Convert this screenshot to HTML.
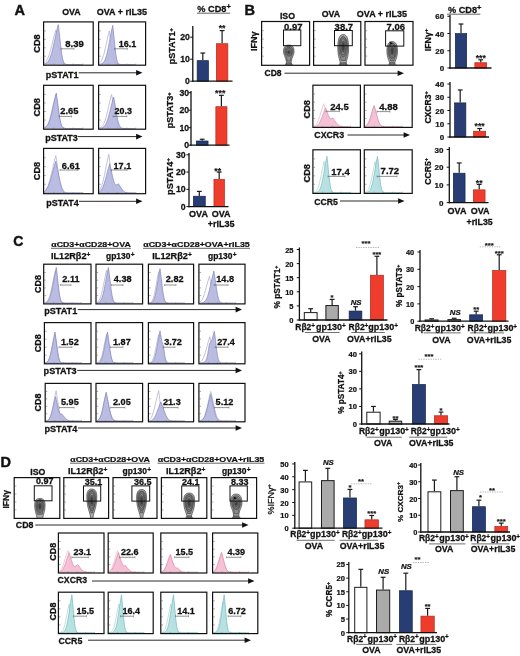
<!DOCTYPE html>
<html lang="en"><head><meta charset="utf-8"><title>Figure</title>
<style>html,body{margin:0;padding:0;background:#fff;}svg{display:block;}</style></head>
<body>
<svg width="520" height="656" viewBox="0 0 520 656" font-family='"Liberation Sans", Arial, Helvetica, sans-serif'>
<rect width="520" height="656" fill="#ffffff"/>
<text x="14.60" y="14.80" font-size="14.5" font-weight="bold" fill="#111" stroke="#111" stroke-width="0.43">A</text>
<text x="71.50" y="15.00" font-size="8.8" font-weight="bold" fill="#111" stroke="#111" stroke-width="0.26" text-anchor="middle">OVA</text>
<text x="121.90" y="15.20" font-size="9.0" font-weight="bold" fill="#111" stroke="#111" stroke-width="0.27" text-anchor="middle">OVA + rIL35</text>
<clipPath id="c430_213"><rect x="44.20" y="22.50" width="48.40" height="42.10"/></clipPath>
<g clip-path="url(#c430_213)">
<path d="M44.20 63.16 L45.11 62.45 L46.02 61.44 L46.92 60.07 L47.83 58.26 L48.74 55.98 L49.65 53.23 L50.55 50.06 L51.46 46.58 L52.37 42.93 L53.28 39.28 L54.18 35.78 L55.09 32.52 L55.82 30.08 L56.00 31.16 L56.91 37.02 L57.81 43.51 L58.72 49.92 L59.63 55.35 L60.54 59.32 L61.44 61.84 L62.35 63.25 L63.26 63.96 L64.16 64.29 L65.07 64.44 L65.98 64.51 L66.89 64.54 L67.80 64.57 L68.70 64.58 L69.61 64.59 L70.52 64.59 L71.43 64.59 L72.33 64.60 L73.24 64.60 L74.15 64.60 L75.06 64.60 L75.96 64.60 L76.87 64.60 L77.78 64.60 L78.69 64.60 L79.59 64.60 L80.50 64.60" fill="#ffffff" fill-opacity="0.6" stroke="#b4b4cf" stroke-width="0.8"/>
<path d="M44.20 64.05 L45.17 63.74 L46.14 63.26 L47.10 62.53 L48.07 61.46 L49.04 59.93 L50.01 57.86 L50.98 55.18 L51.94 51.88 L52.91 48.01 L53.88 43.72 L54.85 39.21 L55.82 34.72 L56.78 30.43 L57.75 26.47 L58.24 24.61 L58.72 28.37 L59.69 36.81 L60.66 45.68 L61.62 53.36 L62.59 58.77 L63.56 61.92 L64.53 63.46 L65.50 64.12 L66.46 64.38 L67.43 64.49 L68.40 64.54 L69.37 64.56 L70.34 64.58 L71.30 64.59 L72.27 64.59 L73.24 64.60 L74.21 64.60 L75.18 64.60 L76.14 64.60 L77.11 64.60 L78.08 64.60 L79.05 64.60 L80.02 64.60 L80.98 64.60 L81.95 64.60 L82.92 64.60 L82.92 64.60 L44.20 64.60 Z" fill="#b4b6e0" fill-opacity="0.92" stroke="#8385c1" stroke-width="0.7"/>
</g>
<line x1="44.20" y1="30.92" x2="45.80" y2="30.92" stroke="#555" stroke-width="0.5"/>
<line x1="44.20" y1="39.34" x2="45.80" y2="39.34" stroke="#555" stroke-width="0.5"/>
<line x1="44.20" y1="47.76" x2="45.80" y2="47.76" stroke="#555" stroke-width="0.5"/>
<line x1="44.20" y1="56.18" x2="45.80" y2="56.18" stroke="#555" stroke-width="0.5"/>
<line x1="53.88" y1="64.60" x2="53.88" y2="63.40" stroke="#777" stroke-width="0.4"/>
<line x1="63.56" y1="64.60" x2="63.56" y2="63.40" stroke="#777" stroke-width="0.4"/>
<line x1="73.24" y1="64.60" x2="73.24" y2="63.40" stroke="#777" stroke-width="0.4"/>
<line x1="82.92" y1="64.60" x2="82.92" y2="63.40" stroke="#777" stroke-width="0.4"/>
<rect x="43.60" y="21.90" width="49.60" height="43.30" fill="none" stroke="#111" stroke-width="1.2"/>
<line x1="61.00" y1="48.80" x2="74.00" y2="48.80" stroke="#666" stroke-width="0.7"/>
<line x1="61.00" y1="47.80" x2="61.00" y2="49.80" stroke="#666" stroke-width="0.5"/>
<line x1="74.00" y1="47.80" x2="74.00" y2="49.80" stroke="#666" stroke-width="0.5"/>
<text x="65.20" y="46.60" font-size="9.5" font-weight="bold" fill="#111" stroke="#111" stroke-width="0.28" textLength="18.60" lengthAdjust="spacingAndGlyphs">8.39</text>
<clipPath id="c980_213"><rect x="99.20" y="22.50" width="45.80" height="42.10"/></clipPath>
<g clip-path="url(#c980_213)">
<path d="M99.20 63.37 L100.06 62.66 L100.92 61.61 L101.78 60.12 L102.64 58.09 L103.49 55.49 L104.35 52.33 L105.21 48.71 L106.07 44.79 L106.93 40.80 L107.79 36.94 L108.65 33.36 L109.28 30.92 L109.51 32.43 L110.36 38.62 L111.22 45.43 L112.08 51.91 L112.94 57.11 L113.80 60.63 L114.66 62.69 L115.52 63.73 L116.38 64.20 L117.23 64.41 L118.09 64.50 L118.95 64.54 L119.81 64.56 L120.67 64.58 L121.53 64.59 L122.39 64.59 L123.25 64.59 L124.10 64.60 L124.96 64.60 L125.82 64.60 L126.68 64.60 L127.54 64.60 L128.40 64.60 L129.26 64.60 L130.12 64.60 L130.97 64.60 L131.83 64.60 L132.69 64.60 L133.55 64.60" fill="#ffffff" fill-opacity="0.6" stroke="#b4b4cf" stroke-width="0.8"/>
<path d="M99.20 64.36 L100.12 64.22 L101.03 64.00 L101.95 63.61 L102.86 62.98 L103.78 61.99 L104.70 60.50 L105.61 58.37 L106.53 55.51 L107.44 51.88 L108.36 47.58 L109.28 42.81 L110.19 37.85 L111.11 33.03 L112.02 28.55 L112.71 25.45 L112.94 27.38 L113.86 35.95 L114.77 45.24 L115.69 53.38 L116.60 59.03 L117.52 62.19 L118.44 63.64 L119.35 64.21 L120.27 64.43 L121.18 64.51 L122.10 64.55 L123.02 64.57 L123.93 64.58 L124.85 64.59 L125.76 64.60 L126.68 64.60 L127.60 64.60 L128.51 64.60 L129.43 64.60 L130.34 64.60 L131.26 64.60 L132.18 64.60 L133.09 64.60 L134.01 64.60 L134.92 64.60 L135.84 64.60 L135.84 64.60 L99.20 64.60 Z" fill="#b4b6e0" fill-opacity="0.92" stroke="#8385c1" stroke-width="0.7"/>
</g>
<line x1="99.20" y1="30.92" x2="100.80" y2="30.92" stroke="#555" stroke-width="0.5"/>
<line x1="99.20" y1="39.34" x2="100.80" y2="39.34" stroke="#555" stroke-width="0.5"/>
<line x1="99.20" y1="47.76" x2="100.80" y2="47.76" stroke="#555" stroke-width="0.5"/>
<line x1="99.20" y1="56.18" x2="100.80" y2="56.18" stroke="#555" stroke-width="0.5"/>
<line x1="108.36" y1="64.60" x2="108.36" y2="63.40" stroke="#777" stroke-width="0.4"/>
<line x1="117.52" y1="64.60" x2="117.52" y2="63.40" stroke="#777" stroke-width="0.4"/>
<line x1="126.68" y1="64.60" x2="126.68" y2="63.40" stroke="#777" stroke-width="0.4"/>
<line x1="135.84" y1="64.60" x2="135.84" y2="63.40" stroke="#777" stroke-width="0.4"/>
<rect x="98.60" y="21.90" width="47.00" height="43.30" fill="none" stroke="#111" stroke-width="1.2"/>
<line x1="114.50" y1="48.80" x2="127.50" y2="48.80" stroke="#666" stroke-width="0.7"/>
<line x1="114.50" y1="47.80" x2="114.50" y2="49.80" stroke="#666" stroke-width="0.5"/>
<line x1="127.50" y1="47.80" x2="127.50" y2="49.80" stroke="#666" stroke-width="0.5"/>
<text x="118.80" y="46.60" font-size="9.5" font-weight="bold" fill="#111" stroke="#111" stroke-width="0.28" textLength="17.60" lengthAdjust="spacingAndGlyphs">16.1</text>
<text x="40.00" y="43.55" font-size="9.2" font-weight="bold" fill="#111" stroke="#111" stroke-width="0.28" text-anchor="middle" transform="rotate(-90 40.00 43.55)">CD8</text>
<clipPath id="c430_847"><rect x="44.20" y="85.90" width="48.40" height="42.70"/></clipPath>
<g clip-path="url(#c430_847)">
<path d="M44.20 127.84 L45.11 127.39 L46.02 126.69 L46.92 125.65 L47.83 124.17 L48.74 122.15 L49.65 119.56 L50.55 116.39 L51.46 112.74 L52.37 108.78 L53.28 104.73 L54.18 100.80 L55.09 97.15 L55.82 94.44 L56.00 95.47 L56.91 101.01 L57.81 107.16 L58.72 113.30 L59.63 118.64 L60.54 122.68 L61.44 125.37 L62.35 126.95 L63.26 127.79 L64.16 128.20 L65.07 128.39 L65.98 128.48 L66.89 128.53 L67.80 128.56 L68.70 128.57 L69.61 128.58 L70.52 128.59 L71.43 128.59 L72.33 128.59 L73.24 128.60 L74.15 128.60 L75.06 128.60 L75.96 128.60 L76.87 128.60 L77.78 128.60 L78.69 128.60 L79.59 128.60 L80.50 128.60" fill="#ffffff" fill-opacity="0.6" stroke="#b4b4cf" stroke-width="0.8"/>
<path d="M44.20 127.98 L45.17 127.59 L46.14 126.95 L47.10 125.95 L48.07 124.46 L49.04 122.38 L50.01 119.61 L50.98 116.17 L51.94 112.15 L52.91 107.76 L53.88 103.28 L54.85 98.97 L55.82 95.01 L56.30 93.16 L56.78 96.36 L57.75 103.50 L58.72 111.07 L59.69 117.80 L60.66 122.73 L61.62 125.76 L62.59 127.33 L63.56 128.05 L64.53 128.35 L65.50 128.48 L66.46 128.53 L67.43 128.56 L68.40 128.58 L69.37 128.59 L70.34 128.59 L71.30 128.59 L72.27 128.60 L73.24 128.60 L74.21 128.60 L75.18 128.60 L76.14 128.60 L77.11 128.60 L78.08 128.60 L79.05 128.60 L80.02 128.60 L80.98 128.60 L81.95 128.60 L82.92 128.60 L82.92 128.60 L44.20 128.60 Z" fill="#b4b6e0" fill-opacity="0.92" stroke="#8385c1" stroke-width="0.7"/>
</g>
<line x1="44.20" y1="94.44" x2="45.80" y2="94.44" stroke="#555" stroke-width="0.5"/>
<line x1="44.20" y1="102.98" x2="45.80" y2="102.98" stroke="#555" stroke-width="0.5"/>
<line x1="44.20" y1="111.52" x2="45.80" y2="111.52" stroke="#555" stroke-width="0.5"/>
<line x1="44.20" y1="120.06" x2="45.80" y2="120.06" stroke="#555" stroke-width="0.5"/>
<line x1="53.88" y1="128.60" x2="53.88" y2="127.40" stroke="#777" stroke-width="0.4"/>
<line x1="63.56" y1="128.60" x2="63.56" y2="127.40" stroke="#777" stroke-width="0.4"/>
<line x1="73.24" y1="128.60" x2="73.24" y2="127.40" stroke="#777" stroke-width="0.4"/>
<line x1="82.92" y1="128.60" x2="82.92" y2="127.40" stroke="#777" stroke-width="0.4"/>
<rect x="43.60" y="85.30" width="49.60" height="43.90" fill="none" stroke="#111" stroke-width="1.2"/>
<line x1="59.00" y1="116.40" x2="71.50" y2="116.40" stroke="#666" stroke-width="0.7"/>
<line x1="59.00" y1="115.40" x2="59.00" y2="117.40" stroke="#666" stroke-width="0.5"/>
<line x1="71.50" y1="115.40" x2="71.50" y2="117.40" stroke="#666" stroke-width="0.5"/>
<text x="60.20" y="114.20" font-size="9.5" font-weight="bold" fill="#111" stroke="#111" stroke-width="0.28" textLength="18.20" lengthAdjust="spacingAndGlyphs">2.65</text>
<clipPath id="c980_847"><rect x="99.20" y="85.90" width="45.80" height="42.70"/></clipPath>
<g clip-path="url(#c980_847)">
<path d="M99.20 128.07 L100.06 127.78 L100.92 127.34 L101.78 126.66 L102.64 125.68 L103.49 124.30 L104.35 122.46 L105.21 120.09 L106.07 117.21 L106.93 113.88 L107.79 110.21 L108.65 106.39 L109.51 102.61 L110.36 99.02 L111.22 95.70 L111.57 94.44 L112.08 97.05 L112.94 101.80 L113.80 106.95 L114.66 112.11 L115.52 116.81 L116.38 120.70 L117.23 123.62 L118.09 125.64 L118.95 126.91 L119.81 127.67 L120.67 128.08 L121.53 128.31 L122.39 128.43 L123.25 128.49 L124.10 128.53 L124.96 128.55 L125.82 128.57 L126.68 128.58 L127.54 128.58 L128.40 128.59 L129.26 128.59 L130.12 128.59 L130.97 128.60 L131.83 128.60 L132.69 128.60 L133.55 128.60" fill="#ffffff" fill-opacity="0.6" stroke="#b4b4cf" stroke-width="0.8"/>
<path d="M99.20 128.42 L100.12 128.32 L101.03 128.16 L101.95 127.91 L102.86 127.50 L103.78 126.86 L104.70 125.90 L105.61 124.53 L106.53 122.65 L107.44 120.24 L108.36 117.28 L109.28 113.88 L110.19 110.18 L111.11 106.41 L112.02 102.76 L112.94 99.37 L113.63 97.00 L113.86 98.17 L114.77 103.20 L115.69 108.77 L116.60 114.32 L117.52 119.19 L118.44 122.92 L119.35 125.44 L120.27 126.95 L121.18 127.78 L122.10 128.19 L123.02 128.39 L123.93 128.48 L124.85 128.53 L125.76 128.55 L126.68 128.57 L127.60 128.58 L128.51 128.59 L129.43 128.59 L130.34 128.59 L131.26 128.60 L132.18 128.60 L133.09 128.60 L134.01 128.60 L134.92 128.60 L135.84 128.60 L135.84 128.60 L99.20 128.60 Z" fill="#b4b6e0" fill-opacity="0.92" stroke="#8385c1" stroke-width="0.7"/>
</g>
<line x1="99.20" y1="94.44" x2="100.80" y2="94.44" stroke="#555" stroke-width="0.5"/>
<line x1="99.20" y1="102.98" x2="100.80" y2="102.98" stroke="#555" stroke-width="0.5"/>
<line x1="99.20" y1="111.52" x2="100.80" y2="111.52" stroke="#555" stroke-width="0.5"/>
<line x1="99.20" y1="120.06" x2="100.80" y2="120.06" stroke="#555" stroke-width="0.5"/>
<line x1="108.36" y1="128.60" x2="108.36" y2="127.40" stroke="#777" stroke-width="0.4"/>
<line x1="117.52" y1="128.60" x2="117.52" y2="127.40" stroke="#777" stroke-width="0.4"/>
<line x1="126.68" y1="128.60" x2="126.68" y2="127.40" stroke="#777" stroke-width="0.4"/>
<line x1="135.84" y1="128.60" x2="135.84" y2="127.40" stroke="#777" stroke-width="0.4"/>
<rect x="98.60" y="85.30" width="47.00" height="43.90" fill="none" stroke="#111" stroke-width="1.2"/>
<line x1="113.00" y1="116.40" x2="127.00" y2="116.40" stroke="#666" stroke-width="0.7"/>
<line x1="113.00" y1="115.40" x2="113.00" y2="117.40" stroke="#666" stroke-width="0.5"/>
<line x1="127.00" y1="115.40" x2="127.00" y2="117.40" stroke="#666" stroke-width="0.5"/>
<text x="114.60" y="114.20" font-size="9.5" font-weight="bold" fill="#111" stroke="#111" stroke-width="0.28" textLength="17.40" lengthAdjust="spacingAndGlyphs">20.3</text>
<text x="40.00" y="107.25" font-size="9.2" font-weight="bold" fill="#111" stroke="#111" stroke-width="0.28" text-anchor="middle" transform="rotate(-90 40.00 107.25)">CD8</text>
<clipPath id="c430_1478"><rect x="44.20" y="149.00" width="48.40" height="44.10"/></clipPath>
<g clip-path="url(#c430_1478)">
<path d="M44.20 191.54 L45.11 190.77 L46.02 189.67 L46.92 188.18 L47.83 186.21 L48.74 183.74 L49.65 180.75 L50.55 177.31 L51.46 173.53 L52.37 169.57 L53.28 165.61 L54.18 161.81 L55.09 158.27 L55.82 155.62 L56.00 156.74 L56.91 162.82 L57.81 169.57 L58.72 176.31 L59.63 182.17 L60.54 186.61 L61.44 189.56 L62.35 191.29 L63.26 192.21 L64.16 192.66 L65.07 192.87 L65.98 192.97 L66.89 193.02 L67.80 193.05 L68.70 193.07 L69.61 193.08 L70.52 193.09 L71.43 193.09 L72.33 193.09 L73.24 193.10 L74.15 193.10 L75.06 193.10 L75.96 193.10 L76.87 193.10 L77.78 193.10 L78.69 193.10 L79.59 193.10 L80.50 193.10" fill="#ffffff" fill-opacity="0.6" stroke="#b4b4cf" stroke-width="0.8"/>
<path d="M44.20 191.78 L45.17 191.07 L46.14 190.05 L47.10 188.63 L48.07 186.75 L49.04 184.37 L50.01 181.51 L50.98 178.26 L51.94 174.74 L52.91 171.15 L53.88 167.65 L54.85 164.37 L55.82 161.35 L55.82 161.35 L56.78 165.51 L57.75 170.13 L58.72 175.00 L59.69 179.70 L60.66 183.80 L61.62 187.05 L62.59 189.39 L63.56 190.95 L64.53 191.90 L65.50 192.44 L66.46 192.73 L67.43 192.89 L68.40 192.97 L69.37 193.02 L70.34 193.05 L71.30 193.06 L72.27 193.07 L73.24 193.08 L74.21 193.09 L75.18 193.09 L76.14 193.09 L77.11 193.10 L78.08 193.10 L79.05 193.10 L80.02 193.10 L80.98 193.10 L81.95 193.10 L82.92 193.10 L82.92 193.10 L44.20 193.10 Z" fill="#b4b6e0" fill-opacity="0.92" stroke="#8385c1" stroke-width="0.7"/>
</g>
<line x1="44.20" y1="157.82" x2="45.80" y2="157.82" stroke="#555" stroke-width="0.5"/>
<line x1="44.20" y1="166.64" x2="45.80" y2="166.64" stroke="#555" stroke-width="0.5"/>
<line x1="44.20" y1="175.46" x2="45.80" y2="175.46" stroke="#555" stroke-width="0.5"/>
<line x1="44.20" y1="184.28" x2="45.80" y2="184.28" stroke="#555" stroke-width="0.5"/>
<line x1="53.88" y1="193.10" x2="53.88" y2="191.90" stroke="#777" stroke-width="0.4"/>
<line x1="63.56" y1="193.10" x2="63.56" y2="191.90" stroke="#777" stroke-width="0.4"/>
<line x1="73.24" y1="193.10" x2="73.24" y2="191.90" stroke="#777" stroke-width="0.4"/>
<line x1="82.92" y1="193.10" x2="82.92" y2="191.90" stroke="#777" stroke-width="0.4"/>
<rect x="43.60" y="148.40" width="49.60" height="45.30" fill="none" stroke="#111" stroke-width="1.2"/>
<line x1="60.00" y1="170.00" x2="78.00" y2="170.00" stroke="#666" stroke-width="0.7"/>
<line x1="60.00" y1="169.00" x2="60.00" y2="171.00" stroke="#666" stroke-width="0.5"/>
<line x1="78.00" y1="169.00" x2="78.00" y2="171.00" stroke="#666" stroke-width="0.5"/>
<text x="61.80" y="169.00" font-size="9.5" font-weight="bold" fill="#111" stroke="#111" stroke-width="0.28" textLength="18.00" lengthAdjust="spacingAndGlyphs">6.61</text>
<clipPath id="c980_1478"><rect x="99.20" y="149.00" width="45.80" height="44.10"/></clipPath>
<g clip-path="url(#c980_1478)">
<path d="M99.20 190.71 L100.06 189.51 L100.92 187.84 L101.78 185.63 L102.64 182.83 L103.49 179.44 L104.35 175.57 L105.21 171.35 L106.07 167.00 L106.93 162.73 L107.79 158.71 L108.65 155.00 L108.82 154.29 L109.51 160.28 L110.36 168.74 L111.22 177.17 L112.08 184.02 L112.94 188.57 L113.80 191.08 L114.66 192.25 L115.52 192.74 L116.38 192.93 L117.23 193.01 L118.09 193.05 L118.95 193.07 L119.81 193.08 L120.67 193.09 L121.53 193.09 L122.39 193.10 L123.25 193.10 L124.10 193.10 L124.96 193.10 L125.82 193.10 L126.68 193.10 L127.54 193.10 L128.40 193.10 L129.26 193.10 L130.12 193.10 L130.97 193.10 L131.83 193.10 L132.69 193.10 L133.55 193.10" fill="#ffffff" fill-opacity="0.6" stroke="#b4b4cf" stroke-width="0.8"/>
<path d="M99.20 191.96 L100.12 191.30 L101.03 190.33 L101.95 188.96 L102.86 187.11 L103.78 184.75 L104.70 181.91 L105.61 178.68 L106.53 175.23 L107.44 171.74 L108.36 168.39 L109.28 165.25 L109.73 163.75 L110.19 165.66 L111.11 169.77 L112.02 174.10 L112.94 178.17 L113.86 181.46 L114.77 183.63 L115.69 184.68 L116.60 184.83 L117.52 184.43 L118.44 183.75 L118.44 183.75 L119.35 185.15 L120.27 186.56 L121.18 187.98 L122.10 189.32 L123.02 190.48 L123.93 191.39 L124.85 192.05 L125.76 192.49 L126.68 192.76 L127.60 192.91 L128.51 192.99 L129.43 193.04 L130.34 193.06 L131.26 193.08 L132.18 193.08 L133.09 193.09 L134.01 193.09 L134.92 193.09 L135.84 193.10 L135.84 193.10 L99.20 193.10 Z" fill="#b4b6e0" fill-opacity="0.92" stroke="#8385c1" stroke-width="0.7"/>
</g>
<line x1="99.20" y1="157.82" x2="100.80" y2="157.82" stroke="#555" stroke-width="0.5"/>
<line x1="99.20" y1="166.64" x2="100.80" y2="166.64" stroke="#555" stroke-width="0.5"/>
<line x1="99.20" y1="175.46" x2="100.80" y2="175.46" stroke="#555" stroke-width="0.5"/>
<line x1="99.20" y1="184.28" x2="100.80" y2="184.28" stroke="#555" stroke-width="0.5"/>
<line x1="108.36" y1="193.10" x2="108.36" y2="191.90" stroke="#777" stroke-width="0.4"/>
<line x1="117.52" y1="193.10" x2="117.52" y2="191.90" stroke="#777" stroke-width="0.4"/>
<line x1="126.68" y1="193.10" x2="126.68" y2="191.90" stroke="#777" stroke-width="0.4"/>
<line x1="135.84" y1="193.10" x2="135.84" y2="191.90" stroke="#777" stroke-width="0.4"/>
<rect x="98.60" y="148.40" width="47.00" height="45.30" fill="none" stroke="#111" stroke-width="1.2"/>
<line x1="111.00" y1="170.00" x2="127.00" y2="170.00" stroke="#666" stroke-width="0.7"/>
<line x1="111.00" y1="169.00" x2="111.00" y2="171.00" stroke="#666" stroke-width="0.5"/>
<line x1="127.00" y1="169.00" x2="127.00" y2="171.00" stroke="#666" stroke-width="0.5"/>
<text x="113.60" y="169.00" font-size="9.5" font-weight="bold" fill="#111" stroke="#111" stroke-width="0.28" textLength="17.60" lengthAdjust="spacingAndGlyphs">17.1</text>
<text x="40.00" y="171.05" font-size="9.2" font-weight="bold" fill="#111" stroke="#111" stroke-width="0.28" text-anchor="middle" transform="rotate(-90 40.00 171.05)">CD8</text>
<text x="45.80" y="77.60" font-size="9.0" font-weight="bold" fill="#111" stroke="#111" stroke-width="0.27">pSTAT1</text>
<line x1="78.60" y1="72.80" x2="137.10" y2="72.80" stroke="#2a2a2a" stroke-width="1.0"/>
<path d="M142.50 72.80 L136.10 70.00 L136.10 75.60 Z" fill="#111"/>
<text x="45.20" y="141.00" font-size="9.0" font-weight="bold" fill="#111" stroke="#111" stroke-width="0.27">pSTAT3</text>
<line x1="78.00" y1="136.60" x2="137.10" y2="136.60" stroke="#2a2a2a" stroke-width="1.0"/>
<path d="M142.50 136.60 L136.10 133.80 L136.10 139.40 Z" fill="#111"/>
<text x="46.20" y="206.00" font-size="9.0" font-weight="bold" fill="#111" stroke="#111" stroke-width="0.27">pSTAT4</text>
<line x1="79.00" y1="201.30" x2="137.10" y2="201.30" stroke="#2a2a2a" stroke-width="1.0"/>
<path d="M142.50 201.30 L136.10 198.50 L136.10 204.10 Z" fill="#111"/>
<text x="197.30" y="11.80" font-size="9.2" font-weight="bold" fill="#111" stroke="#111" stroke-width="0.28">% CD8<tspan dy="-2.76" font-size="7.50">+</tspan></text>
<line x1="197.00" y1="13.20" x2="230.20" y2="13.20" stroke="#222" stroke-width="0.7"/>
<line x1="202.80" y1="60.30" x2="202.80" y2="53.04" stroke="#1a1a1a" stroke-width="1.2"/>
<line x1="200.40" y1="53.04" x2="205.20" y2="53.04" stroke="#1a1a1a" stroke-width="1.2"/>
<rect x="197.15" y="60.65" width="11.30" height="20.55" fill="#273d74" stroke="#15244a" stroke-width="0.7"/>
<line x1="222.10" y1="43.36" x2="222.10" y2="30.60" stroke="#1a1a1a" stroke-width="1.2"/>
<line x1="219.70" y1="30.60" x2="224.50" y2="30.60" stroke="#1a1a1a" stroke-width="1.2"/>
<rect x="216.35" y="43.71" width="11.50" height="37.49" fill="#ee3d2c" stroke="#ae2a1c" stroke-width="0.7"/>
<text x="222.10" y="31.27" font-size="8.8" font-weight="bold" fill="#111" stroke="#111" stroke-width="0.15" text-anchor="middle">**</text>
<line x1="192.80" y1="26.00" x2="192.80" y2="81.85" stroke="#111" stroke-width="1.3"/>
<line x1="192.15" y1="81.20" x2="232.50" y2="81.20" stroke="#111" stroke-width="1.3"/>
<line x1="190.20" y1="81.20" x2="192.80" y2="81.20" stroke="#111" stroke-width="1.0"/>
<text x="189.80" y="84.20" font-size="8.7" font-weight="bold" fill="#111" stroke="#111" stroke-width="0.26" text-anchor="end">0</text>
<line x1="190.20" y1="59.20" x2="192.80" y2="59.20" stroke="#111" stroke-width="1.0"/>
<text x="189.80" y="62.20" font-size="8.7" font-weight="bold" fill="#111" stroke="#111" stroke-width="0.26" text-anchor="end">10</text>
<line x1="190.20" y1="37.20" x2="192.80" y2="37.20" stroke="#111" stroke-width="1.0"/>
<text x="189.80" y="40.20" font-size="8.7" font-weight="bold" fill="#111" stroke="#111" stroke-width="0.26" text-anchor="end">20</text>
<text x="175.20" y="46.20" font-size="9" font-weight="bold" fill="#111" stroke="#111" stroke-width="0.27" text-anchor="middle" transform="rotate(-90 175.20 46.20)">pSTAT1<tspan dy="-2.70" font-size="5.76">+</tspan></text>
<line x1="202.20" y1="140.65" x2="202.20" y2="139.25" stroke="#1a1a1a" stroke-width="1.2"/>
<line x1="199.80" y1="139.25" x2="204.60" y2="139.25" stroke="#1a1a1a" stroke-width="1.2"/>
<rect x="196.35" y="141.00" width="11.70" height="4.20" fill="#273d74" stroke="#15244a" stroke-width="0.7"/>
<line x1="221.40" y1="106.35" x2="221.40" y2="95.33" stroke="#1a1a1a" stroke-width="1.2"/>
<line x1="219.00" y1="95.33" x2="223.80" y2="95.33" stroke="#1a1a1a" stroke-width="1.2"/>
<rect x="215.85" y="106.70" width="11.10" height="38.50" fill="#ee3d2c" stroke="#ae2a1c" stroke-width="0.7"/>
<text x="220.20" y="96.24" font-size="8.8" font-weight="bold" fill="#111" stroke="#111" stroke-width="0.15" text-anchor="middle">***</text>
<line x1="191.00" y1="91.00" x2="191.00" y2="145.85" stroke="#111" stroke-width="1.3"/>
<line x1="190.35" y1="145.20" x2="229.50" y2="145.20" stroke="#111" stroke-width="1.3"/>
<line x1="188.40" y1="145.20" x2="191.00" y2="145.20" stroke="#111" stroke-width="1.0"/>
<text x="189.20" y="148.20" font-size="8.7" font-weight="bold" fill="#111" stroke="#111" stroke-width="0.26" text-anchor="end">0</text>
<line x1="188.40" y1="127.70" x2="191.00" y2="127.70" stroke="#111" stroke-width="1.0"/>
<text x="189.20" y="130.70" font-size="8.7" font-weight="bold" fill="#111" stroke="#111" stroke-width="0.26" text-anchor="end">10</text>
<line x1="188.40" y1="110.20" x2="191.00" y2="110.20" stroke="#111" stroke-width="1.0"/>
<text x="189.20" y="113.20" font-size="8.7" font-weight="bold" fill="#111" stroke="#111" stroke-width="0.26" text-anchor="end">20</text>
<line x1="188.40" y1="92.70" x2="191.00" y2="92.70" stroke="#111" stroke-width="1.0"/>
<text x="189.20" y="95.70" font-size="8.7" font-weight="bold" fill="#111" stroke="#111" stroke-width="0.26" text-anchor="end">30</text>
<text x="173.40" y="110.30" font-size="9" font-weight="bold" fill="#111" stroke="#111" stroke-width="0.27" text-anchor="middle" transform="rotate(-90 173.40 110.30)">pSTAT3<tspan dy="-2.70" font-size="5.76">+</tspan></text>
<line x1="199.30" y1="195.89" x2="199.30" y2="191.41" stroke="#1a1a1a" stroke-width="1.2"/>
<line x1="196.90" y1="191.41" x2="201.70" y2="191.41" stroke="#1a1a1a" stroke-width="1.2"/>
<rect x="193.35" y="196.24" width="11.90" height="10.36" fill="#273d74" stroke="#15244a" stroke-width="0.7"/>
<line x1="219.20" y1="178.97" x2="219.20" y2="172.07" stroke="#1a1a1a" stroke-width="1.2"/>
<line x1="216.80" y1="172.07" x2="221.60" y2="172.07" stroke="#1a1a1a" stroke-width="1.2"/>
<rect x="213.95" y="179.32" width="10.50" height="27.28" fill="#ee3d2c" stroke="#ae2a1c" stroke-width="0.7"/>
<text x="217.80" y="173.64" font-size="8.8" font-weight="bold" fill="#111" stroke="#111" stroke-width="0.15" text-anchor="middle">**</text>
<line x1="189.00" y1="153.00" x2="189.00" y2="207.25" stroke="#111" stroke-width="1.3"/>
<line x1="188.35" y1="206.60" x2="228.50" y2="206.60" stroke="#111" stroke-width="1.3"/>
<line x1="186.40" y1="206.60" x2="189.00" y2="206.60" stroke="#111" stroke-width="1.0"/>
<text x="185.60" y="209.60" font-size="8.7" font-weight="bold" fill="#111" stroke="#111" stroke-width="0.26" text-anchor="end">0</text>
<line x1="186.40" y1="189.33" x2="189.00" y2="189.33" stroke="#111" stroke-width="1.0"/>
<text x="185.60" y="192.33" font-size="8.7" font-weight="bold" fill="#111" stroke="#111" stroke-width="0.26" text-anchor="end">10</text>
<line x1="186.40" y1="172.07" x2="189.00" y2="172.07" stroke="#111" stroke-width="1.0"/>
<text x="185.60" y="175.07" font-size="8.7" font-weight="bold" fill="#111" stroke="#111" stroke-width="0.26" text-anchor="end">20</text>
<line x1="186.40" y1="154.80" x2="189.00" y2="154.80" stroke="#111" stroke-width="1.0"/>
<text x="185.60" y="157.80" font-size="8.7" font-weight="bold" fill="#111" stroke="#111" stroke-width="0.26" text-anchor="end">30</text>
<text x="173.20" y="176.50" font-size="9.2" font-weight="bold" fill="#111" stroke="#111" stroke-width="0.28" text-anchor="middle" transform="rotate(-90 173.20 176.50)">pSTAT4<tspan dy="-2.76" font-size="5.89">+</tspan></text>
<text x="198.50" y="217.00" font-size="9.0" font-weight="bold" fill="#111" stroke="#111" stroke-width="0.27" text-anchor="middle">OVA</text>
<text x="221.20" y="217.00" font-size="9.0" font-weight="bold" fill="#111" stroke="#111" stroke-width="0.27" text-anchor="middle">OVA</text>
<text x="221.20" y="227.00" font-size="9.0" font-weight="bold" fill="#111" stroke="#111" stroke-width="0.27" text-anchor="middle">+rIL35</text>
<text x="244.60" y="14.80" font-size="14.5" font-weight="bold" fill="#111" stroke="#111" stroke-width="0.43">B</text>
<text x="287.50" y="18.80" font-size="8.8" font-weight="bold" fill="#111" stroke="#111" stroke-width="0.26" text-anchor="middle">ISO</text>
<text x="331.00" y="17.00" font-size="8.8" font-weight="bold" fill="#111" stroke="#111" stroke-width="0.26" text-anchor="middle">OVA</text>
<text x="382.00" y="17.30" font-size="9.0" font-weight="bold" fill="#111" stroke="#111" stroke-width="0.27" text-anchor="middle">OVA + rIL35</text>
<clipPath id="k2610_209"><rect x="262.20" y="22.10" width="46.80" height="42.60"/></clipPath>
<g clip-path="url(#k2610_209)">
<path d="M288.80 45.00 C292.74 45.00 294.05 47.47 294.05 51.50 C294.05 56.09 291.05 57.17 291.05 65.00 L286.55 65.00 C286.55 57.17 283.55 56.09 283.55 51.50 C283.55 47.47 284.86 45.00 288.80 45.00Z" fill="#ababab" stroke="#2e2e2e" stroke-width="0.6"/>
<path d="M288.80 46.30 C291.95 46.30 293.00 48.28 293.00 51.50 C293.00 54.76 290.60 55.53 290.60 61.10 L287.00 61.10 C287.00 55.53 284.60 54.76 284.60 51.50 C284.60 48.28 285.65 46.30 288.80 46.30Z" fill="#8e8e8e" stroke="#2e2e2e" stroke-width="0.55"/>
<path d="M288.80 47.26 C290.60 47.26 292.06 49.28 292.06 51.78 C292.06 54.27 290.60 56.29 288.80 56.29 C287.00 56.29 285.55 54.27 285.55 51.78 C285.55 49.28 287.00 47.26 288.80 47.26Z" fill="#7c7c7c" stroke="#2e2e2e" stroke-width="0.5"/>
<path d="M288.80 48.62 C290.10 48.62 291.16 50.09 291.16 51.90 C291.16 53.71 290.10 55.18 288.80 55.18 C287.50 55.18 286.44 53.71 286.44 51.90 C286.44 50.09 287.50 48.62 288.80 48.62Z" fill="#919191" stroke="#2e2e2e" stroke-width="0.5"/>
<path d="M288.80 49.91 C289.64 49.91 290.32 50.85 290.32 52.02 C290.32 53.18 289.64 54.13 288.80 54.13 C287.96 54.13 287.28 53.18 287.28 52.02 C287.28 50.85 287.96 49.91 288.80 49.91Z" fill="#666666" stroke="#2e2e2e" stroke-width="0.5"/>
<path d="M288.80 51.11 C289.21 51.11 289.54 51.56 289.54 52.13 C289.54 52.69 289.21 53.15 288.80 53.15 C288.39 53.15 288.06 52.69 288.06 52.13 C288.06 51.56 288.39 51.11 288.80 51.11Z" fill="#454545" stroke="#2e2e2e" stroke-width="0.5"/>
<path d="M284.95 65.00 L286.55 62.80 L291.05 62.80 L292.65 65.00Z" fill="#777" stroke="#2e2e2e" stroke-width="0.5"/>
</g>
<line x1="262.20" y1="30.62" x2="263.80" y2="30.62" stroke="#555" stroke-width="0.5"/>
<line x1="262.20" y1="39.14" x2="263.80" y2="39.14" stroke="#555" stroke-width="0.5"/>
<line x1="262.20" y1="47.66" x2="263.80" y2="47.66" stroke="#555" stroke-width="0.5"/>
<line x1="262.20" y1="56.18" x2="263.80" y2="56.18" stroke="#555" stroke-width="0.5"/>
<rect x="261.60" y="21.50" width="48.00" height="43.80" fill="none" stroke="#111" stroke-width="1.2"/>
<rect x="283.50" y="30.00" width="17.30" height="15.70" fill="none" stroke="#111" stroke-width="1.0"/>
<text x="284.00" y="29.60" font-size="9.5" font-weight="bold" fill="#111" stroke="#111" stroke-width="0.28">0.97</text>
<clipPath id="k3130_209"><rect x="314.20" y="22.10" width="46.00" height="42.60"/></clipPath>
<g clip-path="url(#k3130_209)">
<path d="M343.20 34.50 C347.25 34.50 348.60 39.63 348.60 48.00 C348.60 57.35 345.95 60.75 345.95 65.00 L340.45 65.00 C340.45 60.75 337.80 57.35 337.80 48.00 C337.80 39.63 339.15 34.50 343.20 34.50Z" fill="#ababab" stroke="#2e2e2e" stroke-width="0.6"/>
<path d="M343.20 37.20 C346.44 37.20 347.52 41.30 347.52 48.00 C347.52 54.82 345.40 57.30 345.40 60.40 L341.00 60.40 C341.00 57.30 338.88 54.82 338.88 48.00 C338.88 41.30 339.96 37.20 343.20 37.20Z" fill="#8e8e8e" stroke="#2e2e2e" stroke-width="0.55"/>
<path d="M343.20 36.32 C345.14 36.32 346.72 40.97 346.72 45.66 C346.72 51.39 345.14 57.08 343.20 57.08 C341.26 57.08 339.68 51.39 339.68 45.66 C339.68 40.97 341.26 36.32 343.20 36.32Z" fill="#7c7c7c" stroke="#2e2e2e" stroke-width="0.5"/>
<path d="M343.20 38.70 C344.61 38.70 345.75 42.28 345.75 45.94 C345.75 50.36 344.61 54.70 343.20 54.70 C341.79 54.70 340.65 50.36 340.65 45.94 C340.65 42.28 341.79 38.70 343.20 38.70Z" fill="#919191" stroke="#2e2e2e" stroke-width="0.5"/>
<path d="M343.20 40.95 C344.11 40.95 344.84 43.52 344.84 46.21 C344.84 49.39 344.11 52.45 343.20 52.45 C342.29 52.45 341.56 49.39 341.56 46.21 C341.56 43.52 342.29 40.95 343.20 40.95Z" fill="#666666" stroke="#2e2e2e" stroke-width="0.5"/>
<path d="M343.20 43.05 C343.64 43.05 343.99 44.69 343.99 46.46 C343.99 48.48 343.64 50.35 343.20 50.35 C342.76 50.35 342.41 48.48 342.41 46.46 C342.41 44.69 342.76 43.05 343.20 43.05Z" fill="#454545" stroke="#2e2e2e" stroke-width="0.5"/>
<path d="M338.85 65.00 L340.45 62.80 L345.95 62.80 L347.55 65.00Z" fill="#777" stroke="#2e2e2e" stroke-width="0.5"/>
</g>
<line x1="314.20" y1="30.62" x2="315.80" y2="30.62" stroke="#555" stroke-width="0.5"/>
<line x1="314.20" y1="39.14" x2="315.80" y2="39.14" stroke="#555" stroke-width="0.5"/>
<line x1="314.20" y1="47.66" x2="315.80" y2="47.66" stroke="#555" stroke-width="0.5"/>
<line x1="314.20" y1="56.18" x2="315.80" y2="56.18" stroke="#555" stroke-width="0.5"/>
<rect x="313.60" y="21.50" width="47.20" height="43.80" fill="none" stroke="#111" stroke-width="1.2"/>
<rect x="334.50" y="30.50" width="17.80" height="15.20" fill="none" stroke="#111" stroke-width="1.0"/>
<text x="334.60" y="29.60" font-size="9.5" font-weight="bold" fill="#111" stroke="#111" stroke-width="0.28">38.7</text>
<clipPath id="k3644_209"><rect x="365.60" y="22.10" width="46.80" height="42.50"/></clipPath>
<g clip-path="url(#k3644_209)">
<path d="M392.20 41.60 C396.18 41.60 397.50 45.17 397.50 51.00 C397.50 58.64 394.45 61.42 394.45 64.90 L389.95 64.90 C389.95 61.42 386.90 58.64 386.90 51.00 C386.90 45.17 388.22 41.60 392.20 41.60Z" fill="#ababab" stroke="#2e2e2e" stroke-width="0.6"/>
<path d="M392.20 43.48 C395.38 43.48 396.44 46.34 396.44 51.00 C396.44 56.46 394.00 58.44 394.00 60.92 L390.40 60.92 C390.40 58.44 387.96 56.46 387.96 51.00 C387.96 46.34 389.02 43.48 392.20 43.48Z" fill="#8e8e8e" stroke="#2e2e2e" stroke-width="0.55"/>
<path d="M392.20 42.99 C394.11 42.99 395.65 46.54 395.65 50.12 C395.65 54.50 394.11 58.85 392.20 58.85 C390.29 58.85 388.75 54.50 388.75 50.12 C388.75 46.54 390.29 42.99 392.20 42.99Z" fill="#7c7c7c" stroke="#2e2e2e" stroke-width="0.5"/>
<path d="M392.20 44.81 C393.58 44.81 394.70 47.55 394.70 50.34 C394.70 53.72 393.58 57.03 392.20 57.03 C390.82 57.03 389.70 53.72 389.70 50.34 C389.70 47.55 390.82 44.81 392.20 44.81Z" fill="#919191" stroke="#2e2e2e" stroke-width="0.5"/>
<path d="M392.20 46.53 C393.09 46.53 393.81 48.49 393.81 50.55 C393.81 52.97 393.09 55.31 392.20 55.31 C391.31 55.31 390.59 52.97 390.59 50.55 C390.59 48.49 391.31 46.53 392.20 46.53Z" fill="#666666" stroke="#2e2e2e" stroke-width="0.5"/>
<path d="M392.20 48.13 C392.63 48.13 392.98 49.38 392.98 50.74 C392.98 52.28 392.63 53.71 392.20 53.71 C391.77 53.71 391.42 52.28 391.42 50.74 C391.42 49.38 391.77 48.13 392.20 48.13Z" fill="#454545" stroke="#2e2e2e" stroke-width="0.5"/>
<path d="M388.35 64.90 L389.95 62.70 L394.45 62.70 L396.05 64.90Z" fill="#777" stroke="#2e2e2e" stroke-width="0.5"/>
</g>
<line x1="365.60" y1="30.60" x2="367.20" y2="30.60" stroke="#555" stroke-width="0.5"/>
<line x1="365.60" y1="39.10" x2="367.20" y2="39.10" stroke="#555" stroke-width="0.5"/>
<line x1="365.60" y1="47.60" x2="367.20" y2="47.60" stroke="#555" stroke-width="0.5"/>
<line x1="365.60" y1="56.10" x2="367.20" y2="56.10" stroke="#555" stroke-width="0.5"/>
<rect x="365.00" y="21.50" width="48.00" height="43.70" fill="none" stroke="#111" stroke-width="1.2"/>
<rect x="385.60" y="30.80" width="18.20" height="15.30" fill="none" stroke="#111" stroke-width="1.0"/>
<path d="M389.70 41.60 l3.2 1.6 l-3.2 1.6 Z" fill="#111"/>
<text x="386.60" y="29.60" font-size="9.5" font-weight="bold" fill="#111" stroke="#111" stroke-width="0.28">7.06</text>
<text x="257.40" y="41.30" font-size="9.0" font-weight="bold" fill="#111" stroke="#111" stroke-width="0.27" text-anchor="middle" transform="rotate(-90 257.40 41.30)">IFNγ</text>
<text x="264.50" y="76.30" font-size="8.5" font-weight="bold" fill="#111" stroke="#111" stroke-width="0.26">CD8</text>
<line x1="284.50" y1="73.20" x2="398.60" y2="73.20" stroke="#2a2a2a" stroke-width="1.0"/>
<path d="M404.00 73.20 L397.60 70.40 L397.60 76.00 Z" fill="#111"/>
<clipPath id="c3123_846"><rect x="313.50" y="85.80" width="46.30" height="41.00"/></clipPath>
<g clip-path="url(#c3123_846)">
<path d="M313.50 126.20 L314.37 125.82 L315.24 125.23 L316.10 124.34 L316.97 123.08 L317.84 121.39 L318.71 119.25 L319.58 116.73 L320.44 113.93 L321.31 111.04 L322.18 108.22 L323.05 105.61 L323.69 103.84 L323.92 104.61 L324.79 107.69 L325.65 111.08 L326.52 114.58 L327.39 117.88 L328.26 120.69 L329.13 122.87 L329.99 124.42 L330.86 125.43 L331.73 126.03 L332.60 126.38 L333.47 126.56 L334.34 126.66 L335.20 126.72 L336.07 126.75 L336.94 126.76 L337.81 126.77 L338.68 126.78 L339.54 126.79 L340.41 126.79 L341.28 126.79 L342.15 126.80 L343.02 126.80 L343.88 126.80 L344.75 126.80 L345.62 126.80 L346.49 126.80 L347.36 126.80 L348.23 126.80" fill="#ffffff" fill-opacity="0.6" stroke="#e6bcc9" stroke-width="0.8"/>
<path d="M313.50 126.63 L314.43 126.51 L315.35 126.32 L316.28 125.98 L317.20 125.45 L318.13 124.64 L319.06 123.47 L319.98 121.90 L320.91 119.92 L321.83 117.62 L322.76 115.12 L323.69 112.59 L324.61 110.14 L325.54 107.79 L325.54 107.79 L326.46 110.24 L327.39 112.83 L328.32 115.27 L329.24 117.19 L330.17 118.33 L331.09 118.71 L332.02 118.54 L332.95 118.03 L332.95 118.03 L333.87 119.39 L334.80 120.72 L335.72 122.05 L336.65 123.29 L337.58 124.37 L338.50 125.22 L339.43 125.83 L340.35 126.24 L341.28 126.48 L342.21 126.63 L343.13 126.70 L344.06 126.74 L344.98 126.77 L345.91 126.78 L346.84 126.79 L347.76 126.79 L348.69 126.79 L349.61 126.80 L350.54 126.80 L350.54 126.80 L313.50 126.80 Z" fill="#f3bdd0" fill-opacity="0.92" stroke="#de8aaa" stroke-width="0.7"/>
</g>
<line x1="313.50" y1="94.00" x2="315.10" y2="94.00" stroke="#555" stroke-width="0.5"/>
<line x1="313.50" y1="102.20" x2="315.10" y2="102.20" stroke="#555" stroke-width="0.5"/>
<line x1="313.50" y1="110.40" x2="315.10" y2="110.40" stroke="#555" stroke-width="0.5"/>
<line x1="313.50" y1="118.60" x2="315.10" y2="118.60" stroke="#555" stroke-width="0.5"/>
<line x1="322.76" y1="126.80" x2="322.76" y2="125.60" stroke="#777" stroke-width="0.4"/>
<line x1="332.02" y1="126.80" x2="332.02" y2="125.60" stroke="#777" stroke-width="0.4"/>
<line x1="341.28" y1="126.80" x2="341.28" y2="125.60" stroke="#777" stroke-width="0.4"/>
<line x1="350.54" y1="126.80" x2="350.54" y2="125.60" stroke="#777" stroke-width="0.4"/>
<rect x="312.90" y="85.20" width="47.50" height="42.20" fill="none" stroke="#111" stroke-width="1.2"/>
<line x1="326.00" y1="111.30" x2="339.50" y2="111.30" stroke="#666" stroke-width="0.7"/>
<line x1="326.00" y1="110.30" x2="326.00" y2="112.30" stroke="#666" stroke-width="0.5"/>
<line x1="339.50" y1="110.30" x2="339.50" y2="112.30" stroke="#666" stroke-width="0.5"/>
<text x="330.20" y="109.60" font-size="9.5" font-weight="bold" fill="#111" stroke="#111" stroke-width="0.28">24.5</text>
<clipPath id="c3637_846"><rect x="364.90" y="85.80" width="46.70" height="41.00"/></clipPath>
<g clip-path="url(#c3637_846)">
<path d="M364.90 126.22 L365.78 125.79 L366.65 125.09 L367.53 123.99 L368.40 122.42 L369.28 120.34 L370.15 117.78 L371.03 114.92 L371.90 111.97 L372.78 109.17 L373.66 106.62 L373.77 106.30 L374.53 108.60 L375.41 111.53 L376.28 114.64 L377.16 117.69 L378.03 120.40 L378.91 122.58 L379.79 124.19 L380.66 125.26 L381.54 125.93 L382.41 126.32 L383.29 126.54 L384.16 126.65 L385.04 126.71 L385.92 126.74 L386.79 126.76 L387.67 126.77 L388.54 126.78 L389.42 126.79 L390.29 126.79 L391.17 126.79 L392.04 126.80 L392.92 126.80 L393.80 126.80 L394.67 126.80 L395.55 126.80 L396.42 126.80 L397.30 126.80 L398.17 126.80 L399.05 126.80 L399.93 126.80" fill="#ffffff" fill-opacity="0.6" stroke="#e6bcc9" stroke-width="0.8"/>
<path d="M364.90 126.36 L365.83 125.99 L366.77 125.35 L367.70 124.31 L368.64 122.74 L369.57 120.55 L370.50 117.80 L371.44 114.65 L372.37 111.38 L373.31 108.28 L374.24 105.48 L374.24 105.48 L375.17 108.77 L376.11 112.46 L377.04 116.26 L377.98 119.69 L378.91 122.42 L379.84 124.31 L380.78 125.49 L381.71 126.14 L382.65 126.47 L383.58 126.63 L384.51 126.71 L385.45 126.75 L386.38 126.77 L387.32 126.78 L388.25 126.79 L389.18 126.79 L390.12 126.79 L391.05 126.80 L391.99 126.80 L392.92 126.80 L393.85 126.80 L394.79 126.80 L395.72 126.80 L396.66 126.80 L397.59 126.80 L398.52 126.80 L399.46 126.80 L400.39 126.80 L401.33 126.80 L402.26 126.80 L402.26 126.80 L364.90 126.80 Z" fill="#f3bdd0" fill-opacity="0.92" stroke="#de8aaa" stroke-width="0.7"/>
</g>
<line x1="364.90" y1="94.00" x2="366.50" y2="94.00" stroke="#555" stroke-width="0.5"/>
<line x1="364.90" y1="102.20" x2="366.50" y2="102.20" stroke="#555" stroke-width="0.5"/>
<line x1="364.90" y1="110.40" x2="366.50" y2="110.40" stroke="#555" stroke-width="0.5"/>
<line x1="364.90" y1="118.60" x2="366.50" y2="118.60" stroke="#555" stroke-width="0.5"/>
<line x1="374.24" y1="126.80" x2="374.24" y2="125.60" stroke="#777" stroke-width="0.4"/>
<line x1="383.58" y1="126.80" x2="383.58" y2="125.60" stroke="#777" stroke-width="0.4"/>
<line x1="392.92" y1="126.80" x2="392.92" y2="125.60" stroke="#777" stroke-width="0.4"/>
<line x1="402.26" y1="126.80" x2="402.26" y2="125.60" stroke="#777" stroke-width="0.4"/>
<rect x="364.30" y="85.20" width="47.90" height="42.20" fill="none" stroke="#111" stroke-width="1.2"/>
<line x1="377.00" y1="111.60" x2="390.00" y2="111.60" stroke="#666" stroke-width="0.7"/>
<line x1="377.00" y1="110.60" x2="377.00" y2="112.60" stroke="#666" stroke-width="0.5"/>
<line x1="390.00" y1="110.60" x2="390.00" y2="112.60" stroke="#666" stroke-width="0.5"/>
<text x="379.30" y="109.60" font-size="9.5" font-weight="bold" fill="#111" stroke="#111" stroke-width="0.28">4.88</text>
<text x="310.40" y="109.30" font-size="9.2" font-weight="bold" fill="#111" stroke="#111" stroke-width="0.28" text-anchor="middle" transform="rotate(-90 310.40 109.30)">CD8</text>
<clipPath id="c3123_1492"><rect x="313.50" y="150.40" width="46.30" height="42.40"/></clipPath>
<g clip-path="url(#c3123_1492)">
<path d="M313.50 192.47 L314.37 192.24 L315.24 191.84 L316.10 191.15 L316.97 190.05 L317.84 188.37 L318.71 185.99 L319.58 182.86 L320.44 179.06 L321.31 174.81 L322.18 170.42 L323.05 166.21 L323.92 162.39 L324.15 161.42 L324.79 165.72 L325.65 172.32 L326.52 179.03 L327.39 184.68 L328.26 188.58 L329.13 190.84 L329.99 191.95 L330.86 192.43 L331.73 192.63 L332.60 192.71 L333.47 192.75 L334.34 192.77 L335.20 192.78 L336.07 192.79 L336.94 192.79 L337.81 192.80 L338.68 192.80 L339.54 192.80 L340.41 192.80 L341.28 192.80 L342.15 192.80 L343.02 192.80 L343.88 192.80 L344.75 192.80 L345.62 192.80 L346.49 192.80 L347.36 192.80 L348.23 192.80" fill="#ffffff" fill-opacity="0.6" stroke="#b9d3d4" stroke-width="0.8"/>
<path d="M313.50 192.71 L314.43 192.66 L315.35 192.58 L316.28 192.42 L317.20 192.13 L318.13 191.60 L319.06 190.67 L319.98 189.15 L320.91 186.82 L321.83 183.53 L322.76 179.27 L323.69 174.24 L324.61 168.82 L325.54 163.49 L326.46 158.60 L326.93 156.34 L327.39 160.28 L328.32 169.21 L329.24 178.25 L330.17 185.30 L331.09 189.54 L332.02 191.55 L332.95 192.34 L333.87 192.61 L334.80 192.71 L335.72 192.75 L336.65 192.78 L337.58 192.79 L338.50 192.79 L339.43 192.80 L340.35 192.80 L341.28 192.80 L342.21 192.80 L343.13 192.80 L344.06 192.80 L344.98 192.80 L345.91 192.80 L346.84 192.80 L347.76 192.80 L348.69 192.80 L349.61 192.80 L350.54 192.80 L350.54 192.80 L313.50 192.80 Z" fill="#b3dedf" fill-opacity="0.92" stroke="#6ebdc1" stroke-width="0.7"/>
</g>
<line x1="313.50" y1="158.88" x2="315.10" y2="158.88" stroke="#555" stroke-width="0.5"/>
<line x1="313.50" y1="167.36" x2="315.10" y2="167.36" stroke="#555" stroke-width="0.5"/>
<line x1="313.50" y1="175.84" x2="315.10" y2="175.84" stroke="#555" stroke-width="0.5"/>
<line x1="313.50" y1="184.32" x2="315.10" y2="184.32" stroke="#555" stroke-width="0.5"/>
<line x1="322.76" y1="192.80" x2="322.76" y2="191.60" stroke="#777" stroke-width="0.4"/>
<line x1="332.02" y1="192.80" x2="332.02" y2="191.60" stroke="#777" stroke-width="0.4"/>
<line x1="341.28" y1="192.80" x2="341.28" y2="191.60" stroke="#777" stroke-width="0.4"/>
<line x1="350.54" y1="192.80" x2="350.54" y2="191.60" stroke="#777" stroke-width="0.4"/>
<rect x="312.90" y="149.80" width="47.50" height="43.60" fill="none" stroke="#111" stroke-width="1.2"/>
<line x1="328.00" y1="176.40" x2="345.00" y2="176.40" stroke="#666" stroke-width="0.7"/>
<line x1="328.00" y1="175.40" x2="328.00" y2="177.40" stroke="#666" stroke-width="0.5"/>
<line x1="345.00" y1="175.40" x2="345.00" y2="177.40" stroke="#666" stroke-width="0.5"/>
<text x="331.20" y="174.60" font-size="9.5" font-weight="bold" fill="#111" stroke="#111" stroke-width="0.28">17.4</text>
<clipPath id="c3637_1492"><rect x="364.90" y="150.40" width="46.70" height="42.40"/></clipPath>
<g clip-path="url(#c3637_1492)">
<path d="M364.90 192.37 L365.78 192.06 L366.65 191.52 L367.53 190.62 L368.40 189.23 L369.28 187.19 L370.15 184.41 L371.03 180.91 L371.90 176.83 L372.78 172.46 L373.66 168.13 L374.53 164.12 L375.17 161.42 L375.41 162.93 L376.28 169.15 L377.16 175.96 L378.03 182.24 L378.91 186.99 L379.79 189.96 L380.66 191.54 L381.54 192.26 L382.41 192.56 L383.29 192.68 L384.16 192.74 L385.04 192.76 L385.92 192.78 L386.79 192.79 L387.67 192.79 L388.54 192.80 L389.42 192.80 L390.29 192.80 L391.17 192.80 L392.04 192.80 L392.92 192.80 L393.80 192.80 L394.67 192.80 L395.55 192.80 L396.42 192.80 L397.30 192.80 L398.17 192.80 L399.05 192.80 L399.93 192.80" fill="#ffffff" fill-opacity="0.6" stroke="#b9d3d4" stroke-width="0.8"/>
<path d="M364.90 192.66 L365.83 192.58 L366.77 192.42 L367.70 192.13 L368.64 191.60 L369.57 190.67 L370.50 189.15 L371.44 186.82 L372.37 183.53 L373.31 179.27 L374.24 174.24 L375.17 168.82 L376.11 163.49 L377.04 158.60 L377.51 156.34 L377.98 160.28 L378.91 169.21 L379.84 178.25 L380.78 185.30 L381.71 189.54 L382.65 191.55 L383.58 192.34 L384.51 192.61 L385.45 192.71 L386.38 192.75 L387.32 192.78 L388.25 192.79 L389.18 192.79 L390.12 192.80 L391.05 192.80 L391.99 192.80 L392.92 192.80 L393.85 192.80 L394.79 192.80 L395.72 192.80 L396.66 192.80 L397.59 192.80 L398.52 192.80 L399.46 192.80 L400.39 192.80 L401.33 192.80 L402.26 192.80 L402.26 192.80 L364.90 192.80 Z" fill="#b3dedf" fill-opacity="0.92" stroke="#6ebdc1" stroke-width="0.7"/>
</g>
<line x1="364.90" y1="158.88" x2="366.50" y2="158.88" stroke="#555" stroke-width="0.5"/>
<line x1="364.90" y1="167.36" x2="366.50" y2="167.36" stroke="#555" stroke-width="0.5"/>
<line x1="364.90" y1="175.84" x2="366.50" y2="175.84" stroke="#555" stroke-width="0.5"/>
<line x1="364.90" y1="184.32" x2="366.50" y2="184.32" stroke="#555" stroke-width="0.5"/>
<line x1="374.24" y1="192.80" x2="374.24" y2="191.60" stroke="#777" stroke-width="0.4"/>
<line x1="383.58" y1="192.80" x2="383.58" y2="191.60" stroke="#777" stroke-width="0.4"/>
<line x1="392.92" y1="192.80" x2="392.92" y2="191.60" stroke="#777" stroke-width="0.4"/>
<line x1="402.26" y1="192.80" x2="402.26" y2="191.60" stroke="#777" stroke-width="0.4"/>
<rect x="364.30" y="149.80" width="47.90" height="43.60" fill="none" stroke="#111" stroke-width="1.2"/>
<line x1="377.00" y1="176.40" x2="397.00" y2="176.40" stroke="#666" stroke-width="0.7"/>
<line x1="377.00" y1="175.40" x2="377.00" y2="177.40" stroke="#666" stroke-width="0.5"/>
<line x1="397.00" y1="175.40" x2="397.00" y2="177.40" stroke="#666" stroke-width="0.5"/>
<text x="380.60" y="173.80" font-size="9.5" font-weight="bold" fill="#111" stroke="#111" stroke-width="0.28">7.72</text>
<text x="310.40" y="173.20" font-size="9.2" font-weight="bold" fill="#111" stroke="#111" stroke-width="0.28" text-anchor="middle" transform="rotate(-90 310.40 173.20)">CD8</text>
<text x="314.30" y="138.40" font-size="8.8" font-weight="bold" fill="#111" stroke="#111" stroke-width="0.26">CXCR3</text>
<line x1="347.50" y1="135.00" x2="404.60" y2="135.00" stroke="#2a2a2a" stroke-width="1.0"/>
<path d="M410.00 135.00 L403.60 132.20 L403.60 137.80 Z" fill="#111"/>
<text x="314.30" y="204.60" font-size="8.7" font-weight="bold" fill="#111" stroke="#111" stroke-width="0.26">CCR5</text>
<line x1="340.00" y1="201.00" x2="399.10" y2="201.00" stroke="#2a2a2a" stroke-width="1.0"/>
<path d="M404.50 201.00 L398.10 198.20 L398.10 203.80 Z" fill="#111"/>
<text x="448.00" y="12.60" font-size="9.2" font-weight="bold" fill="#111" stroke="#111" stroke-width="0.28">% CD8<tspan dy="-2.76" font-size="7.50">+</tspan></text>
<line x1="447.00" y1="14.20" x2="480.40" y2="14.20" stroke="#222" stroke-width="0.7"/>
<line x1="461.00" y1="33.24" x2="461.00" y2="24.01" stroke="#1a1a1a" stroke-width="1.2"/>
<line x1="458.60" y1="24.01" x2="463.40" y2="24.01" stroke="#1a1a1a" stroke-width="1.2"/>
<rect x="455.35" y="33.59" width="11.30" height="34.41" fill="#273d74" stroke="#15244a" stroke-width="0.7"/>
<line x1="480.75" y1="62.39" x2="480.75" y2="59.81" stroke="#1a1a1a" stroke-width="1.2"/>
<line x1="478.35" y1="59.81" x2="483.15" y2="59.81" stroke="#1a1a1a" stroke-width="1.2"/>
<rect x="474.85" y="62.74" width="11.80" height="5.26" fill="#ee3d2c" stroke="#ae2a1c" stroke-width="0.7"/>
<text x="480.75" y="60.93" font-size="8.6" font-weight="bold" fill="#111" stroke="#111" stroke-width="0.15" text-anchor="middle">***</text>
<line x1="450.00" y1="15.00" x2="450.00" y2="68.65" stroke="#111" stroke-width="1.3"/>
<line x1="449.35" y1="68.00" x2="491.50" y2="68.00" stroke="#111" stroke-width="1.3"/>
<line x1="447.40" y1="68.00" x2="450.00" y2="68.00" stroke="#111" stroke-width="1.0"/>
<text x="444.20" y="71.00" font-size="8.0" font-weight="bold" fill="#111" stroke="#111" stroke-width="0.24" text-anchor="end">0</text>
<line x1="447.40" y1="50.75" x2="450.00" y2="50.75" stroke="#111" stroke-width="1.0"/>
<text x="444.20" y="53.75" font-size="8.0" font-weight="bold" fill="#111" stroke="#111" stroke-width="0.24" text-anchor="end">20</text>
<line x1="447.40" y1="33.50" x2="450.00" y2="33.50" stroke="#111" stroke-width="1.0"/>
<text x="444.20" y="36.50" font-size="8.0" font-weight="bold" fill="#111" stroke="#111" stroke-width="0.24" text-anchor="end">40</text>
<line x1="447.40" y1="16.25" x2="450.00" y2="16.25" stroke="#111" stroke-width="1.0"/>
<text x="444.20" y="19.25" font-size="8.0" font-weight="bold" fill="#111" stroke="#111" stroke-width="0.24" text-anchor="end">60</text>
<text x="430.60" y="40.00" font-size="8.8" font-weight="bold" fill="#111" stroke="#111" stroke-width="0.26" text-anchor="middle" transform="rotate(-90 430.60 40.00)">IFNγ<tspan dy="-2.64" font-size="5.63">+</tspan></text>
<line x1="460.20" y1="102.55" x2="460.20" y2="89.96" stroke="#1a1a1a" stroke-width="1.2"/>
<line x1="457.80" y1="89.96" x2="462.60" y2="89.96" stroke="#1a1a1a" stroke-width="1.2"/>
<rect x="454.55" y="102.90" width="11.30" height="34.10" fill="#273d74" stroke="#15244a" stroke-width="0.7"/>
<line x1="479.60" y1="130.91" x2="479.60" y2="128.52" stroke="#1a1a1a" stroke-width="1.2"/>
<line x1="477.20" y1="128.52" x2="482.00" y2="128.52" stroke="#1a1a1a" stroke-width="1.2"/>
<rect x="473.55" y="131.25" width="12.10" height="5.74" fill="#ee3d2c" stroke="#ae2a1c" stroke-width="0.7"/>
<text x="479.60" y="129.13" font-size="8.6" font-weight="bold" fill="#111" stroke="#111" stroke-width="0.15" text-anchor="middle">***</text>
<line x1="450.00" y1="82.00" x2="450.00" y2="137.65" stroke="#111" stroke-width="1.3"/>
<line x1="449.35" y1="137.00" x2="489.00" y2="137.00" stroke="#111" stroke-width="1.3"/>
<line x1="447.40" y1="137.00" x2="450.00" y2="137.00" stroke="#111" stroke-width="1.0"/>
<text x="444.20" y="140.00" font-size="8.0" font-weight="bold" fill="#111" stroke="#111" stroke-width="0.24" text-anchor="end">0</text>
<line x1="447.40" y1="123.75" x2="450.00" y2="123.75" stroke="#111" stroke-width="1.0"/>
<text x="444.20" y="126.75" font-size="8.0" font-weight="bold" fill="#111" stroke="#111" stroke-width="0.24" text-anchor="end">10</text>
<line x1="447.40" y1="110.50" x2="450.00" y2="110.50" stroke="#111" stroke-width="1.0"/>
<text x="444.20" y="113.50" font-size="8.0" font-weight="bold" fill="#111" stroke="#111" stroke-width="0.24" text-anchor="end">20</text>
<line x1="447.40" y1="97.25" x2="450.00" y2="97.25" stroke="#111" stroke-width="1.0"/>
<text x="444.20" y="100.25" font-size="8.0" font-weight="bold" fill="#111" stroke="#111" stroke-width="0.24" text-anchor="end">30</text>
<line x1="447.40" y1="84.00" x2="450.00" y2="84.00" stroke="#111" stroke-width="1.0"/>
<text x="444.20" y="87.00" font-size="8.0" font-weight="bold" fill="#111" stroke="#111" stroke-width="0.24" text-anchor="end">40</text>
<text x="431.00" y="107.40" font-size="8.6" font-weight="bold" fill="#111" stroke="#111" stroke-width="0.26" text-anchor="middle" transform="rotate(-90 431.00 107.40)">CXCR3<tspan dy="-2.58" font-size="5.50">+</tspan></text>
<line x1="459.20" y1="172.86" x2="459.20" y2="162.95" stroke="#1a1a1a" stroke-width="1.2"/>
<line x1="456.80" y1="162.95" x2="461.60" y2="162.95" stroke="#1a1a1a" stroke-width="1.2"/>
<rect x="453.35" y="173.21" width="11.70" height="29.39" fill="#273d74" stroke="#15244a" stroke-width="0.7"/>
<line x1="479.20" y1="189.50" x2="479.20" y2="184.37" stroke="#1a1a1a" stroke-width="1.2"/>
<line x1="476.80" y1="184.37" x2="481.60" y2="184.37" stroke="#1a1a1a" stroke-width="1.2"/>
<rect x="473.35" y="189.85" width="11.70" height="12.75" fill="#ee3d2c" stroke="#ae2a1c" stroke-width="0.7"/>
<text x="479.20" y="185.73" font-size="8.6" font-weight="bold" fill="#111" stroke="#111" stroke-width="0.15" text-anchor="middle">**</text>
<line x1="449.30" y1="147.00" x2="449.30" y2="203.25" stroke="#111" stroke-width="1.3"/>
<line x1="448.65" y1="202.60" x2="488.50" y2="202.60" stroke="#111" stroke-width="1.3"/>
<line x1="446.70" y1="202.60" x2="449.30" y2="202.60" stroke="#111" stroke-width="1.0"/>
<text x="443.40" y="205.60" font-size="8.0" font-weight="bold" fill="#111" stroke="#111" stroke-width="0.24" text-anchor="end">0</text>
<line x1="446.70" y1="184.90" x2="449.30" y2="184.90" stroke="#111" stroke-width="1.0"/>
<text x="443.40" y="187.90" font-size="8.0" font-weight="bold" fill="#111" stroke="#111" stroke-width="0.24" text-anchor="end">10</text>
<line x1="446.70" y1="167.20" x2="449.30" y2="167.20" stroke="#111" stroke-width="1.0"/>
<text x="443.40" y="170.20" font-size="8.0" font-weight="bold" fill="#111" stroke="#111" stroke-width="0.24" text-anchor="end">20</text>
<line x1="446.70" y1="149.50" x2="449.30" y2="149.50" stroke="#111" stroke-width="1.0"/>
<text x="443.40" y="152.50" font-size="8.0" font-weight="bold" fill="#111" stroke="#111" stroke-width="0.24" text-anchor="end">30</text>
<text x="431.00" y="171.40" font-size="8.6" font-weight="bold" fill="#111" stroke="#111" stroke-width="0.26" text-anchor="middle" transform="rotate(-90 431.00 171.40)">CCR5<tspan dy="-2.58" font-size="5.50">+</tspan></text>
<text x="457.00" y="213.60" font-size="9.0" font-weight="bold" fill="#111" stroke="#111" stroke-width="0.27" text-anchor="middle">OVA</text>
<text x="480.20" y="213.60" font-size="9.0" font-weight="bold" fill="#111" stroke="#111" stroke-width="0.27" text-anchor="middle">OVA</text>
<text x="479.60" y="225.20" font-size="8.8" font-weight="bold" fill="#111" stroke="#111" stroke-width="0.26" text-anchor="middle">+rIL35</text>
<text x="13.30" y="246.20" font-size="14" font-weight="bold" fill="#111" stroke="#111" stroke-width="0.42">C</text>
<text x="91.00" y="247.00" font-size="7.8" font-weight="bold" fill="#111" stroke="#111" stroke-width="0.23" text-anchor="middle" textLength="79.50" lengthAdjust="spacingAndGlyphs">αCD3+αCD28+OVA</text>
<line x1="51.00" y1="248.30" x2="131.00" y2="248.30" stroke="#222" stroke-width="0.7"/>
<text x="196.50" y="247.00" font-size="7.8" font-weight="bold" fill="#111" stroke="#111" stroke-width="0.23" text-anchor="middle" textLength="106.50" lengthAdjust="spacingAndGlyphs">αCD3+αCD28+OVA+rIL35</text>
<line x1="143.00" y1="248.30" x2="250.00" y2="248.30" stroke="#222" stroke-width="0.7"/>
<text x="51.00" y="259.20" font-size="8.4" font-weight="bold" fill="#111" stroke="#111" stroke-width="0.25" textLength="35.50" lengthAdjust="spacingAndGlyphs">IL12Rβ2</text>
<text x="86.60" y="256.80" font-size="6.6" font-weight="bold" fill="#111" stroke="#111" stroke-width="0.20">+</text>
<text x="106.00" y="259.20" font-size="8.4" font-weight="bold" fill="#111" stroke="#111" stroke-width="0.25" textLength="24.50" lengthAdjust="spacingAndGlyphs">gp130</text>
<text x="130.70" y="256.80" font-size="6.6" font-weight="bold" fill="#111" stroke="#111" stroke-width="0.20">+</text>
<text x="152.30" y="259.20" font-size="8.4" font-weight="bold" fill="#111" stroke="#111" stroke-width="0.25" textLength="35.50" lengthAdjust="spacingAndGlyphs">IL12Rβ2</text>
<text x="187.90" y="256.80" font-size="6.6" font-weight="bold" fill="#111" stroke="#111" stroke-width="0.20">+</text>
<text x="208.00" y="259.20" font-size="8.4" font-weight="bold" fill="#111" stroke="#111" stroke-width="0.25" textLength="24.50" lengthAdjust="spacingAndGlyphs">gp130</text>
<text x="232.70" y="256.80" font-size="6.6" font-weight="bold" fill="#111" stroke="#111" stroke-width="0.20">+</text>
<clipPath id="c431_2636"><rect x="44.30" y="264.80" width="46.10" height="38.50"/></clipPath>
<g clip-path="url(#c431_2636)">
<path d="M44.30 302.92 L45.16 302.67 L46.03 302.25 L46.89 301.56 L47.76 300.48 L48.62 298.88 L49.49 296.65 L50.35 293.73 L51.22 290.18 L52.08 286.14 L52.94 281.89 L53.81 277.71 L54.67 273.82 L55.36 270.96 L55.54 272.04 L56.40 277.93 L57.27 284.45 L58.13 290.73 L58.99 295.82 L59.86 299.31 L60.72 301.37 L61.59 302.42 L62.45 302.90 L63.32 303.11 L64.18 303.20 L65.05 303.24 L65.91 303.26 L66.77 303.28 L67.64 303.29 L68.50 303.29 L69.37 303.29 L70.23 303.30 L71.10 303.30 L71.96 303.30 L72.82 303.30 L73.69 303.30 L74.55 303.30 L75.42 303.30 L76.28 303.30 L77.15 303.30 L78.01 303.30 L78.88 303.30" fill="#ffffff" fill-opacity="0.6" stroke="#b4b4cf" stroke-width="0.8"/>
<path d="M44.30 303.05 L45.22 302.88 L46.14 302.58 L47.07 302.06 L47.99 301.18 L48.91 299.77 L49.83 297.67 L50.75 294.74 L51.68 290.95 L52.60 286.44 L53.52 281.49 L54.44 276.48 L55.36 271.77 L56.29 267.50 L56.29 267.50 L57.21 275.03 L58.13 283.50 L59.05 291.37 L59.97 297.15 L60.90 300.55 L61.82 302.19 L62.74 302.86 L63.66 303.11 L64.58 303.21 L65.51 303.25 L66.43 303.27 L67.35 303.28 L68.27 303.29 L69.19 303.29 L70.12 303.30 L71.04 303.30 L71.96 303.30 L72.88 303.30 L73.80 303.30 L74.73 303.30 L75.65 303.30 L76.57 303.30 L77.49 303.30 L78.41 303.30 L79.34 303.30 L80.26 303.30 L81.18 303.30 L81.18 303.30 L44.30 303.30 Z" fill="#b4b6e0" fill-opacity="0.92" stroke="#8385c1" stroke-width="0.7"/>
</g>
<line x1="44.30" y1="272.50" x2="45.90" y2="272.50" stroke="#555" stroke-width="0.5"/>
<line x1="44.30" y1="280.20" x2="45.90" y2="280.20" stroke="#555" stroke-width="0.5"/>
<line x1="44.30" y1="287.90" x2="45.90" y2="287.90" stroke="#555" stroke-width="0.5"/>
<line x1="44.30" y1="295.60" x2="45.90" y2="295.60" stroke="#555" stroke-width="0.5"/>
<line x1="53.52" y1="303.30" x2="53.52" y2="302.10" stroke="#777" stroke-width="0.4"/>
<line x1="62.74" y1="303.30" x2="62.74" y2="302.10" stroke="#777" stroke-width="0.4"/>
<line x1="71.96" y1="303.30" x2="71.96" y2="302.10" stroke="#777" stroke-width="0.4"/>
<line x1="81.18" y1="303.30" x2="81.18" y2="302.10" stroke="#777" stroke-width="0.4"/>
<rect x="43.70" y="264.20" width="47.30" height="39.70" fill="none" stroke="#111" stroke-width="1.2"/>
<line x1="60.50" y1="285.00" x2="71.00" y2="285.00" stroke="#666" stroke-width="0.7"/>
<line x1="60.50" y1="284.00" x2="60.50" y2="286.00" stroke="#666" stroke-width="0.5"/>
<line x1="71.00" y1="284.00" x2="71.00" y2="286.00" stroke="#666" stroke-width="0.5"/>
<text x="62.30" y="282.20" font-size="9.1" font-weight="bold" fill="#111" stroke="#111" stroke-width="0.27">2.11</text>
<clipPath id="c954_2636"><rect x="96.60" y="264.80" width="45.40" height="38.50"/></clipPath>
<g clip-path="url(#c954_2636)">
<path d="M96.60 302.64 L97.45 302.19 L98.30 301.46 L99.15 300.32 L100.01 298.65 L100.86 296.31 L101.71 293.28 L102.56 289.60 L103.41 285.45 L104.26 281.09 L105.11 276.82 L105.96 272.87 L106.59 270.19 L106.82 271.54 L107.67 277.01 L108.52 283.06 L109.37 289.03 L110.22 294.14 L111.07 297.94 L111.92 300.42 L112.77 301.85 L113.62 302.60 L114.48 302.95 L115.33 303.12 L116.18 303.20 L117.03 303.24 L117.88 303.26 L118.73 303.27 L119.58 303.28 L120.44 303.29 L121.29 303.29 L122.14 303.30 L122.99 303.30 L123.84 303.30 L124.69 303.30 L125.54 303.30 L126.39 303.30 L127.25 303.30 L128.10 303.30 L128.95 303.30 L129.80 303.30 L130.65 303.30" fill="#ffffff" fill-opacity="0.6" stroke="#b4b4cf" stroke-width="0.8"/>
<path d="M96.60 303.05 L97.51 302.88 L98.42 302.58 L99.32 302.06 L100.23 301.18 L101.14 299.77 L102.05 297.67 L102.96 294.74 L103.86 290.95 L104.77 286.44 L105.68 281.49 L106.59 276.48 L107.50 271.77 L108.40 267.50 L108.40 267.50 L109.31 274.29 L110.22 281.95 L111.13 289.38 L112.04 295.33 L112.94 299.27 L113.85 301.46 L114.76 302.51 L115.67 302.95 L116.58 303.14 L117.48 303.21 L118.39 303.25 L119.30 303.27 L120.21 303.28 L121.12 303.29 L122.02 303.29 L122.93 303.30 L123.84 303.30 L124.75 303.30 L125.66 303.30 L126.56 303.30 L127.47 303.30 L128.38 303.30 L129.29 303.30 L130.20 303.30 L131.10 303.30 L132.01 303.30 L132.92 303.30 L132.92 303.30 L96.60 303.30 Z" fill="#b4b6e0" fill-opacity="0.92" stroke="#8385c1" stroke-width="0.7"/>
</g>
<line x1="96.60" y1="272.50" x2="98.20" y2="272.50" stroke="#555" stroke-width="0.5"/>
<line x1="96.60" y1="280.20" x2="98.20" y2="280.20" stroke="#555" stroke-width="0.5"/>
<line x1="96.60" y1="287.90" x2="98.20" y2="287.90" stroke="#555" stroke-width="0.5"/>
<line x1="96.60" y1="295.60" x2="98.20" y2="295.60" stroke="#555" stroke-width="0.5"/>
<line x1="105.68" y1="303.30" x2="105.68" y2="302.10" stroke="#777" stroke-width="0.4"/>
<line x1="114.76" y1="303.30" x2="114.76" y2="302.10" stroke="#777" stroke-width="0.4"/>
<line x1="123.84" y1="303.30" x2="123.84" y2="302.10" stroke="#777" stroke-width="0.4"/>
<line x1="132.92" y1="303.30" x2="132.92" y2="302.10" stroke="#777" stroke-width="0.4"/>
<rect x="96.00" y="264.20" width="46.60" height="39.70" fill="none" stroke="#111" stroke-width="1.2"/>
<line x1="111.50" y1="285.00" x2="123.00" y2="285.00" stroke="#666" stroke-width="0.7"/>
<line x1="111.50" y1="284.00" x2="111.50" y2="286.00" stroke="#666" stroke-width="0.5"/>
<line x1="123.00" y1="284.00" x2="123.00" y2="286.00" stroke="#666" stroke-width="0.5"/>
<text x="113.80" y="282.20" font-size="9.1" font-weight="bold" fill="#111" stroke="#111" stroke-width="0.27">4.38</text>
<clipPath id="c1478_2636"><rect x="149.00" y="264.80" width="44.00" height="38.50"/></clipPath>
<g clip-path="url(#c1478_2636)">
<path d="M149.00 303.00 L149.82 302.77 L150.65 302.35 L151.47 301.63 L152.30 300.42 L153.12 298.55 L153.95 295.89 L154.78 292.38 L155.60 288.17 L156.43 283.55 L157.25 278.91 L158.07 274.61 L158.68 271.73 L158.90 273.01 L159.72 278.24 L160.55 284.00 L161.38 289.69 L162.20 294.57 L163.03 298.19 L163.85 300.56 L164.68 301.92 L165.50 302.63 L166.32 302.97 L167.15 303.13 L167.97 303.20 L168.80 303.24 L169.62 303.26 L170.45 303.28 L171.28 303.28 L172.10 303.29 L172.93 303.29 L173.75 303.30 L174.57 303.30 L175.40 303.30 L176.22 303.30 L177.05 303.30 L177.88 303.30 L178.70 303.30 L179.53 303.30 L180.35 303.30 L181.18 303.30 L182.00 303.30" fill="#ffffff" fill-opacity="0.6" stroke="#b4b4cf" stroke-width="0.8"/>
<path d="M149.00 303.15 L149.88 303.05 L150.76 302.85 L151.64 302.48 L152.52 301.78 L153.40 300.55 L154.28 298.57 L155.16 295.61 L156.04 291.60 L156.92 286.69 L157.80 281.28 L158.68 275.88 L159.56 270.93 L160.00 268.65 L160.44 271.81 L161.32 278.87 L162.20 286.35 L163.08 292.94 L163.96 297.74 L164.84 300.64 L165.72 302.13 L166.60 302.80 L167.48 303.07 L168.36 303.19 L169.24 303.24 L170.12 303.26 L171.00 303.28 L171.88 303.29 L172.76 303.29 L173.64 303.30 L174.52 303.30 L175.40 303.30 L176.28 303.30 L177.16 303.30 L178.04 303.30 L178.92 303.30 L179.80 303.30 L180.68 303.30 L181.56 303.30 L182.44 303.30 L183.32 303.30 L184.20 303.30 L184.20 303.30 L149.00 303.30 Z" fill="#b4b6e0" fill-opacity="0.92" stroke="#8385c1" stroke-width="0.7"/>
</g>
<line x1="149.00" y1="272.50" x2="150.60" y2="272.50" stroke="#555" stroke-width="0.5"/>
<line x1="149.00" y1="280.20" x2="150.60" y2="280.20" stroke="#555" stroke-width="0.5"/>
<line x1="149.00" y1="287.90" x2="150.60" y2="287.90" stroke="#555" stroke-width="0.5"/>
<line x1="149.00" y1="295.60" x2="150.60" y2="295.60" stroke="#555" stroke-width="0.5"/>
<line x1="157.80" y1="303.30" x2="157.80" y2="302.10" stroke="#777" stroke-width="0.4"/>
<line x1="166.60" y1="303.30" x2="166.60" y2="302.10" stroke="#777" stroke-width="0.4"/>
<line x1="175.40" y1="303.30" x2="175.40" y2="302.10" stroke="#777" stroke-width="0.4"/>
<line x1="184.20" y1="303.30" x2="184.20" y2="302.10" stroke="#777" stroke-width="0.4"/>
<rect x="148.40" y="264.20" width="45.20" height="39.70" fill="none" stroke="#111" stroke-width="1.2"/>
<line x1="164.50" y1="285.00" x2="176.00" y2="285.00" stroke="#666" stroke-width="0.7"/>
<line x1="164.50" y1="284.00" x2="164.50" y2="286.00" stroke="#666" stroke-width="0.5"/>
<line x1="176.00" y1="284.00" x2="176.00" y2="286.00" stroke="#666" stroke-width="0.5"/>
<text x="165.80" y="282.20" font-size="9.1" font-weight="bold" fill="#111" stroke="#111" stroke-width="0.27">2.82</text>
<clipPath id="c1983_2636"><rect x="199.50" y="264.80" width="44.90" height="38.50"/></clipPath>
<g clip-path="url(#c1983_2636)">
<path d="M199.50 302.31 L200.34 301.75 L201.18 300.91 L202.03 299.71 L202.87 298.09 L203.71 296.01 L204.55 293.49 L205.39 290.59 L206.24 287.45 L207.08 284.25 L207.92 281.17 L208.76 278.30 L209.38 276.35 L209.60 277.35 L210.44 281.41 L211.29 285.88 L212.13 290.41 L212.97 294.48 L213.81 297.72 L214.65 300.03 L215.50 301.50 L216.34 302.36 L217.18 302.81 L218.02 303.04 L218.86 303.16 L219.71 303.22 L220.55 303.25 L221.39 303.27 L222.23 303.28 L223.07 303.28 L223.91 303.29 L224.76 303.29 L225.60 303.30 L226.44 303.30 L227.28 303.30 L228.12 303.30 L228.97 303.30 L229.81 303.30 L230.65 303.30 L231.49 303.30 L232.33 303.30 L233.18 303.30" fill="#ffffff" fill-opacity="0.6" stroke="#b4b4cf" stroke-width="0.8"/>
<path d="M199.50 303.18 L200.40 303.12 L201.30 303.02 L202.19 302.86 L203.09 302.58 L203.99 302.12 L204.89 301.38 L205.79 300.27 L206.68 298.65 L207.58 296.44 L208.48 293.60 L209.38 290.18 L210.28 286.31 L211.17 282.23 L212.07 278.20 L212.97 274.42 L213.87 270.96 L213.87 270.96 L214.77 276.55 L215.66 282.84 L216.56 289.14 L217.46 294.51 L218.36 298.40 L219.26 300.82 L220.15 302.13 L221.05 302.76 L221.95 303.04 L222.85 303.17 L223.75 303.23 L224.64 303.26 L225.54 303.27 L226.44 303.28 L227.34 303.29 L228.24 303.29 L229.13 303.30 L230.03 303.30 L230.93 303.30 L231.83 303.30 L232.73 303.30 L233.62 303.30 L234.52 303.30 L235.42 303.30 L235.42 303.30 L199.50 303.30 Z" fill="#b4b6e0" fill-opacity="0.92" stroke="#8385c1" stroke-width="0.7"/>
</g>
<line x1="199.50" y1="272.50" x2="201.10" y2="272.50" stroke="#555" stroke-width="0.5"/>
<line x1="199.50" y1="280.20" x2="201.10" y2="280.20" stroke="#555" stroke-width="0.5"/>
<line x1="199.50" y1="287.90" x2="201.10" y2="287.90" stroke="#555" stroke-width="0.5"/>
<line x1="199.50" y1="295.60" x2="201.10" y2="295.60" stroke="#555" stroke-width="0.5"/>
<line x1="208.48" y1="303.30" x2="208.48" y2="302.10" stroke="#777" stroke-width="0.4"/>
<line x1="217.46" y1="303.30" x2="217.46" y2="302.10" stroke="#777" stroke-width="0.4"/>
<line x1="226.44" y1="303.30" x2="226.44" y2="302.10" stroke="#777" stroke-width="0.4"/>
<line x1="235.42" y1="303.30" x2="235.42" y2="302.10" stroke="#777" stroke-width="0.4"/>
<rect x="198.90" y="264.20" width="46.10" height="39.70" fill="none" stroke="#111" stroke-width="1.2"/>
<line x1="214.00" y1="285.00" x2="228.00" y2="285.00" stroke="#666" stroke-width="0.7"/>
<line x1="214.00" y1="284.00" x2="214.00" y2="286.00" stroke="#666" stroke-width="0.5"/>
<line x1="228.00" y1="284.00" x2="228.00" y2="286.00" stroke="#666" stroke-width="0.5"/>
<text x="216.30" y="282.20" font-size="9.1" font-weight="bold" fill="#111" stroke="#111" stroke-width="0.27">14.8</text>
<text x="41.00" y="284.05" font-size="9" font-weight="bold" fill="#111" stroke="#111" stroke-width="0.27" text-anchor="middle" transform="rotate(-90 41.00 284.05)">CD8</text>
<clipPath id="c438_3220"><rect x="45.00" y="323.20" width="45.40" height="40.00"/></clipPath>
<g clip-path="url(#c438_3220)">
<path d="M45.00 362.92 L45.85 362.72 L46.70 362.34 L47.55 361.67 L48.41 360.57 L49.26 358.87 L50.11 356.44 L50.96 353.24 L51.81 349.40 L52.66 345.18 L53.51 340.95 L54.36 337.03 L54.99 334.40 L55.22 335.69 L56.07 340.98 L56.92 346.80 L57.77 352.35 L58.62 356.79 L59.47 359.81 L60.32 361.56 L61.17 362.45 L62.02 362.86 L62.88 363.04 L63.73 363.11 L64.58 363.15 L65.43 363.17 L66.28 363.18 L67.13 363.19 L67.98 363.19 L68.83 363.20 L69.69 363.20 L70.54 363.20 L71.39 363.20 L72.24 363.20 L73.09 363.20 L73.94 363.20 L74.79 363.20 L75.64 363.20 L76.50 363.20 L77.35 363.20 L78.20 363.20 L79.05 363.20" fill="#ffffff" fill-opacity="0.6" stroke="#b4b4cf" stroke-width="0.8"/>
<path d="M45.00 362.90 L45.91 362.66 L46.82 362.19 L47.72 361.35 L48.63 359.93 L49.54 357.72 L50.45 354.58 L51.36 350.54 L52.26 345.84 L53.17 340.91 L54.08 336.22 L54.99 332.00 L54.99 332.00 L55.90 338.56 L56.80 345.94 L57.71 352.80 L58.62 357.84 L59.53 360.80 L60.44 362.23 L61.34 362.82 L62.25 363.04 L63.16 363.12 L64.07 363.16 L64.98 363.18 L65.88 363.19 L66.79 363.19 L67.70 363.20 L68.61 363.20 L69.52 363.20 L70.42 363.20 L71.33 363.20 L72.24 363.20 L73.15 363.20 L74.06 363.20 L74.96 363.20 L75.87 363.20 L76.78 363.20 L77.69 363.20 L78.60 363.20 L79.50 363.20 L80.41 363.20 L81.32 363.20 L81.32 363.20 L45.00 363.20 Z" fill="#b4b6e0" fill-opacity="0.92" stroke="#8385c1" stroke-width="0.7"/>
</g>
<line x1="45.00" y1="331.20" x2="46.60" y2="331.20" stroke="#555" stroke-width="0.5"/>
<line x1="45.00" y1="339.20" x2="46.60" y2="339.20" stroke="#555" stroke-width="0.5"/>
<line x1="45.00" y1="347.20" x2="46.60" y2="347.20" stroke="#555" stroke-width="0.5"/>
<line x1="45.00" y1="355.20" x2="46.60" y2="355.20" stroke="#555" stroke-width="0.5"/>
<line x1="54.08" y1="363.20" x2="54.08" y2="362.00" stroke="#777" stroke-width="0.4"/>
<line x1="63.16" y1="363.20" x2="63.16" y2="362.00" stroke="#777" stroke-width="0.4"/>
<line x1="72.24" y1="363.20" x2="72.24" y2="362.00" stroke="#777" stroke-width="0.4"/>
<line x1="81.32" y1="363.20" x2="81.32" y2="362.00" stroke="#777" stroke-width="0.4"/>
<rect x="44.40" y="322.60" width="46.60" height="41.20" fill="none" stroke="#111" stroke-width="1.2"/>
<line x1="59.00" y1="347.20" x2="72.00" y2="347.20" stroke="#666" stroke-width="0.7"/>
<line x1="59.00" y1="346.20" x2="59.00" y2="348.20" stroke="#666" stroke-width="0.5"/>
<line x1="72.00" y1="346.20" x2="72.00" y2="348.20" stroke="#666" stroke-width="0.5"/>
<text x="61.00" y="345.40" font-size="9.1" font-weight="bold" fill="#111" stroke="#111" stroke-width="0.27">1.52</text>
<clipPath id="c954_3220"><rect x="96.60" y="323.20" width="45.40" height="40.00"/></clipPath>
<g clip-path="url(#c954_3220)">
<path d="M96.60 362.92 L97.45 362.72 L98.30 362.34 L99.15 361.67 L100.01 360.57 L100.86 358.87 L101.71 356.44 L102.56 353.24 L103.41 349.40 L104.26 345.18 L105.11 340.95 L105.96 337.03 L106.59 334.40 L106.82 335.57 L107.67 340.34 L108.52 345.60 L109.37 350.79 L110.22 355.23 L111.07 358.54 L111.92 360.70 L112.77 361.94 L113.62 362.59 L114.48 362.90 L115.33 363.04 L116.18 363.11 L117.03 363.15 L117.88 363.17 L118.73 363.18 L119.58 363.19 L120.44 363.19 L121.29 363.19 L122.14 363.20 L122.99 363.20 L123.84 363.20 L124.69 363.20 L125.54 363.20 L126.39 363.20 L127.25 363.20 L128.10 363.20 L128.95 363.20 L129.80 363.20 L130.65 363.20" fill="#ffffff" fill-opacity="0.6" stroke="#b4b4cf" stroke-width="0.8"/>
<path d="M96.60 363.03 L97.51 362.90 L98.42 362.66 L99.32 362.19 L100.23 361.35 L101.14 359.93 L102.05 357.72 L102.96 354.58 L103.86 350.54 L104.77 345.84 L105.68 340.91 L106.59 336.22 L107.50 332.00 L107.50 332.00 L108.40 337.92 L109.31 344.59 L110.22 351.07 L111.13 356.26 L112.04 359.69 L112.94 361.60 L113.85 362.51 L114.76 362.90 L115.67 363.06 L116.58 363.12 L117.48 363.16 L118.39 363.17 L119.30 363.18 L120.21 363.19 L121.12 363.19 L122.02 363.20 L122.93 363.20 L123.84 363.20 L124.75 363.20 L125.66 363.20 L126.56 363.20 L127.47 363.20 L128.38 363.20 L129.29 363.20 L130.20 363.20 L131.10 363.20 L132.01 363.20 L132.92 363.20 L132.92 363.20 L96.60 363.20 Z" fill="#b4b6e0" fill-opacity="0.92" stroke="#8385c1" stroke-width="0.7"/>
</g>
<line x1="96.60" y1="331.20" x2="98.20" y2="331.20" stroke="#555" stroke-width="0.5"/>
<line x1="96.60" y1="339.20" x2="98.20" y2="339.20" stroke="#555" stroke-width="0.5"/>
<line x1="96.60" y1="347.20" x2="98.20" y2="347.20" stroke="#555" stroke-width="0.5"/>
<line x1="96.60" y1="355.20" x2="98.20" y2="355.20" stroke="#555" stroke-width="0.5"/>
<line x1="105.68" y1="363.20" x2="105.68" y2="362.00" stroke="#777" stroke-width="0.4"/>
<line x1="114.76" y1="363.20" x2="114.76" y2="362.00" stroke="#777" stroke-width="0.4"/>
<line x1="123.84" y1="363.20" x2="123.84" y2="362.00" stroke="#777" stroke-width="0.4"/>
<line x1="132.92" y1="363.20" x2="132.92" y2="362.00" stroke="#777" stroke-width="0.4"/>
<rect x="96.00" y="322.60" width="46.60" height="41.20" fill="none" stroke="#111" stroke-width="1.2"/>
<line x1="110.50" y1="347.20" x2="123.00" y2="347.20" stroke="#666" stroke-width="0.7"/>
<line x1="110.50" y1="346.20" x2="110.50" y2="348.20" stroke="#666" stroke-width="0.5"/>
<line x1="123.00" y1="346.20" x2="123.00" y2="348.20" stroke="#666" stroke-width="0.5"/>
<text x="113.00" y="345.40" font-size="9.1" font-weight="bold" fill="#111" stroke="#111" stroke-width="0.27">1.87</text>
<clipPath id="c1478_3220"><rect x="149.00" y="323.20" width="44.00" height="40.00"/></clipPath>
<g clip-path="url(#c1478_3220)">
<path d="M149.00 362.92 L149.82 362.72 L150.65 362.34 L151.47 361.67 L152.30 360.57 L153.12 358.87 L153.95 356.44 L154.78 353.24 L155.60 349.40 L156.43 345.18 L157.25 340.95 L158.07 337.03 L158.68 334.40 L158.90 335.57 L159.72 340.34 L160.55 345.60 L161.38 350.79 L162.20 355.23 L163.03 358.54 L163.85 360.70 L164.68 361.94 L165.50 362.59 L166.32 362.90 L167.15 363.04 L167.97 363.11 L168.80 363.15 L169.62 363.17 L170.45 363.18 L171.28 363.19 L172.10 363.19 L172.93 363.19 L173.75 363.20 L174.57 363.20 L175.40 363.20 L176.22 363.20 L177.05 363.20 L177.88 363.20 L178.70 363.20 L179.53 363.20 L180.35 363.20 L181.18 363.20 L182.00 363.20" fill="#ffffff" fill-opacity="0.6" stroke="#b4b4cf" stroke-width="0.8"/>
<path d="M149.00 363.06 L149.88 362.97 L150.76 362.79 L151.64 362.44 L152.52 361.79 L153.40 360.66 L154.28 358.83 L155.16 356.09 L156.04 352.39 L156.92 347.86 L157.80 342.84 L158.68 337.83 L159.56 333.15 L160.00 330.89 L160.44 333.50 L161.32 338.58 L162.20 342.60 L163.08 345.18 L163.52 346.08 L163.96 349.61 L164.84 355.80 L165.72 360.06 L166.60 362.12 L167.48 362.84 L168.36 363.05 L169.24 363.13 L170.12 363.16 L171.00 363.18 L171.88 363.19 L172.76 363.19 L173.64 363.20 L174.52 363.20 L175.40 363.20 L176.28 363.20 L177.16 363.20 L178.04 363.20 L178.92 363.20 L179.80 363.20 L180.68 363.20 L181.56 363.20 L182.44 363.20 L183.32 363.20 L184.20 363.20 L184.20 363.20 L149.00 363.20 Z" fill="#b4b6e0" fill-opacity="0.92" stroke="#8385c1" stroke-width="0.7"/>
</g>
<line x1="149.00" y1="331.20" x2="150.60" y2="331.20" stroke="#555" stroke-width="0.5"/>
<line x1="149.00" y1="339.20" x2="150.60" y2="339.20" stroke="#555" stroke-width="0.5"/>
<line x1="149.00" y1="347.20" x2="150.60" y2="347.20" stroke="#555" stroke-width="0.5"/>
<line x1="149.00" y1="355.20" x2="150.60" y2="355.20" stroke="#555" stroke-width="0.5"/>
<line x1="157.80" y1="363.20" x2="157.80" y2="362.00" stroke="#777" stroke-width="0.4"/>
<line x1="166.60" y1="363.20" x2="166.60" y2="362.00" stroke="#777" stroke-width="0.4"/>
<line x1="175.40" y1="363.20" x2="175.40" y2="362.00" stroke="#777" stroke-width="0.4"/>
<line x1="184.20" y1="363.20" x2="184.20" y2="362.00" stroke="#777" stroke-width="0.4"/>
<rect x="148.40" y="322.60" width="45.20" height="41.20" fill="none" stroke="#111" stroke-width="1.2"/>
<line x1="163.00" y1="347.20" x2="175.00" y2="347.20" stroke="#666" stroke-width="0.7"/>
<line x1="163.00" y1="346.20" x2="163.00" y2="348.20" stroke="#666" stroke-width="0.5"/>
<line x1="175.00" y1="346.20" x2="175.00" y2="348.20" stroke="#666" stroke-width="0.5"/>
<text x="164.20" y="345.40" font-size="9.1" font-weight="bold" fill="#111" stroke="#111" stroke-width="0.27">3.72</text>
<clipPath id="c1983_3220"><rect x="199.50" y="323.20" width="44.90" height="40.00"/></clipPath>
<g clip-path="url(#c1983_3220)">
<path d="M199.50 362.44 L200.34 362.00 L201.18 361.33 L202.03 360.36 L202.87 359.00 L203.71 357.21 L204.55 354.96 L205.39 352.30 L206.24 349.33 L207.08 346.21 L207.92 343.11 L208.76 340.18 L209.60 337.48 L209.83 336.80 L210.44 340.16 L211.29 345.30 L212.13 350.63 L212.97 355.31 L213.81 358.78 L214.65 360.96 L215.50 362.16 L216.34 362.73 L217.18 362.98 L218.02 363.09 L218.86 363.14 L219.71 363.16 L220.55 363.18 L221.39 363.19 L222.23 363.19 L223.07 363.19 L223.91 363.20 L224.76 363.20 L225.60 363.20 L226.44 363.20 L227.28 363.20 L228.12 363.20 L228.97 363.20 L229.81 363.20 L230.65 363.20 L231.49 363.20 L232.33 363.20 L233.18 363.20" fill="#ffffff" fill-opacity="0.6" stroke="#b4b4cf" stroke-width="0.8"/>
<path d="M199.50 363.10 L200.40 363.06 L201.30 362.98 L202.19 362.85 L203.09 362.63 L203.99 362.26 L204.89 361.64 L205.79 360.56 L206.68 358.53 L207.58 354.92 L208.48 349.71 L209.38 343.98 L209.38 343.98 L210.28 342.96 L211.17 341.71 L212.07 339.40 L212.97 336.20 L213.87 332.81 L214.32 331.17 L214.77 334.40 L215.66 341.67 L216.56 349.18 L217.46 355.39 L218.36 359.47 L219.26 361.62 L220.15 362.58 L221.05 362.95 L221.95 363.08 L222.85 363.14 L223.75 363.17 L224.64 363.18 L225.54 363.19 L226.44 363.19 L227.34 363.20 L228.24 363.20 L229.13 363.20 L230.03 363.20 L230.93 363.20 L231.83 363.20 L232.73 363.20 L233.62 363.20 L234.52 363.20 L235.42 363.20 L235.42 363.20 L199.50 363.20 Z" fill="#b4b6e0" fill-opacity="0.92" stroke="#8385c1" stroke-width="0.7"/>
</g>
<line x1="199.50" y1="331.20" x2="201.10" y2="331.20" stroke="#555" stroke-width="0.5"/>
<line x1="199.50" y1="339.20" x2="201.10" y2="339.20" stroke="#555" stroke-width="0.5"/>
<line x1="199.50" y1="347.20" x2="201.10" y2="347.20" stroke="#555" stroke-width="0.5"/>
<line x1="199.50" y1="355.20" x2="201.10" y2="355.20" stroke="#555" stroke-width="0.5"/>
<line x1="208.48" y1="363.20" x2="208.48" y2="362.00" stroke="#777" stroke-width="0.4"/>
<line x1="217.46" y1="363.20" x2="217.46" y2="362.00" stroke="#777" stroke-width="0.4"/>
<line x1="226.44" y1="363.20" x2="226.44" y2="362.00" stroke="#777" stroke-width="0.4"/>
<line x1="235.42" y1="363.20" x2="235.42" y2="362.00" stroke="#777" stroke-width="0.4"/>
<rect x="198.90" y="322.60" width="46.10" height="41.20" fill="none" stroke="#111" stroke-width="1.2"/>
<line x1="215.00" y1="347.20" x2="228.00" y2="347.20" stroke="#666" stroke-width="0.7"/>
<line x1="215.00" y1="346.20" x2="215.00" y2="348.20" stroke="#666" stroke-width="0.5"/>
<line x1="228.00" y1="346.20" x2="228.00" y2="348.20" stroke="#666" stroke-width="0.5"/>
<text x="217.20" y="345.40" font-size="9.1" font-weight="bold" fill="#111" stroke="#111" stroke-width="0.27">27.4</text>
<text x="41.00" y="343.20" font-size="9" font-weight="bold" fill="#111" stroke="#111" stroke-width="0.27" text-anchor="middle" transform="rotate(-90 41.00 343.20)">CD8</text>
<clipPath id="c446_3828"><rect x="45.80" y="384.00" width="44.60" height="37.20"/></clipPath>
<g clip-path="url(#c446_3828)">
<path d="M45.80 420.98 L46.64 420.82 L47.47 420.53 L48.31 420.00 L49.15 419.11 L49.98 417.66 L50.82 415.51 L51.65 412.55 L52.49 408.82 L53.33 404.52 L54.16 400.00 L55.00 395.65 L55.84 391.69 L56.06 390.70 L56.67 394.21 L57.51 399.54 L58.34 405.18 L59.18 410.38 L60.02 414.56 L60.85 417.47 L61.69 419.26 L62.53 420.25 L63.36 420.74 L64.20 420.97 L65.03 421.07 L65.87 421.13 L66.71 421.15 L67.54 421.17 L68.38 421.18 L69.22 421.19 L70.05 421.19 L70.89 421.19 L71.72 421.20 L72.56 421.20 L73.40 421.20 L74.23 421.20 L75.07 421.20 L75.91 421.20 L76.74 421.20 L77.58 421.20 L78.41 421.20 L79.25 421.20" fill="#ffffff" fill-opacity="0.6" stroke="#b4b4cf" stroke-width="0.8"/>
<path d="M45.80 420.97 L46.69 420.78 L47.58 420.42 L48.48 419.78 L49.37 418.69 L50.26 416.99 L51.15 414.58 L52.04 411.46 L52.94 407.81 L53.83 403.94 L54.72 400.16 L55.61 396.61 L55.61 396.61 L56.50 400.63 L57.40 405.04 L58.29 409.12 L59.18 412.09 L60.07 413.68 L60.96 414.16 L61.86 413.98 L61.86 413.98 L62.75 415.15 L63.64 416.25 L64.53 417.33 L65.42 418.34 L66.32 419.22 L67.21 419.91 L68.10 420.41 L68.99 420.74 L69.88 420.94 L70.78 421.06 L71.67 421.12 L72.56 421.15 L73.45 421.17 L74.34 421.18 L75.24 421.19 L76.13 421.19 L77.02 421.19 L77.91 421.20 L78.80 421.20 L79.70 421.20 L80.59 421.20 L81.48 421.20 L81.48 421.20 L45.80 421.20 Z" fill="#b4b6e0" fill-opacity="0.92" stroke="#8385c1" stroke-width="0.7"/>
</g>
<line x1="45.80" y1="391.44" x2="47.40" y2="391.44" stroke="#555" stroke-width="0.5"/>
<line x1="45.80" y1="398.88" x2="47.40" y2="398.88" stroke="#555" stroke-width="0.5"/>
<line x1="45.80" y1="406.32" x2="47.40" y2="406.32" stroke="#555" stroke-width="0.5"/>
<line x1="45.80" y1="413.76" x2="47.40" y2="413.76" stroke="#555" stroke-width="0.5"/>
<line x1="54.72" y1="421.20" x2="54.72" y2="420.00" stroke="#777" stroke-width="0.4"/>
<line x1="63.64" y1="421.20" x2="63.64" y2="420.00" stroke="#777" stroke-width="0.4"/>
<line x1="72.56" y1="421.20" x2="72.56" y2="420.00" stroke="#777" stroke-width="0.4"/>
<line x1="81.48" y1="421.20" x2="81.48" y2="420.00" stroke="#777" stroke-width="0.4"/>
<rect x="45.20" y="383.40" width="45.80" height="38.40" fill="none" stroke="#111" stroke-width="1.2"/>
<line x1="59.50" y1="407.60" x2="74.00" y2="407.60" stroke="#666" stroke-width="0.7"/>
<line x1="59.50" y1="406.60" x2="59.50" y2="408.60" stroke="#666" stroke-width="0.5"/>
<line x1="74.00" y1="406.60" x2="74.00" y2="408.60" stroke="#666" stroke-width="0.5"/>
<text x="61.00" y="405.20" font-size="9.1" font-weight="bold" fill="#111" stroke="#111" stroke-width="0.27">5.95</text>
<clipPath id="c954_3828"><rect x="96.60" y="384.00" width="45.40" height="37.20"/></clipPath>
<g clip-path="url(#c954_3828)">
<path d="M96.60 420.85 L97.45 420.59 L98.30 420.11 L99.15 419.29 L100.01 417.99 L100.86 416.06 L101.71 413.41 L102.56 410.09 L103.41 406.29 L104.26 402.32 L105.11 398.52 L105.96 395.07 L106.13 394.42 L106.82 397.04 L107.67 400.64 L108.52 404.50 L109.37 408.34 L110.22 411.86 L111.07 414.80 L111.92 417.06 L112.77 418.65 L113.62 419.70 L114.48 420.34 L115.33 420.71 L116.18 420.92 L117.03 421.03 L117.88 421.10 L118.73 421.13 L119.58 421.15 L120.44 421.17 L121.29 421.18 L122.14 421.18 L122.99 421.19 L123.84 421.19 L124.69 421.19 L125.54 421.20 L126.39 421.20 L127.25 421.20 L128.10 421.20 L128.95 421.20 L129.80 421.20 L130.65 421.20" fill="#ffffff" fill-opacity="0.6" stroke="#b4b4cf" stroke-width="0.8"/>
<path d="M96.60 420.83 L97.51 420.51 L98.42 419.93 L99.32 418.90 L100.23 417.24 L101.14 414.76 L102.05 411.40 L102.96 407.29 L103.86 402.76 L104.77 398.24 L105.68 394.09 L106.13 392.18 L106.59 394.25 L107.50 398.76 L108.40 403.67 L109.31 408.49 L110.22 412.70 L111.13 415.95 L112.04 418.19 L112.94 419.57 L113.85 420.36 L114.76 420.77 L115.67 420.97 L116.58 421.07 L117.48 421.12 L118.39 421.15 L119.30 421.17 L120.21 421.18 L121.12 421.19 L122.02 421.19 L122.93 421.19 L123.84 421.20 L124.75 421.20 L125.66 421.20 L126.56 421.20 L127.47 421.20 L128.38 421.20 L129.29 421.20 L130.20 421.20 L131.10 421.20 L132.01 421.20 L132.92 421.20 L132.92 421.20 L96.60 421.20 Z" fill="#b4b6e0" fill-opacity="0.92" stroke="#8385c1" stroke-width="0.7"/>
</g>
<line x1="96.60" y1="391.44" x2="98.20" y2="391.44" stroke="#555" stroke-width="0.5"/>
<line x1="96.60" y1="398.88" x2="98.20" y2="398.88" stroke="#555" stroke-width="0.5"/>
<line x1="96.60" y1="406.32" x2="98.20" y2="406.32" stroke="#555" stroke-width="0.5"/>
<line x1="96.60" y1="413.76" x2="98.20" y2="413.76" stroke="#555" stroke-width="0.5"/>
<line x1="105.68" y1="421.20" x2="105.68" y2="420.00" stroke="#777" stroke-width="0.4"/>
<line x1="114.76" y1="421.20" x2="114.76" y2="420.00" stroke="#777" stroke-width="0.4"/>
<line x1="123.84" y1="421.20" x2="123.84" y2="420.00" stroke="#777" stroke-width="0.4"/>
<line x1="132.92" y1="421.20" x2="132.92" y2="420.00" stroke="#777" stroke-width="0.4"/>
<rect x="96.00" y="383.40" width="46.60" height="38.40" fill="none" stroke="#111" stroke-width="1.2"/>
<line x1="110.50" y1="407.60" x2="125.00" y2="407.60" stroke="#666" stroke-width="0.7"/>
<line x1="110.50" y1="406.60" x2="110.50" y2="408.60" stroke="#666" stroke-width="0.5"/>
<line x1="125.00" y1="406.60" x2="125.00" y2="408.60" stroke="#666" stroke-width="0.5"/>
<text x="113.00" y="405.20" font-size="9.1" font-weight="bold" fill="#111" stroke="#111" stroke-width="0.27">2.05</text>
<clipPath id="c1478_3828"><rect x="149.00" y="384.00" width="44.00" height="37.20"/></clipPath>
<g clip-path="url(#c1478_3828)">
<path d="M149.00 420.08 L149.82 419.44 L150.65 418.49 L151.47 417.14 L152.30 415.31 L153.12 412.95 L153.95 410.09 L154.78 406.81 L155.60 403.26 L156.43 399.64 L157.25 396.15 L158.07 392.91 L158.68 390.70 L158.90 392.39 L159.72 399.49 L160.55 407.10 L161.38 413.49 L162.20 417.64 L163.03 419.77 L163.85 420.66 L164.68 420.99 L165.50 421.11 L166.32 421.15 L167.15 421.17 L167.97 421.19 L168.80 421.19 L169.62 421.20 L170.45 421.20 L171.28 421.20 L172.10 421.20 L172.93 421.20 L173.75 421.20 L174.57 421.20 L175.40 421.20 L176.22 421.20 L177.05 421.20 L177.88 421.20 L178.70 421.20 L179.53 421.20 L180.35 421.20 L181.18 421.20 L182.00 421.20" fill="#ffffff" fill-opacity="0.6" stroke="#b4b4cf" stroke-width="0.8"/>
<path d="M149.00 420.99 L149.88 420.86 L150.76 420.65 L151.64 420.30 L152.52 419.75 L153.40 418.94 L154.28 417.80 L155.16 416.30 L156.04 414.41 L156.92 412.22 L157.80 409.82 L158.68 407.38 L159.56 405.03 L160.44 402.87 L160.88 401.86 L161.32 402.92 L162.20 405.20 L163.08 407.68 L163.96 410.25 L164.84 412.73 L165.72 414.96 L166.60 416.82 L167.48 418.27 L168.36 419.32 L169.24 420.04 L170.12 420.50 L171.00 420.78 L171.88 420.95 L172.76 421.05 L173.64 421.10 L174.52 421.14 L175.40 421.16 L176.28 421.17 L177.16 421.18 L178.04 421.18 L178.92 421.19 L179.80 421.19 L180.68 421.19 L181.56 421.20 L182.44 421.20 L183.32 421.20 L184.20 421.20 L184.20 421.20 L149.00 421.20 Z" fill="#b4b6e0" fill-opacity="0.92" stroke="#8385c1" stroke-width="0.7"/>
</g>
<line x1="149.00" y1="391.44" x2="150.60" y2="391.44" stroke="#555" stroke-width="0.5"/>
<line x1="149.00" y1="398.88" x2="150.60" y2="398.88" stroke="#555" stroke-width="0.5"/>
<line x1="149.00" y1="406.32" x2="150.60" y2="406.32" stroke="#555" stroke-width="0.5"/>
<line x1="149.00" y1="413.76" x2="150.60" y2="413.76" stroke="#555" stroke-width="0.5"/>
<line x1="157.80" y1="421.20" x2="157.80" y2="420.00" stroke="#777" stroke-width="0.4"/>
<line x1="166.60" y1="421.20" x2="166.60" y2="420.00" stroke="#777" stroke-width="0.4"/>
<line x1="175.40" y1="421.20" x2="175.40" y2="420.00" stroke="#777" stroke-width="0.4"/>
<line x1="184.20" y1="421.20" x2="184.20" y2="420.00" stroke="#777" stroke-width="0.4"/>
<rect x="148.40" y="383.40" width="45.20" height="38.40" fill="none" stroke="#111" stroke-width="1.2"/>
<line x1="163.50" y1="407.60" x2="178.00" y2="407.60" stroke="#666" stroke-width="0.7"/>
<line x1="163.50" y1="406.60" x2="163.50" y2="408.60" stroke="#666" stroke-width="0.5"/>
<line x1="178.00" y1="406.60" x2="178.00" y2="408.60" stroke="#666" stroke-width="0.5"/>
<text x="163.00" y="405.20" font-size="9.1" font-weight="bold" fill="#111" stroke="#111" stroke-width="0.27">21.3</text>
<clipPath id="c1983_3828"><rect x="199.50" y="384.00" width="44.90" height="37.20"/></clipPath>
<g clip-path="url(#c1983_3828)">
<path d="M199.50 420.93 L200.34 420.76 L201.18 420.47 L202.03 419.98 L202.87 419.19 L203.71 417.99 L204.55 416.25 L205.39 413.91 L206.24 410.94 L207.08 407.43 L207.92 403.59 L208.76 399.68 L209.60 395.94 L210.44 392.52 L210.72 391.44 L211.29 393.69 L212.13 397.34 L212.97 401.29 L213.81 405.33 L214.65 409.15 L215.50 412.51 L216.34 415.24 L217.18 417.30 L218.02 418.76 L218.86 419.72 L219.71 420.33 L220.55 420.69 L221.39 420.89 L222.23 421.01 L223.07 421.08 L223.91 421.12 L224.76 421.14 L225.60 421.16 L226.44 421.17 L227.28 421.18 L228.12 421.18 L228.97 421.19 L229.81 421.19 L230.65 421.19 L231.49 421.20 L232.33 421.20 L233.18 421.20" fill="#ffffff" fill-opacity="0.6" stroke="#b4b4cf" stroke-width="0.8"/>
<path d="M199.50 420.96 L200.40 420.79 L201.30 420.49 L202.19 419.98 L203.09 419.14 L203.99 417.85 L204.89 415.97 L205.79 413.45 L206.68 410.33 L207.58 406.76 L208.48 403.00 L209.38 399.34 L210.28 395.98 L210.72 394.42 L211.17 396.19 L212.07 400.05 L212.97 404.25 L213.87 408.47 L214.77 412.27 L215.66 415.36 L216.56 417.63 L217.46 419.14 L218.36 420.07 L219.26 420.59 L220.15 420.87 L221.05 421.02 L221.95 421.09 L222.85 421.13 L223.75 421.15 L224.64 421.17 L225.54 421.18 L226.44 421.19 L227.34 421.19 L228.24 421.19 L229.13 421.20 L230.03 421.20 L230.93 421.20 L231.83 421.20 L232.73 421.20 L233.62 421.20 L234.52 421.20 L235.42 421.20 L235.42 421.20 L199.50 421.20 Z" fill="#b4b6e0" fill-opacity="0.92" stroke="#8385c1" stroke-width="0.7"/>
</g>
<line x1="199.50" y1="391.44" x2="201.10" y2="391.44" stroke="#555" stroke-width="0.5"/>
<line x1="199.50" y1="398.88" x2="201.10" y2="398.88" stroke="#555" stroke-width="0.5"/>
<line x1="199.50" y1="406.32" x2="201.10" y2="406.32" stroke="#555" stroke-width="0.5"/>
<line x1="199.50" y1="413.76" x2="201.10" y2="413.76" stroke="#555" stroke-width="0.5"/>
<line x1="208.48" y1="421.20" x2="208.48" y2="420.00" stroke="#777" stroke-width="0.4"/>
<line x1="217.46" y1="421.20" x2="217.46" y2="420.00" stroke="#777" stroke-width="0.4"/>
<line x1="226.44" y1="421.20" x2="226.44" y2="420.00" stroke="#777" stroke-width="0.4"/>
<line x1="235.42" y1="421.20" x2="235.42" y2="420.00" stroke="#777" stroke-width="0.4"/>
<rect x="198.90" y="383.40" width="46.10" height="38.40" fill="none" stroke="#111" stroke-width="1.2"/>
<line x1="214.50" y1="407.60" x2="229.00" y2="407.60" stroke="#666" stroke-width="0.7"/>
<line x1="214.50" y1="406.60" x2="214.50" y2="408.60" stroke="#666" stroke-width="0.5"/>
<line x1="229.00" y1="406.60" x2="229.00" y2="408.60" stroke="#666" stroke-width="0.5"/>
<text x="215.60" y="405.20" font-size="9.1" font-weight="bold" fill="#111" stroke="#111" stroke-width="0.27">5.12</text>
<text x="41.00" y="402.60" font-size="9" font-weight="bold" fill="#111" stroke="#111" stroke-width="0.27" text-anchor="middle" transform="rotate(-90 41.00 402.60)">CD8</text>
<text x="44.20" y="313.60" font-size="9.1" font-weight="bold" fill="#111" stroke="#111" stroke-width="0.27">pSTAT1</text>
<line x1="77.80" y1="309.60" x2="236.60" y2="309.60" stroke="#2a2a2a" stroke-width="1.0"/>
<path d="M242.00 309.60 L235.60 306.80 L235.60 312.40 Z" fill="#111"/>
<text x="43.60" y="374.20" font-size="9.1" font-weight="bold" fill="#111" stroke="#111" stroke-width="0.27">pSTAT3</text>
<line x1="77.20" y1="370.40" x2="236.60" y2="370.40" stroke="#2a2a2a" stroke-width="1.0"/>
<path d="M242.00 370.40 L235.60 367.60 L235.60 373.20 Z" fill="#111"/>
<text x="44.40" y="431.80" font-size="9.1" font-weight="bold" fill="#111" stroke="#111" stroke-width="0.27">pSTAT4</text>
<line x1="78.00" y1="428.00" x2="236.60" y2="428.00" stroke="#2a2a2a" stroke-width="1.0"/>
<path d="M242.00 428.00 L235.60 425.20 L235.60 430.80 Z" fill="#111"/>
<line x1="310.70" y1="312.10" x2="310.70" y2="308.72" stroke="#1a1a1a" stroke-width="1.2"/>
<line x1="308.30" y1="308.72" x2="313.10" y2="308.72" stroke="#1a1a1a" stroke-width="1.2"/>
<rect x="304.30" y="312.60" width="12.80" height="7.40" fill="#ffffff" stroke="#1c1c1c" stroke-width="1.0"/>
<line x1="332.10" y1="305.05" x2="332.10" y2="299.41" stroke="#1a1a1a" stroke-width="1.2"/>
<line x1="329.70" y1="299.41" x2="334.50" y2="299.41" stroke="#1a1a1a" stroke-width="1.2"/>
<rect x="325.90" y="305.55" width="12.40" height="14.45" fill="#aaaaaa" stroke="#1c1c1c" stroke-width="1.0"/>
<text x="332.10" y="299.99" font-size="7.6" font-weight="bold" fill="#111" stroke="#111" stroke-width="0.15" text-anchor="middle">*</text>
<line x1="355.50" y1="310.69" x2="355.50" y2="306.75" stroke="#1a1a1a" stroke-width="1.2"/>
<line x1="353.10" y1="306.75" x2="357.90" y2="306.75" stroke="#1a1a1a" stroke-width="1.2"/>
<rect x="349.15" y="311.04" width="12.70" height="8.96" fill="#273d74" stroke="#15244a" stroke-width="0.7"/>
<text x="356.10" y="305.00" font-size="7.8" font-weight="bold" fill="#111" stroke="#111" stroke-width="0.23" text-anchor="middle" font-style="italic">NS</text>
<line x1="376.90" y1="274.88" x2="376.90" y2="256.27" stroke="#1a1a1a" stroke-width="1.2"/>
<line x1="374.50" y1="256.27" x2="379.30" y2="256.27" stroke="#1a1a1a" stroke-width="1.2"/>
<rect x="370.35" y="275.23" width="13.10" height="44.77" fill="#ee3d2c" stroke="#ae2a1c" stroke-width="0.7"/>
<text x="376.90" y="256.85" font-size="7.6" font-weight="bold" fill="#111" stroke="#111" stroke-width="0.15" text-anchor="middle">***</text>
<line x1="299.40" y1="247.50" x2="299.40" y2="320.65" stroke="#111" stroke-width="1.3"/>
<line x1="298.75" y1="320.00" x2="387.50" y2="320.00" stroke="#111" stroke-width="1.3"/>
<line x1="296.80" y1="320.00" x2="299.40" y2="320.00" stroke="#111" stroke-width="1.0"/>
<text x="293.50" y="323.00" font-size="7.5" font-weight="bold" fill="#111" stroke="#111" stroke-width="0.22" text-anchor="end">0</text>
<line x1="296.80" y1="305.90" x2="299.40" y2="305.90" stroke="#111" stroke-width="1.0"/>
<text x="293.50" y="308.90" font-size="7.5" font-weight="bold" fill="#111" stroke="#111" stroke-width="0.22" text-anchor="end">5</text>
<line x1="296.80" y1="291.80" x2="299.40" y2="291.80" stroke="#111" stroke-width="1.0"/>
<text x="293.50" y="294.80" font-size="7.5" font-weight="bold" fill="#111" stroke="#111" stroke-width="0.22" text-anchor="end">10</text>
<line x1="296.80" y1="277.70" x2="299.40" y2="277.70" stroke="#111" stroke-width="1.0"/>
<text x="293.50" y="280.70" font-size="7.5" font-weight="bold" fill="#111" stroke="#111" stroke-width="0.22" text-anchor="end">15</text>
<line x1="296.80" y1="263.60" x2="299.40" y2="263.60" stroke="#111" stroke-width="1.0"/>
<text x="293.50" y="266.60" font-size="7.5" font-weight="bold" fill="#111" stroke="#111" stroke-width="0.22" text-anchor="end">20</text>
<line x1="296.80" y1="249.50" x2="299.40" y2="249.50" stroke="#111" stroke-width="1.0"/>
<text x="293.50" y="252.50" font-size="7.5" font-weight="bold" fill="#111" stroke="#111" stroke-width="0.22" text-anchor="end">25</text>
<text x="280.00" y="287.00" font-size="8.3" font-weight="bold" fill="#111" stroke="#111" stroke-width="0.25" text-anchor="middle" transform="rotate(-90 280.00 287.00)">% pSTAT1<tspan dy="-2.49" font-size="5.31">+</tspan></text>
<line x1="356.00" y1="247.50" x2="379.00" y2="247.50" stroke="#999" stroke-width="0.7" stroke-dasharray="1.4 1"/>
<text x="366.00" y="246.20" font-size="7.6" font-weight="bold" fill="#111" stroke="#111" stroke-width="0.15" text-anchor="middle">***</text>
<text x="295.30" y="330.30" font-size="8.6" font-weight="bold" fill="#111" stroke="#111" stroke-width="0.26" textLength="16.00" lengthAdjust="spacingAndGlyphs">Rβ2</text>
<text x="311.30" y="327.90" font-size="6.4" font-weight="bold" fill="#111" stroke="#111" stroke-width="0.19">+</text>
<text x="348.60" y="330.30" font-size="8.6" font-weight="bold" fill="#111" stroke="#111" stroke-width="0.26" textLength="16.00" lengthAdjust="spacingAndGlyphs">Rβ2</text>
<text x="364.60" y="327.90" font-size="6.4" font-weight="bold" fill="#111" stroke="#111" stroke-width="0.19">+</text>
<text x="316.00" y="330.30" font-size="8.6" font-weight="bold" fill="#111" stroke="#111" stroke-width="0.26" textLength="26.00" lengthAdjust="spacingAndGlyphs">gp130</text>
<text x="341.90" y="327.90" font-size="6.4" font-weight="bold" fill="#111" stroke="#111" stroke-width="0.19">+</text>
<text x="368.30" y="330.30" font-size="8.6" font-weight="bold" fill="#111" stroke="#111" stroke-width="0.26" textLength="26.00" lengthAdjust="spacingAndGlyphs">gp130</text>
<text x="394.20" y="327.90" font-size="6.4" font-weight="bold" fill="#111" stroke="#111" stroke-width="0.19">+</text>
<line x1="304.80" y1="332.50" x2="339.70" y2="332.50" stroke="#333" stroke-width="0.7"/>
<line x1="351.30" y1="332.50" x2="384.80" y2="332.50" stroke="#333" stroke-width="0.7"/>
<text x="321.50" y="342.40" font-size="8.8" font-weight="bold" fill="#111" stroke="#111" stroke-width="0.26" text-anchor="middle">OVA</text>
<text x="369.30" y="342.40" font-size="8.8" font-weight="bold" fill="#111" stroke="#111" stroke-width="0.26" text-anchor="middle">OVA+rIL35</text>
<line x1="431.60" y1="319.47" x2="431.60" y2="318.78" stroke="#1a1a1a" stroke-width="1.2"/>
<line x1="429.20" y1="318.78" x2="434.00" y2="318.78" stroke="#1a1a1a" stroke-width="1.2"/>
<rect x="425.10" y="319.97" width="13.00" height="1.23" fill="#ffffff" stroke="#1c1c1c" stroke-width="1.0"/>
<line x1="454.20" y1="319.12" x2="454.20" y2="318.26" stroke="#1a1a1a" stroke-width="1.2"/>
<line x1="451.80" y1="318.26" x2="456.60" y2="318.26" stroke="#1a1a1a" stroke-width="1.2"/>
<rect x="447.90" y="319.62" width="12.60" height="1.58" fill="#aaaaaa" stroke="#1c1c1c" stroke-width="1.0"/>
<text x="455.20" y="315.00" font-size="7.8" font-weight="bold" fill="#111" stroke="#111" stroke-width="0.23" text-anchor="middle" font-style="italic">NS</text>
<line x1="476.15" y1="314.45" x2="476.15" y2="311.17" stroke="#1a1a1a" stroke-width="1.2"/>
<line x1="473.75" y1="311.17" x2="478.55" y2="311.17" stroke="#1a1a1a" stroke-width="1.2"/>
<rect x="469.65" y="314.80" width="13.00" height="6.40" fill="#273d74" stroke="#15244a" stroke-width="0.7"/>
<text x="476.15" y="311.75" font-size="7.6" font-weight="bold" fill="#111" stroke="#111" stroke-width="0.15" text-anchor="middle">**</text>
<line x1="499.20" y1="270.17" x2="499.20" y2="254.77" stroke="#1a1a1a" stroke-width="1.2"/>
<line x1="496.80" y1="254.77" x2="501.60" y2="254.77" stroke="#1a1a1a" stroke-width="1.2"/>
<rect x="492.55" y="270.52" width="13.30" height="50.68" fill="#ee3d2c" stroke="#ae2a1c" stroke-width="0.7"/>
<text x="499.20" y="256.18" font-size="7.6" font-weight="bold" fill="#111" stroke="#111" stroke-width="0.15" text-anchor="middle">***</text>
<line x1="420.00" y1="250.00" x2="420.00" y2="321.85" stroke="#111" stroke-width="1.3"/>
<line x1="419.35" y1="321.20" x2="508.50" y2="321.20" stroke="#111" stroke-width="1.3"/>
<line x1="417.40" y1="321.20" x2="420.00" y2="321.20" stroke="#111" stroke-width="1.0"/>
<text x="414.20" y="324.20" font-size="7.3" font-weight="bold" fill="#111" stroke="#111" stroke-width="0.22" text-anchor="end">0</text>
<line x1="417.40" y1="303.90" x2="420.00" y2="303.90" stroke="#111" stroke-width="1.0"/>
<text x="414.20" y="306.90" font-size="7.3" font-weight="bold" fill="#111" stroke="#111" stroke-width="0.22" text-anchor="end">10</text>
<line x1="417.40" y1="286.60" x2="420.00" y2="286.60" stroke="#111" stroke-width="1.0"/>
<text x="414.20" y="289.60" font-size="7.3" font-weight="bold" fill="#111" stroke="#111" stroke-width="0.22" text-anchor="end">20</text>
<line x1="417.40" y1="269.30" x2="420.00" y2="269.30" stroke="#111" stroke-width="1.0"/>
<text x="414.20" y="272.30" font-size="7.3" font-weight="bold" fill="#111" stroke="#111" stroke-width="0.22" text-anchor="end">30</text>
<line x1="417.40" y1="252.00" x2="420.00" y2="252.00" stroke="#111" stroke-width="1.0"/>
<text x="414.20" y="255.00" font-size="7.3" font-weight="bold" fill="#111" stroke="#111" stroke-width="0.22" text-anchor="end">40</text>
<text x="402.00" y="285.80" font-size="8.2" font-weight="bold" fill="#111" stroke="#111" stroke-width="0.25" text-anchor="middle" transform="rotate(-90 402.00 285.80)">% pSTAT3<tspan dy="-2.46" font-size="5.25">+</tspan></text>
<line x1="479.80" y1="246.80" x2="501.00" y2="246.80" stroke="#999" stroke-width="0.7" stroke-dasharray="1.4 1"/>
<text x="489.30" y="247.80" font-size="7.6" font-weight="bold" fill="#111" stroke="#111" stroke-width="0.15" text-anchor="middle">***</text>
<text x="414.70" y="331.20" font-size="8.6" font-weight="bold" fill="#111" stroke="#111" stroke-width="0.26" textLength="16.00" lengthAdjust="spacingAndGlyphs">Rβ2</text>
<text x="430.70" y="328.80" font-size="6.4" font-weight="bold" fill="#111" stroke="#111" stroke-width="0.19">+</text>
<text x="467.60" y="331.20" font-size="8.6" font-weight="bold" fill="#111" stroke="#111" stroke-width="0.26" textLength="16.00" lengthAdjust="spacingAndGlyphs">Rβ2</text>
<text x="483.60" y="328.80" font-size="6.4" font-weight="bold" fill="#111" stroke="#111" stroke-width="0.19">+</text>
<text x="435.00" y="331.20" font-size="8.6" font-weight="bold" fill="#111" stroke="#111" stroke-width="0.26" textLength="26.00" lengthAdjust="spacingAndGlyphs">gp130</text>
<text x="460.90" y="328.80" font-size="6.4" font-weight="bold" fill="#111" stroke="#111" stroke-width="0.19">+</text>
<text x="487.40" y="331.20" font-size="8.6" font-weight="bold" fill="#111" stroke="#111" stroke-width="0.26" textLength="26.00" lengthAdjust="spacingAndGlyphs">gp130</text>
<text x="513.30" y="328.80" font-size="6.4" font-weight="bold" fill="#111" stroke="#111" stroke-width="0.19">+</text>
<line x1="423.80" y1="332.90" x2="460.80" y2="332.90" stroke="#333" stroke-width="0.7"/>
<line x1="470.30" y1="332.90" x2="504.10" y2="332.90" stroke="#333" stroke-width="0.7"/>
<text x="441.50" y="343.10" font-size="8.8" font-weight="bold" fill="#111" stroke="#111" stroke-width="0.26" text-anchor="middle">OVA</text>
<text x="489.10" y="343.10" font-size="8.8" font-weight="bold" fill="#111" stroke="#111" stroke-width="0.26" text-anchor="middle">OVA+rIL35</text>
<line x1="373.45" y1="411.71" x2="373.45" y2="406.45" stroke="#1a1a1a" stroke-width="1.2"/>
<line x1="371.05" y1="406.45" x2="375.85" y2="406.45" stroke="#1a1a1a" stroke-width="1.2"/>
<rect x="366.80" y="412.21" width="13.30" height="11.79" fill="#ffffff" stroke="#1c1c1c" stroke-width="1.0"/>
<line x1="395.45" y1="420.67" x2="395.45" y2="419.44" stroke="#1a1a1a" stroke-width="1.2"/>
<line x1="393.05" y1="419.44" x2="397.85" y2="419.44" stroke="#1a1a1a" stroke-width="1.2"/>
<rect x="389.20" y="421.17" width="12.50" height="2.83" fill="#aaaaaa" stroke="#1c1c1c" stroke-width="1.0"/>
<text x="395.45" y="420.78" font-size="7.6" font-weight="bold" fill="#111" stroke="#111" stroke-width="0.15" text-anchor="middle">**</text>
<line x1="418.90" y1="384.16" x2="418.90" y2="369.60" stroke="#1a1a1a" stroke-width="1.2"/>
<line x1="416.50" y1="369.60" x2="421.30" y2="369.60" stroke="#1a1a1a" stroke-width="1.2"/>
<rect x="412.35" y="384.51" width="13.10" height="39.49" fill="#273d74" stroke="#15244a" stroke-width="0.7"/>
<text x="418.90" y="370.18" font-size="7.6" font-weight="bold" fill="#111" stroke="#111" stroke-width="0.15" text-anchor="middle">***</text>
<line x1="441.00" y1="415.40" x2="441.00" y2="412.07" stroke="#1a1a1a" stroke-width="1.2"/>
<line x1="438.60" y1="412.07" x2="443.40" y2="412.07" stroke="#1a1a1a" stroke-width="1.2"/>
<rect x="434.35" y="415.75" width="13.30" height="8.25" fill="#ee3d2c" stroke="#ae2a1c" stroke-width="0.7"/>
<text x="441.00" y="412.65" font-size="7.6" font-weight="bold" fill="#111" stroke="#111" stroke-width="0.15" text-anchor="middle">*</text>
<line x1="361.70" y1="351.50" x2="361.70" y2="424.65" stroke="#111" stroke-width="1.3"/>
<line x1="361.05" y1="424.00" x2="449.50" y2="424.00" stroke="#111" stroke-width="1.3"/>
<line x1="359.10" y1="424.00" x2="361.70" y2="424.00" stroke="#111" stroke-width="1.0"/>
<text x="357.00" y="427.00" font-size="7.6" font-weight="bold" fill="#111" stroke="#111" stroke-width="0.23" text-anchor="end">0</text>
<line x1="359.10" y1="406.45" x2="361.70" y2="406.45" stroke="#111" stroke-width="1.0"/>
<text x="357.00" y="409.45" font-size="7.6" font-weight="bold" fill="#111" stroke="#111" stroke-width="0.23" text-anchor="end">10</text>
<line x1="359.10" y1="388.90" x2="361.70" y2="388.90" stroke="#111" stroke-width="1.0"/>
<text x="357.00" y="391.90" font-size="7.6" font-weight="bold" fill="#111" stroke="#111" stroke-width="0.23" text-anchor="end">20</text>
<line x1="359.10" y1="371.35" x2="361.70" y2="371.35" stroke="#111" stroke-width="1.0"/>
<text x="357.00" y="374.35" font-size="7.6" font-weight="bold" fill="#111" stroke="#111" stroke-width="0.23" text-anchor="end">30</text>
<line x1="359.10" y1="353.80" x2="361.70" y2="353.80" stroke="#111" stroke-width="1.0"/>
<text x="357.00" y="356.80" font-size="7.6" font-weight="bold" fill="#111" stroke="#111" stroke-width="0.23" text-anchor="end">40</text>
<text x="344.00" y="392.60" font-size="8.2" font-weight="bold" fill="#111" stroke="#111" stroke-width="0.25" text-anchor="middle" transform="rotate(-90 344.00 392.60)">% pSTAT4<tspan dy="-2.46" font-size="5.25">+</tspan></text>
<line x1="418.50" y1="359.20" x2="442.50" y2="359.20" stroke="#999" stroke-width="0.7" stroke-dasharray="1.4 1"/>
<text x="429.00" y="359.20" font-size="7.6" font-weight="bold" fill="#111" stroke="#111" stroke-width="0.15" text-anchor="middle">***</text>
<text x="358.90" y="433.90" font-size="8.6" font-weight="bold" fill="#111" stroke="#111" stroke-width="0.26" textLength="16.00" lengthAdjust="spacingAndGlyphs">Rβ2</text>
<text x="374.90" y="431.50" font-size="6.4" font-weight="bold" fill="#111" stroke="#111" stroke-width="0.19">+</text>
<text x="410.70" y="433.90" font-size="8.6" font-weight="bold" fill="#111" stroke="#111" stroke-width="0.26" textLength="16.00" lengthAdjust="spacingAndGlyphs">Rβ2</text>
<text x="426.70" y="431.50" font-size="6.4" font-weight="bold" fill="#111" stroke="#111" stroke-width="0.19">+</text>
<text x="379.20" y="433.90" font-size="8.6" font-weight="bold" fill="#111" stroke="#111" stroke-width="0.26" textLength="26.00" lengthAdjust="spacingAndGlyphs">gp130</text>
<text x="405.10" y="431.50" font-size="6.4" font-weight="bold" fill="#111" stroke="#111" stroke-width="0.19">+</text>
<text x="430.00" y="433.90" font-size="8.6" font-weight="bold" fill="#111" stroke="#111" stroke-width="0.26" textLength="26.00" lengthAdjust="spacingAndGlyphs">gp130</text>
<text x="455.90" y="431.50" font-size="6.4" font-weight="bold" fill="#111" stroke="#111" stroke-width="0.19">+</text>
<line x1="366.50" y1="437.20" x2="401.80" y2="437.20" stroke="#333" stroke-width="0.7"/>
<line x1="409.20" y1="437.20" x2="447.30" y2="437.20" stroke="#333" stroke-width="0.7"/>
<text x="383.20" y="446.00" font-size="8.8" font-weight="bold" fill="#111" stroke="#111" stroke-width="0.26" text-anchor="middle">OVA</text>
<text x="431.20" y="446.00" font-size="8.8" font-weight="bold" fill="#111" stroke="#111" stroke-width="0.26" text-anchor="middle">OVA+rIL35</text>
<text x="0.50" y="466.60" font-size="14.5" font-weight="bold" fill="#111" stroke="#111" stroke-width="0.43">D</text>
<text x="110.00" y="461.80" font-size="7.8" font-weight="bold" fill="#111" stroke="#111" stroke-width="0.23" text-anchor="middle" textLength="79.50" lengthAdjust="spacingAndGlyphs">αCD3+αCD28+OVA</text>
<line x1="70.00" y1="463.20" x2="150.00" y2="463.20" stroke="#222" stroke-width="0.7"/>
<text x="211.00" y="461.80" font-size="7.8" font-weight="bold" fill="#111" stroke="#111" stroke-width="0.23" text-anchor="middle" textLength="106.50" lengthAdjust="spacingAndGlyphs">αCD3+αCD28+OVA+rIL35</text>
<line x1="157.50" y1="463.20" x2="264.50" y2="463.20" stroke="#222" stroke-width="0.7"/>
<text x="37.80" y="474.70" font-size="8.8" font-weight="bold" fill="#111" stroke="#111" stroke-width="0.26" text-anchor="middle">ISO</text>
<text x="67.90" y="474.40" font-size="8.4" font-weight="bold" fill="#111" stroke="#111" stroke-width="0.25" textLength="35.50" lengthAdjust="spacingAndGlyphs">IL12Rβ2</text>
<text x="103.50" y="472.00" font-size="6.6" font-weight="bold" fill="#111" stroke="#111" stroke-width="0.20">+</text>
<text x="122.50" y="474.40" font-size="8.4" font-weight="bold" fill="#111" stroke="#111" stroke-width="0.25" textLength="24.50" lengthAdjust="spacingAndGlyphs">gp130</text>
<text x="147.20" y="472.00" font-size="6.6" font-weight="bold" fill="#111" stroke="#111" stroke-width="0.20">+</text>
<text x="166.00" y="474.40" font-size="8.4" font-weight="bold" fill="#111" stroke="#111" stroke-width="0.25" textLength="35.50" lengthAdjust="spacingAndGlyphs">IL12Rβ2</text>
<text x="201.60" y="472.00" font-size="6.6" font-weight="bold" fill="#111" stroke="#111" stroke-width="0.20">+</text>
<text x="222.00" y="474.40" font-size="8.4" font-weight="bold" fill="#111" stroke="#111" stroke-width="0.25" textLength="24.50" lengthAdjust="spacingAndGlyphs">gp130</text>
<text x="246.70" y="472.00" font-size="6.6" font-weight="bold" fill="#111" stroke="#111" stroke-width="0.20">+</text>
<clipPath id="k136_4770"><rect x="14.80" y="478.20" width="44.40" height="39.60"/></clipPath>
<g clip-path="url(#k136_4770)">
<path d="M39.90 498.40 C43.80 498.40 45.10 500.91 45.10 505.00 C45.10 512.20 42.90 514.82 42.90 518.10 L36.90 518.10 C36.90 514.82 34.70 512.20 34.70 505.00 C34.70 500.91 36.00 498.40 39.90 498.40Z" fill="#ababab" stroke="#2e2e2e" stroke-width="0.6"/>
<path d="M39.90 499.72 C43.02 499.72 44.06 501.73 44.06 505.00 C44.06 510.10 42.30 511.96 42.30 514.28 L37.50 514.28 C37.50 511.96 35.74 510.10 35.74 505.00 C35.74 501.73 36.78 499.72 39.90 499.72Z" fill="#8e8e8e" stroke="#2e2e2e" stroke-width="0.55"/>
<path d="M39.90 499.57 C41.77 499.57 43.29 502.58 43.29 505.61 C43.29 509.31 41.77 512.99 39.90 512.99 C38.03 512.99 36.51 509.31 36.51 505.61 C36.51 502.58 38.03 499.57 39.90 499.57Z" fill="#7c7c7c" stroke="#2e2e2e" stroke-width="0.5"/>
<path d="M39.90 501.11 C41.26 501.11 42.36 503.43 42.36 505.79 C42.36 508.64 41.26 511.45 39.90 511.45 C38.54 511.45 37.44 508.64 37.44 505.79 C37.44 503.43 38.54 501.11 39.90 501.11Z" fill="#919191" stroke="#2e2e2e" stroke-width="0.5"/>
<path d="M39.90 502.56 C40.77 502.56 41.48 504.23 41.48 505.96 C41.48 508.02 40.77 510.00 39.90 510.00 C39.03 510.00 38.32 508.02 38.32 505.96 C38.32 504.23 39.03 502.56 39.90 502.56Z" fill="#666666" stroke="#2e2e2e" stroke-width="0.5"/>
<path d="M39.90 503.92 C40.32 503.92 40.66 504.98 40.66 506.13 C40.66 507.43 40.32 508.64 39.90 508.64 C39.48 508.64 39.14 507.43 39.14 506.13 C39.14 504.98 39.48 503.92 39.90 503.92Z" fill="#454545" stroke="#2e2e2e" stroke-width="0.5"/>
</g>
<line x1="14.80" y1="486.12" x2="16.40" y2="486.12" stroke="#555" stroke-width="0.5"/>
<line x1="14.80" y1="494.04" x2="16.40" y2="494.04" stroke="#555" stroke-width="0.5"/>
<line x1="14.80" y1="501.96" x2="16.40" y2="501.96" stroke="#555" stroke-width="0.5"/>
<line x1="14.80" y1="509.88" x2="16.40" y2="509.88" stroke="#555" stroke-width="0.5"/>
<rect x="14.20" y="477.60" width="45.60" height="40.80" fill="none" stroke="#111" stroke-width="1.2"/>
<rect x="34.30" y="485.80" width="17.70" height="15.00" fill="none" stroke="#111" stroke-width="1.0"/>
<text x="36.10" y="484.40" font-size="9.0" font-weight="bold" fill="#111" stroke="#111" stroke-width="0.27">0.97</text>
<clipPath id="k632_4770"><rect x="64.40" y="478.20" width="43.60" height="39.60"/></clipPath>
<g clip-path="url(#k632_4770)">
<path d="M91.80 489.00 C95.55 489.00 96.80 492.04 96.80 497.00 C96.80 508.60 93.05 512.82 93.05 518.10 L90.55 518.10 C90.55 512.82 86.80 508.60 86.80 497.00 C86.80 492.04 88.05 489.00 91.80 489.00Z" fill="#ababab" stroke="#2e2e2e" stroke-width="0.6"/>
<path d="M91.80 490.60 C94.80 490.60 95.80 493.03 95.80 497.00 C95.80 505.62 92.80 508.76 92.80 512.68 L90.80 512.68 C90.80 508.76 87.80 505.62 87.80 497.00 C87.80 493.03 88.80 490.60 91.80 490.60Z" fill="#8e8e8e" stroke="#2e2e2e" stroke-width="0.55"/>
<path d="M91.80 490.73 C93.60 490.73 95.05 495.17 95.05 499.64 C95.05 505.11 93.60 510.55 91.80 510.55 C90.00 510.55 88.55 505.11 88.55 499.64 C88.55 495.17 90.00 490.73 91.80 490.73Z" fill="#7c7c7c" stroke="#2e2e2e" stroke-width="0.5"/>
<path d="M91.80 493.01 C93.10 493.01 94.16 496.43 94.16 499.92 C94.16 504.13 93.10 508.27 91.80 508.27 C90.50 508.27 89.44 504.13 89.44 499.92 C89.44 496.43 90.50 493.01 91.80 493.01Z" fill="#919191" stroke="#2e2e2e" stroke-width="0.5"/>
<path d="M91.80 495.15 C92.64 495.15 93.32 497.61 93.32 500.17 C93.32 503.21 92.64 506.13 91.80 506.13 C90.96 506.13 90.28 503.21 90.28 500.17 C90.28 497.61 90.96 495.15 91.80 495.15Z" fill="#666666" stroke="#2e2e2e" stroke-width="0.5"/>
<path d="M91.80 497.16 C92.21 497.16 92.53 498.72 92.53 500.42 C92.53 502.34 92.21 504.12 91.80 504.12 C91.39 504.12 91.06 502.34 91.06 500.42 C91.06 498.72 91.39 497.16 91.80 497.16Z" fill="#454545" stroke="#2e2e2e" stroke-width="0.5"/>
</g>
<line x1="64.40" y1="486.12" x2="66.00" y2="486.12" stroke="#555" stroke-width="0.5"/>
<line x1="64.40" y1="494.04" x2="66.00" y2="494.04" stroke="#555" stroke-width="0.5"/>
<line x1="64.40" y1="501.96" x2="66.00" y2="501.96" stroke="#555" stroke-width="0.5"/>
<line x1="64.40" y1="509.88" x2="66.00" y2="509.88" stroke="#555" stroke-width="0.5"/>
<rect x="63.80" y="477.60" width="44.80" height="40.80" fill="none" stroke="#111" stroke-width="1.2"/>
<rect x="83.50" y="485.90" width="17.20" height="15.20" fill="none" stroke="#111" stroke-width="1.0"/>
<text x="84.80" y="484.90" font-size="9.0" font-weight="bold" fill="#111" stroke="#111" stroke-width="0.27">35.1</text>
<clipPath id="k1124_4770"><rect x="113.60" y="478.20" width="42.80" height="39.60"/></clipPath>
<g clip-path="url(#k1124_4770)">
<path d="M141.60 489.50 C145.35 489.50 146.60 492.73 146.60 498.00 C146.60 509.05 142.85 513.07 142.85 518.10 L140.35 518.10 C140.35 513.07 136.60 509.05 136.60 498.00 C136.60 492.73 137.85 489.50 141.60 489.50Z" fill="#ababab" stroke="#2e2e2e" stroke-width="0.6"/>
<path d="M141.60 491.20 C144.60 491.20 145.60 493.78 145.60 498.00 C145.60 506.18 142.60 509.16 142.60 512.88 L140.60 512.88 C140.60 509.16 137.60 506.18 137.60 498.00 C137.60 493.78 138.60 491.20 141.60 491.20Z" fill="#8e8e8e" stroke="#2e2e2e" stroke-width="0.55"/>
<path d="M141.60 491.20 C143.40 491.20 144.85 495.56 144.85 499.96 C144.85 505.34 143.40 510.68 141.60 510.68 C139.80 510.68 138.34 505.34 138.34 499.96 C138.34 495.56 139.80 491.20 141.60 491.20Z" fill="#7c7c7c" stroke="#2e2e2e" stroke-width="0.5"/>
<path d="M141.60 493.44 C142.90 493.44 143.96 496.80 143.96 500.23 C143.96 504.37 142.90 508.44 141.60 508.44 C140.30 508.44 139.24 504.37 139.24 500.23 C139.24 496.80 140.30 493.44 141.60 493.44Z" fill="#919191" stroke="#2e2e2e" stroke-width="0.5"/>
<path d="M141.60 495.55 C142.44 495.55 143.12 497.96 143.12 500.48 C143.12 503.46 142.44 506.33 141.60 506.33 C140.76 506.33 140.08 503.46 140.08 500.48 C140.08 497.96 140.76 495.55 141.60 495.55Z" fill="#666666" stroke="#2e2e2e" stroke-width="0.5"/>
<path d="M141.60 497.52 C142.01 497.52 142.34 499.05 142.34 500.72 C142.34 502.61 142.01 504.36 141.60 504.36 C141.19 504.36 140.86 502.61 140.86 500.72 C140.86 499.05 141.19 497.52 141.60 497.52Z" fill="#454545" stroke="#2e2e2e" stroke-width="0.5"/>
</g>
<line x1="113.60" y1="486.12" x2="115.20" y2="486.12" stroke="#555" stroke-width="0.5"/>
<line x1="113.60" y1="494.04" x2="115.20" y2="494.04" stroke="#555" stroke-width="0.5"/>
<line x1="113.60" y1="501.96" x2="115.20" y2="501.96" stroke="#555" stroke-width="0.5"/>
<line x1="113.60" y1="509.88" x2="115.20" y2="509.88" stroke="#555" stroke-width="0.5"/>
<rect x="113.00" y="477.60" width="44.00" height="40.80" fill="none" stroke="#111" stroke-width="1.2"/>
<rect x="131.90" y="485.90" width="17.80" height="15.20" fill="none" stroke="#111" stroke-width="1.0"/>
<text x="134.00" y="484.90" font-size="9.0" font-weight="bold" fill="#111" stroke="#111" stroke-width="0.27">36.5</text>
<clipPath id="k1608_4770"><rect x="162.00" y="478.20" width="44.20" height="39.60"/></clipPath>
<g clip-path="url(#k1608_4770)">
<path d="M189.20 493.00 C193.32 493.00 194.70 496.04 194.70 501.00 C194.70 510.40 191.20 513.82 191.20 518.10 L187.20 518.10 C187.20 513.82 183.70 510.40 183.70 501.00 C183.70 496.04 185.07 493.00 189.20 493.00Z" fill="#ababab" stroke="#2e2e2e" stroke-width="0.6"/>
<path d="M189.20 494.60 C192.50 494.60 193.60 497.03 193.60 501.00 C193.60 507.86 190.80 510.36 190.80 513.48 L187.60 513.48 C187.60 510.36 184.80 507.86 184.80 501.00 C184.80 497.03 185.90 494.60 189.20 494.60Z" fill="#8e8e8e" stroke="#2e2e2e" stroke-width="0.55"/>
<path d="M189.20 494.50 C191.18 494.50 192.78 498.32 192.78 502.18 C192.78 506.90 191.18 511.58 189.20 511.58 C187.22 511.58 185.62 506.90 185.62 502.18 C185.62 498.32 187.22 494.50 189.20 494.50Z" fill="#7c7c7c" stroke="#2e2e2e" stroke-width="0.5"/>
<path d="M189.20 496.46 C190.64 496.46 191.80 499.41 191.80 502.42 C191.80 506.05 190.64 509.62 189.20 509.62 C187.76 509.62 186.60 506.05 186.60 502.42 C186.60 499.41 187.76 496.46 189.20 496.46Z" fill="#919191" stroke="#2e2e2e" stroke-width="0.5"/>
<path d="M189.20 498.31 C190.12 498.31 190.87 500.43 190.87 502.64 C190.87 505.25 190.12 507.77 189.20 507.77 C188.28 507.77 187.53 505.25 187.53 502.64 C187.53 500.43 188.28 498.31 189.20 498.31Z" fill="#666666" stroke="#2e2e2e" stroke-width="0.5"/>
<path d="M189.20 500.04 C189.65 500.04 190.01 501.38 190.01 502.85 C190.01 504.50 189.65 506.04 189.20 506.04 C188.75 506.04 188.39 504.50 188.39 502.85 C188.39 501.38 188.75 500.04 189.20 500.04Z" fill="#454545" stroke="#2e2e2e" stroke-width="0.5"/>
<path d="M185.60 518.10 L187.20 515.90 L191.20 515.90 L192.80 518.10Z" fill="#777" stroke="#2e2e2e" stroke-width="0.5"/>
</g>
<line x1="162.00" y1="486.12" x2="163.60" y2="486.12" stroke="#555" stroke-width="0.5"/>
<line x1="162.00" y1="494.04" x2="163.60" y2="494.04" stroke="#555" stroke-width="0.5"/>
<line x1="162.00" y1="501.96" x2="163.60" y2="501.96" stroke="#555" stroke-width="0.5"/>
<line x1="162.00" y1="509.88" x2="163.60" y2="509.88" stroke="#555" stroke-width="0.5"/>
<rect x="161.40" y="477.60" width="45.40" height="40.80" fill="none" stroke="#111" stroke-width="1.2"/>
<rect x="181.70" y="485.90" width="17.20" height="15.20" fill="none" stroke="#111" stroke-width="1.0"/>
<text x="182.00" y="484.90" font-size="9.0" font-weight="bold" fill="#111" stroke="#111" stroke-width="0.27">24.1</text>
<clipPath id="k2106_4770"><rect x="211.80" y="478.20" width="44.20" height="39.60"/></clipPath>
<g clip-path="url(#k2106_4770)">
<path d="M236.20 494.00 C240.51 494.00 241.95 497.42 241.95 503.00 C241.95 508.13 238.70 509.34 238.70 518.10 L233.70 518.10 C233.70 509.34 230.45 508.13 230.45 503.00 C230.45 497.42 231.89 494.00 236.20 494.00Z" fill="#ababab" stroke="#2e2e2e" stroke-width="0.6"/>
<path d="M236.20 495.80 C239.65 495.80 240.80 498.54 240.80 503.00 C240.80 506.70 238.20 507.57 238.20 513.88 L234.20 513.88 C234.20 507.57 231.60 506.70 231.60 503.00 C231.60 498.54 232.75 495.80 236.20 495.80Z" fill="#8e8e8e" stroke="#2e2e2e" stroke-width="0.55"/>
<path d="M236.20 497.13 C238.17 497.13 239.76 499.93 239.76 503.38 C239.76 506.83 238.17 509.63 236.20 509.63 C234.23 509.63 232.63 506.83 232.63 503.38 C232.63 499.93 234.23 497.13 236.20 497.13Z" fill="#7c7c7c" stroke="#2e2e2e" stroke-width="0.5"/>
<path d="M236.20 499.02 C237.63 499.02 238.79 501.05 238.79 503.55 C238.79 506.06 237.63 508.09 236.20 508.09 C234.77 508.09 233.61 506.06 233.61 503.55 C233.61 501.05 234.77 499.02 236.20 499.02Z" fill="#919191" stroke="#2e2e2e" stroke-width="0.5"/>
<path d="M236.20 500.79 C237.12 500.79 237.87 502.10 237.87 503.72 C237.87 505.33 237.12 506.64 236.20 506.64 C235.28 506.64 234.53 505.33 234.53 503.72 C234.53 502.10 235.28 500.79 236.20 500.79Z" fill="#666666" stroke="#2e2e2e" stroke-width="0.5"/>
<path d="M236.20 502.46 C236.64 502.46 237.00 503.09 237.00 503.87 C237.00 504.65 236.64 505.28 236.20 505.28 C235.76 505.28 235.39 504.65 235.39 503.87 C235.39 503.09 235.76 502.46 236.20 502.46Z" fill="#454545" stroke="#2e2e2e" stroke-width="0.5"/>
<path d="M232.10 518.10 L233.70 515.90 L238.70 515.90 L240.30 518.10Z" fill="#777" stroke="#2e2e2e" stroke-width="0.5"/>
</g>
<line x1="211.80" y1="486.12" x2="213.40" y2="486.12" stroke="#555" stroke-width="0.5"/>
<line x1="211.80" y1="494.04" x2="213.40" y2="494.04" stroke="#555" stroke-width="0.5"/>
<line x1="211.80" y1="501.96" x2="213.40" y2="501.96" stroke="#555" stroke-width="0.5"/>
<line x1="211.80" y1="509.88" x2="213.40" y2="509.88" stroke="#555" stroke-width="0.5"/>
<rect x="211.20" y="477.60" width="45.40" height="40.80" fill="none" stroke="#111" stroke-width="1.2"/>
<rect x="230.00" y="485.90" width="17.30" height="15.20" fill="none" stroke="#111" stroke-width="1.0"/>
<path d="M233.70 496.60 l3.2 1.6 l-3.2 1.6 Z" fill="#111"/>
<text x="231.00" y="484.90" font-size="9.0" font-weight="bold" fill="#111" stroke="#111" stroke-width="0.27">8.33</text>
<text x="9.20" y="499.30" font-size="8.6" font-weight="bold" fill="#111" stroke="#111" stroke-width="0.26" text-anchor="middle" transform="rotate(-90 9.20 499.30)">IFNγ</text>
<text x="15.80" y="528.10" font-size="8.8" font-weight="bold" fill="#111" stroke="#111" stroke-width="0.26">CD8</text>
<line x1="35.30" y1="525.00" x2="243.10" y2="525.00" stroke="#2a2a2a" stroke-width="1.0"/>
<path d="M248.50 525.00 L242.10 522.20 L242.10 527.80 Z" fill="#111"/>
<clipPath id="c578_5324"><rect x="59.00" y="533.60" width="44.40" height="38.80"/></clipPath>
<g clip-path="url(#c578_5324)">
<path d="M59.00 571.45 L59.83 570.87 L60.66 570.00 L61.50 568.78 L62.33 567.15 L63.16 565.11 L63.99 562.70 L64.83 560.04 L65.66 557.30 L66.49 554.65 L67.33 552.19 L67.88 550.67 L68.16 551.58 L68.99 554.52 L69.82 557.74 L70.66 561.05 L71.49 564.15 L72.32 566.77 L73.15 568.80 L73.98 570.23 L74.82 571.15 L75.65 571.70 L76.48 572.02 L77.31 572.18 L78.15 572.27 L78.98 572.32 L79.81 572.35 L80.64 572.37 L81.48 572.38 L82.31 572.38 L83.14 572.39 L83.97 572.39 L84.81 572.39 L85.64 572.40 L86.47 572.40 L87.30 572.40 L88.14 572.40 L88.97 572.40 L89.80 572.40 L90.63 572.40 L91.47 572.40 L92.30 572.40" fill="#ffffff" fill-opacity="0.6" stroke="#e6bcc9" stroke-width="0.8"/>
<path d="M59.00 572.01 L59.89 571.74 L60.78 571.30 L61.66 570.60 L62.55 569.57 L63.44 568.13 L64.33 566.27 L65.22 564.02 L66.10 561.50 L66.99 558.87 L67.88 556.31 L68.77 553.92 L69.21 552.78 L69.66 554.16 L70.54 557.11 L71.43 560.19 L72.32 562.96 L73.21 564.99 L74.10 566.09 L74.98 566.32 L75.87 565.93 L76.76 565.23 L77.65 564.43 L77.65 564.43 L78.54 565.54 L79.42 566.72 L80.31 567.94 L81.20 569.10 L82.09 570.11 L82.98 570.91 L83.86 571.49 L84.75 571.87 L85.64 572.10 L86.53 572.24 L87.42 572.31 L88.30 572.35 L89.19 572.37 L90.08 572.38 L90.97 572.39 L91.86 572.39 L92.74 572.39 L93.63 572.40 L94.52 572.40 L94.52 572.40 L59.00 572.40 Z" fill="#f3bdd0" fill-opacity="0.92" stroke="#de8aaa" stroke-width="0.7"/>
</g>
<line x1="59.00" y1="541.36" x2="60.60" y2="541.36" stroke="#555" stroke-width="0.5"/>
<line x1="59.00" y1="549.12" x2="60.60" y2="549.12" stroke="#555" stroke-width="0.5"/>
<line x1="59.00" y1="556.88" x2="60.60" y2="556.88" stroke="#555" stroke-width="0.5"/>
<line x1="59.00" y1="564.64" x2="60.60" y2="564.64" stroke="#555" stroke-width="0.5"/>
<line x1="67.88" y1="572.40" x2="67.88" y2="571.20" stroke="#777" stroke-width="0.4"/>
<line x1="76.76" y1="572.40" x2="76.76" y2="571.20" stroke="#777" stroke-width="0.4"/>
<line x1="85.64" y1="572.40" x2="85.64" y2="571.20" stroke="#777" stroke-width="0.4"/>
<line x1="94.52" y1="572.40" x2="94.52" y2="571.20" stroke="#777" stroke-width="0.4"/>
<rect x="58.40" y="533.00" width="45.60" height="40.00" fill="none" stroke="#111" stroke-width="1.2"/>
<line x1="71.80" y1="557.30" x2="88.60" y2="557.30" stroke="#666" stroke-width="0.7"/>
<line x1="71.80" y1="556.30" x2="71.80" y2="558.30" stroke="#666" stroke-width="0.5"/>
<line x1="88.60" y1="556.30" x2="88.60" y2="558.30" stroke="#666" stroke-width="0.5"/>
<text x="73.60" y="555.40" font-size="9.0" font-weight="bold" fill="#111" stroke="#111" stroke-width="0.27">23.1</text>
<clipPath id="c1076_5324"><rect x="108.80" y="533.60" width="43.80" height="38.80"/></clipPath>
<g clip-path="url(#c1076_5324)">
<path d="M108.80 571.45 L109.62 570.87 L110.44 570.00 L111.26 568.78 L112.09 567.15 L112.91 565.11 L113.73 562.70 L114.55 560.04 L115.37 557.30 L116.19 554.65 L117.01 552.19 L117.56 550.67 L117.83 551.58 L118.66 554.52 L119.48 557.74 L120.30 561.05 L121.12 564.15 L121.94 566.77 L122.76 568.80 L123.58 570.23 L124.40 571.15 L125.23 571.70 L126.05 572.02 L126.87 572.18 L127.69 572.27 L128.51 572.32 L129.33 572.35 L130.15 572.37 L130.97 572.38 L131.80 572.38 L132.62 572.39 L133.44 572.39 L134.26 572.39 L135.08 572.40 L135.90 572.40 L136.72 572.40 L137.54 572.40 L138.37 572.40 L139.19 572.40 L140.01 572.40 L140.83 572.40 L141.65 572.40" fill="#ffffff" fill-opacity="0.6" stroke="#e6bcc9" stroke-width="0.8"/>
<path d="M108.80 571.89 L109.68 571.54 L110.55 570.98 L111.43 570.13 L112.30 568.90 L113.18 567.25 L114.06 565.18 L114.93 562.77 L115.81 560.15 L116.68 557.51 L117.56 554.98 L118.44 552.58 L118.44 552.58 L119.31 555.27 L120.19 558.17 L121.06 560.99 L121.94 563.31 L122.82 564.87 L123.69 565.65 L124.57 565.81 L125.44 565.59 L125.44 565.59 L126.32 566.71 L127.20 567.75 L128.07 568.78 L128.95 569.73 L129.82 570.55 L130.70 571.20 L131.58 571.66 L132.45 571.97 L133.33 572.16 L134.20 572.27 L135.08 572.33 L135.96 572.36 L136.83 572.37 L137.71 572.38 L138.58 572.39 L139.46 572.39 L140.34 572.39 L141.21 572.40 L142.09 572.40 L142.96 572.40 L143.84 572.40 L143.84 572.40 L108.80 572.40 Z" fill="#f3bdd0" fill-opacity="0.92" stroke="#de8aaa" stroke-width="0.7"/>
</g>
<line x1="108.80" y1="541.36" x2="110.40" y2="541.36" stroke="#555" stroke-width="0.5"/>
<line x1="108.80" y1="549.12" x2="110.40" y2="549.12" stroke="#555" stroke-width="0.5"/>
<line x1="108.80" y1="556.88" x2="110.40" y2="556.88" stroke="#555" stroke-width="0.5"/>
<line x1="108.80" y1="564.64" x2="110.40" y2="564.64" stroke="#555" stroke-width="0.5"/>
<line x1="117.56" y1="572.40" x2="117.56" y2="571.20" stroke="#777" stroke-width="0.4"/>
<line x1="126.32" y1="572.40" x2="126.32" y2="571.20" stroke="#777" stroke-width="0.4"/>
<line x1="135.08" y1="572.40" x2="135.08" y2="571.20" stroke="#777" stroke-width="0.4"/>
<line x1="143.84" y1="572.40" x2="143.84" y2="571.20" stroke="#777" stroke-width="0.4"/>
<rect x="108.20" y="533.00" width="45.00" height="40.00" fill="none" stroke="#111" stroke-width="1.2"/>
<line x1="119.50" y1="557.30" x2="135.00" y2="557.30" stroke="#666" stroke-width="0.7"/>
<line x1="119.50" y1="556.30" x2="119.50" y2="558.30" stroke="#666" stroke-width="0.5"/>
<line x1="135.00" y1="556.30" x2="135.00" y2="558.30" stroke="#666" stroke-width="0.5"/>
<text x="121.00" y="555.40" font-size="9.0" font-weight="bold" fill="#111" stroke="#111" stroke-width="0.27">22.6</text>
<clipPath id="c1602_5324"><rect x="161.40" y="533.60" width="44.80" height="38.80"/></clipPath>
<g clip-path="url(#c1602_5324)">
<path d="M161.40 571.92 L162.24 571.56 L163.08 570.97 L163.92 570.06 L164.76 568.76 L165.60 567.02 L166.44 564.89 L167.28 562.50 L168.12 560.05 L168.96 557.71 L169.80 555.60 L169.91 555.33 L170.64 557.24 L171.48 559.68 L172.32 562.28 L173.16 564.82 L174.00 567.07 L174.84 568.89 L175.68 570.22 L176.52 571.12 L177.36 571.68 L178.20 572.00 L179.04 572.18 L179.88 572.27 L180.72 572.32 L181.56 572.35 L182.40 572.37 L183.24 572.38 L184.08 572.38 L184.92 572.39 L185.76 572.39 L186.60 572.39 L187.44 572.40 L188.28 572.40 L189.12 572.40 L189.96 572.40 L190.80 572.40 L191.64 572.40 L192.48 572.40 L193.32 572.40 L194.16 572.40 L195.00 572.40" fill="#ffffff" fill-opacity="0.6" stroke="#e6bcc9" stroke-width="0.8"/>
<path d="M161.40 572.03 L162.30 571.72 L163.19 571.19 L164.09 570.31 L164.98 568.99 L165.88 567.16 L166.78 564.86 L167.67 562.21 L168.57 559.46 L169.46 556.83 L170.36 554.43 L170.36 554.43 L171.26 557.07 L172.15 559.94 L173.05 562.78 L173.94 565.16 L174.84 566.81 L175.74 567.71 L176.63 568.02 L177.53 567.97 L177.53 567.97 L178.42 568.84 L179.32 569.65 L180.22 570.40 L181.11 571.06 L182.01 571.57 L182.90 571.93 L183.80 572.15 L184.70 572.27 L185.59 572.33 L186.49 572.37 L187.38 572.38 L188.28 572.39 L189.18 572.39 L190.07 572.40 L190.97 572.40 L191.86 572.40 L192.76 572.40 L193.66 572.40 L194.55 572.40 L195.45 572.40 L196.34 572.40 L197.24 572.40 L197.24 572.40 L161.40 572.40 Z" fill="#f3bdd0" fill-opacity="0.92" stroke="#de8aaa" stroke-width="0.7"/>
</g>
<line x1="161.40" y1="541.36" x2="163.00" y2="541.36" stroke="#555" stroke-width="0.5"/>
<line x1="161.40" y1="549.12" x2="163.00" y2="549.12" stroke="#555" stroke-width="0.5"/>
<line x1="161.40" y1="556.88" x2="163.00" y2="556.88" stroke="#555" stroke-width="0.5"/>
<line x1="161.40" y1="564.64" x2="163.00" y2="564.64" stroke="#555" stroke-width="0.5"/>
<line x1="170.36" y1="572.40" x2="170.36" y2="571.20" stroke="#777" stroke-width="0.4"/>
<line x1="179.32" y1="572.40" x2="179.32" y2="571.20" stroke="#777" stroke-width="0.4"/>
<line x1="188.28" y1="572.40" x2="188.28" y2="571.20" stroke="#777" stroke-width="0.4"/>
<line x1="197.24" y1="572.40" x2="197.24" y2="571.20" stroke="#777" stroke-width="0.4"/>
<rect x="160.80" y="533.00" width="46.00" height="40.00" fill="none" stroke="#111" stroke-width="1.2"/>
<line x1="174.50" y1="557.30" x2="189.00" y2="557.30" stroke="#666" stroke-width="0.7"/>
<line x1="174.50" y1="556.30" x2="174.50" y2="558.30" stroke="#666" stroke-width="0.5"/>
<line x1="189.00" y1="556.30" x2="189.00" y2="558.30" stroke="#666" stroke-width="0.5"/>
<text x="175.60" y="555.40" font-size="9.0" font-weight="bold" fill="#111" stroke="#111" stroke-width="0.27">15.5</text>
<clipPath id="c2120_5324"><rect x="213.20" y="533.60" width="44.00" height="38.80"/></clipPath>
<g clip-path="url(#c2120_5324)">
<path d="M213.20 571.69 L214.02 571.18 L214.85 570.36 L215.67 569.15 L216.50 567.47 L217.32 565.34 L218.15 562.84 L218.97 560.17 L219.80 557.54 L220.62 555.12 L221.12 553.78 L221.45 554.72 L222.27 557.25 L223.10 560.03 L223.92 562.86 L224.75 565.49 L225.57 567.71 L226.40 569.41 L227.22 570.60 L228.05 571.37 L228.88 571.83 L229.70 572.08 L230.52 572.22 L231.35 572.30 L232.17 572.34 L233.00 572.36 L233.82 572.37 L234.65 572.38 L235.47 572.39 L236.30 572.39 L237.12 572.39 L237.95 572.40 L238.77 572.40 L239.60 572.40 L240.42 572.40 L241.25 572.40 L242.07 572.40 L242.90 572.40 L243.72 572.40 L244.55 572.40 L245.38 572.40 L246.20 572.40" fill="#ffffff" fill-opacity="0.6" stroke="#e6bcc9" stroke-width="0.8"/>
<path d="M213.20 571.83 L214.08 571.37 L214.96 570.59 L215.84 569.37 L216.72 567.59 L217.60 565.25 L218.48 562.42 L219.36 559.35 L220.24 556.30 L221.12 553.51 L221.56 552.22 L222.00 553.73 L222.88 557.05 L223.76 560.64 L224.64 564.12 L225.52 567.06 L226.40 569.24 L227.28 570.68 L228.16 571.51 L229.04 571.96 L229.92 572.18 L230.80 572.28 L231.68 572.33 L232.56 572.36 L233.44 572.37 L234.32 572.38 L235.20 572.39 L236.08 572.39 L236.96 572.40 L237.84 572.40 L238.72 572.40 L239.60 572.40 L240.48 572.40 L241.36 572.40 L242.24 572.40 L243.12 572.40 L244.00 572.40 L244.88 572.40 L245.76 572.40 L246.64 572.40 L247.52 572.40 L248.40 572.40 L248.40 572.40 L213.20 572.40 Z" fill="#f3bdd0" fill-opacity="0.92" stroke="#de8aaa" stroke-width="0.7"/>
</g>
<line x1="213.20" y1="541.36" x2="214.80" y2="541.36" stroke="#555" stroke-width="0.5"/>
<line x1="213.20" y1="549.12" x2="214.80" y2="549.12" stroke="#555" stroke-width="0.5"/>
<line x1="213.20" y1="556.88" x2="214.80" y2="556.88" stroke="#555" stroke-width="0.5"/>
<line x1="213.20" y1="564.64" x2="214.80" y2="564.64" stroke="#555" stroke-width="0.5"/>
<line x1="222.00" y1="572.40" x2="222.00" y2="571.20" stroke="#777" stroke-width="0.4"/>
<line x1="230.80" y1="572.40" x2="230.80" y2="571.20" stroke="#777" stroke-width="0.4"/>
<line x1="239.60" y1="572.40" x2="239.60" y2="571.20" stroke="#777" stroke-width="0.4"/>
<line x1="248.40" y1="572.40" x2="248.40" y2="571.20" stroke="#777" stroke-width="0.4"/>
<rect x="212.60" y="533.00" width="45.20" height="40.00" fill="none" stroke="#111" stroke-width="1.2"/>
<line x1="226.50" y1="557.30" x2="241.00" y2="557.30" stroke="#666" stroke-width="0.7"/>
<line x1="226.50" y1="556.30" x2="226.50" y2="558.30" stroke="#666" stroke-width="0.5"/>
<line x1="241.00" y1="556.30" x2="241.00" y2="558.30" stroke="#666" stroke-width="0.5"/>
<text x="227.60" y="555.40" font-size="9.0" font-weight="bold" fill="#111" stroke="#111" stroke-width="0.27">4.39</text>
<text x="56.00" y="551.80" font-size="9" font-weight="bold" fill="#111" stroke="#111" stroke-width="0.27" text-anchor="middle" transform="rotate(-90 56.00 551.80)">CD8</text>
<clipPath id="c578_5916"><rect x="59.00" y="592.80" width="44.40" height="40.20"/></clipPath>
<g clip-path="url(#c578_5916)">
<path d="M59.00 632.79 L59.83 632.64 L60.66 632.36 L61.50 631.87 L62.33 631.01 L63.16 629.64 L63.99 627.60 L64.83 624.80 L65.66 621.25 L66.49 617.17 L67.33 612.89 L68.16 608.75 L68.99 605.00 L69.21 604.06 L69.82 608.23 L70.66 614.65 L71.49 621.09 L72.32 626.31 L73.15 629.73 L73.98 631.57 L74.82 632.41 L75.65 632.75 L76.48 632.88 L77.31 632.94 L78.15 632.97 L78.98 632.98 L79.81 632.99 L80.64 632.99 L81.48 633.00 L82.31 633.00 L83.14 633.00 L83.97 633.00 L84.81 633.00 L85.64 633.00 L86.47 633.00 L87.30 633.00 L88.14 633.00 L88.97 633.00 L89.80 633.00 L90.63 633.00 L91.47 633.00 L92.30 633.00" fill="#ffffff" fill-opacity="0.6" stroke="#b9d3d4" stroke-width="0.8"/>
<path d="M59.00 632.93 L59.89 632.90 L60.78 632.84 L61.66 632.72 L62.55 632.51 L63.44 632.09 L64.33 631.32 L65.22 629.97 L66.10 627.78 L66.99 624.52 L67.88 620.11 L68.77 614.70 L69.66 608.72 L70.54 602.78 L71.43 597.32 L71.88 594.81 L72.32 599.16 L73.21 609.03 L74.10 618.83 L74.98 626.13 L75.87 630.22 L76.76 632.00 L77.65 632.64 L78.54 632.85 L79.42 632.93 L80.31 632.96 L81.20 632.98 L82.09 632.99 L82.98 632.99 L83.86 633.00 L84.75 633.00 L85.64 633.00 L86.53 633.00 L87.42 633.00 L88.30 633.00 L89.19 633.00 L90.08 633.00 L90.97 633.00 L91.86 633.00 L92.74 633.00 L93.63 633.00 L94.52 633.00 L94.52 633.00 L59.00 633.00 Z" fill="#b3dedf" fill-opacity="0.92" stroke="#6ebdc1" stroke-width="0.7"/>
</g>
<line x1="59.00" y1="600.84" x2="60.60" y2="600.84" stroke="#555" stroke-width="0.5"/>
<line x1="59.00" y1="608.88" x2="60.60" y2="608.88" stroke="#555" stroke-width="0.5"/>
<line x1="59.00" y1="616.92" x2="60.60" y2="616.92" stroke="#555" stroke-width="0.5"/>
<line x1="59.00" y1="624.96" x2="60.60" y2="624.96" stroke="#555" stroke-width="0.5"/>
<line x1="67.88" y1="633.00" x2="67.88" y2="631.80" stroke="#777" stroke-width="0.4"/>
<line x1="76.76" y1="633.00" x2="76.76" y2="631.80" stroke="#777" stroke-width="0.4"/>
<line x1="85.64" y1="633.00" x2="85.64" y2="631.80" stroke="#777" stroke-width="0.4"/>
<line x1="94.52" y1="633.00" x2="94.52" y2="631.80" stroke="#777" stroke-width="0.4"/>
<rect x="58.40" y="592.20" width="45.60" height="41.40" fill="none" stroke="#111" stroke-width="1.2"/>
<line x1="73.50" y1="616.20" x2="86.50" y2="616.20" stroke="#666" stroke-width="0.7"/>
<line x1="73.50" y1="615.20" x2="73.50" y2="617.20" stroke="#666" stroke-width="0.5"/>
<line x1="86.50" y1="615.20" x2="86.50" y2="617.20" stroke="#666" stroke-width="0.5"/>
<text x="76.40" y="614.20" font-size="9.0" font-weight="bold" fill="#111" stroke="#111" stroke-width="0.27">15.5</text>
<clipPath id="c1076_5916"><rect x="108.80" y="592.80" width="43.80" height="40.20"/></clipPath>
<g clip-path="url(#c1076_5916)">
<path d="M108.80 632.79 L109.62 632.64 L110.44 632.36 L111.26 631.87 L112.09 631.01 L112.91 629.64 L113.73 627.60 L114.55 624.80 L115.37 621.25 L116.19 617.17 L117.01 612.89 L117.83 608.75 L118.66 605.00 L118.87 604.06 L119.48 608.23 L120.30 614.65 L121.12 621.09 L121.94 626.31 L122.76 629.73 L123.58 631.57 L124.40 632.41 L125.23 632.75 L126.05 632.88 L126.87 632.94 L127.69 632.97 L128.51 632.98 L129.33 632.99 L130.15 632.99 L130.97 633.00 L131.80 633.00 L132.62 633.00 L133.44 633.00 L134.26 633.00 L135.08 633.00 L135.90 633.00 L136.72 633.00 L137.54 633.00 L138.37 633.00 L139.19 633.00 L140.01 633.00 L140.83 633.00 L141.65 633.00" fill="#ffffff" fill-opacity="0.6" stroke="#b9d3d4" stroke-width="0.8"/>
<path d="M108.80 632.93 L109.68 632.90 L110.55 632.84 L111.43 632.72 L112.30 632.51 L113.18 632.09 L114.06 631.32 L114.93 629.97 L115.81 627.78 L116.68 624.52 L117.56 620.11 L118.44 614.70 L119.31 608.72 L120.19 602.78 L121.06 597.32 L121.50 594.81 L121.94 599.16 L122.82 609.03 L123.69 618.83 L124.57 626.13 L125.44 630.22 L126.32 632.00 L127.20 632.64 L128.07 632.85 L128.95 632.93 L129.82 632.96 L130.70 632.98 L131.58 632.99 L132.45 632.99 L133.33 633.00 L134.20 633.00 L135.08 633.00 L135.96 633.00 L136.83 633.00 L137.71 633.00 L138.58 633.00 L139.46 633.00 L140.34 633.00 L141.21 633.00 L142.09 633.00 L142.96 633.00 L143.84 633.00 L143.84 633.00 L108.80 633.00 Z" fill="#b3dedf" fill-opacity="0.92" stroke="#6ebdc1" stroke-width="0.7"/>
</g>
<line x1="108.80" y1="600.84" x2="110.40" y2="600.84" stroke="#555" stroke-width="0.5"/>
<line x1="108.80" y1="608.88" x2="110.40" y2="608.88" stroke="#555" stroke-width="0.5"/>
<line x1="108.80" y1="616.92" x2="110.40" y2="616.92" stroke="#555" stroke-width="0.5"/>
<line x1="108.80" y1="624.96" x2="110.40" y2="624.96" stroke="#555" stroke-width="0.5"/>
<line x1="117.56" y1="633.00" x2="117.56" y2="631.80" stroke="#777" stroke-width="0.4"/>
<line x1="126.32" y1="633.00" x2="126.32" y2="631.80" stroke="#777" stroke-width="0.4"/>
<line x1="135.08" y1="633.00" x2="135.08" y2="631.80" stroke="#777" stroke-width="0.4"/>
<line x1="143.84" y1="633.00" x2="143.84" y2="631.80" stroke="#777" stroke-width="0.4"/>
<rect x="108.20" y="592.20" width="45.00" height="41.40" fill="none" stroke="#111" stroke-width="1.2"/>
<line x1="120.50" y1="616.20" x2="133.50" y2="616.20" stroke="#666" stroke-width="0.7"/>
<line x1="120.50" y1="615.20" x2="120.50" y2="617.20" stroke="#666" stroke-width="0.5"/>
<line x1="133.50" y1="615.20" x2="133.50" y2="617.20" stroke="#666" stroke-width="0.5"/>
<text x="122.40" y="614.20" font-size="9.0" font-weight="bold" fill="#111" stroke="#111" stroke-width="0.27">16.4</text>
<clipPath id="c1602_5916"><rect x="161.40" y="592.80" width="44.80" height="40.20"/></clipPath>
<g clip-path="url(#c1602_5916)">
<path d="M161.40 632.63 L162.24 632.34 L163.08 631.82 L163.92 630.94 L164.76 629.53 L165.60 627.44 L166.44 624.58 L167.28 621.00 L168.12 616.89 L168.96 612.60 L169.80 608.49 L170.64 604.76 L170.81 604.06 L171.48 608.63 L172.32 615.10 L173.16 621.49 L174.00 626.59 L174.84 629.89 L175.68 631.65 L176.52 632.45 L177.36 632.77 L178.20 632.89 L179.04 632.94 L179.88 632.97 L180.72 632.98 L181.56 632.99 L182.40 632.99 L183.24 633.00 L184.08 633.00 L184.92 633.00 L185.76 633.00 L186.60 633.00 L187.44 633.00 L188.28 633.00 L189.12 633.00 L189.96 633.00 L190.80 633.00 L191.64 633.00 L192.48 633.00 L193.32 633.00 L194.16 633.00 L195.00 633.00" fill="#ffffff" fill-opacity="0.6" stroke="#b9d3d4" stroke-width="0.8"/>
<path d="M161.40 632.90 L162.30 632.84 L163.19 632.72 L164.09 632.51 L164.98 632.09 L165.88 631.32 L166.78 629.97 L167.67 627.78 L168.57 624.52 L169.46 620.11 L170.36 614.70 L171.26 608.72 L172.15 602.78 L173.05 597.32 L173.50 594.81 L173.94 599.16 L174.84 609.03 L175.74 618.83 L176.63 626.13 L177.53 630.22 L178.42 632.00 L179.32 632.64 L180.22 632.85 L181.11 632.93 L182.01 632.96 L182.90 632.98 L183.80 632.99 L184.70 632.99 L185.59 633.00 L186.49 633.00 L187.38 633.00 L188.28 633.00 L189.18 633.00 L190.07 633.00 L190.97 633.00 L191.86 633.00 L192.76 633.00 L193.66 633.00 L194.55 633.00 L195.45 633.00 L196.34 633.00 L197.24 633.00 L197.24 633.00 L161.40 633.00 Z" fill="#b3dedf" fill-opacity="0.92" stroke="#6ebdc1" stroke-width="0.7"/>
</g>
<line x1="161.40" y1="600.84" x2="163.00" y2="600.84" stroke="#555" stroke-width="0.5"/>
<line x1="161.40" y1="608.88" x2="163.00" y2="608.88" stroke="#555" stroke-width="0.5"/>
<line x1="161.40" y1="616.92" x2="163.00" y2="616.92" stroke="#555" stroke-width="0.5"/>
<line x1="161.40" y1="624.96" x2="163.00" y2="624.96" stroke="#555" stroke-width="0.5"/>
<line x1="170.36" y1="633.00" x2="170.36" y2="631.80" stroke="#777" stroke-width="0.4"/>
<line x1="179.32" y1="633.00" x2="179.32" y2="631.80" stroke="#777" stroke-width="0.4"/>
<line x1="188.28" y1="633.00" x2="188.28" y2="631.80" stroke="#777" stroke-width="0.4"/>
<line x1="197.24" y1="633.00" x2="197.24" y2="631.80" stroke="#777" stroke-width="0.4"/>
<rect x="160.80" y="592.20" width="46.00" height="41.40" fill="none" stroke="#111" stroke-width="1.2"/>
<line x1="175.50" y1="616.20" x2="188.50" y2="616.20" stroke="#666" stroke-width="0.7"/>
<line x1="175.50" y1="615.20" x2="175.50" y2="617.20" stroke="#666" stroke-width="0.5"/>
<line x1="188.50" y1="615.20" x2="188.50" y2="617.20" stroke="#666" stroke-width="0.5"/>
<text x="177.20" y="614.20" font-size="9.0" font-weight="bold" fill="#111" stroke="#111" stroke-width="0.27">14.1</text>
<clipPath id="c2120_5916"><rect x="213.20" y="592.80" width="44.00" height="40.20"/></clipPath>
<g clip-path="url(#c2120_5916)">
<path d="M213.20 632.83 L214.02 632.71 L214.85 632.46 L215.67 631.97 L216.50 631.09 L217.32 629.58 L218.15 627.21 L218.97 623.85 L219.80 619.55 L220.62 614.61 L221.45 609.54 L222.27 604.80 L222.88 601.64 L223.10 603.23 L223.92 609.79 L224.75 616.94 L225.57 623.34 L226.40 627.97 L227.22 630.69 L228.05 632.03 L228.88 632.60 L229.70 632.82 L230.52 632.91 L231.35 632.95 L232.17 632.97 L233.00 632.98 L233.82 632.99 L234.65 632.99 L235.47 633.00 L236.30 633.00 L237.12 633.00 L237.95 633.00 L238.77 633.00 L239.60 633.00 L240.42 633.00 L241.25 633.00 L242.07 633.00 L242.90 633.00 L243.72 633.00 L244.55 633.00 L245.38 633.00 L246.20 633.00" fill="#ffffff" fill-opacity="0.6" stroke="#b9d3d4" stroke-width="0.8"/>
<path d="M213.20 632.91 L214.08 632.85 L214.96 632.73 L215.84 632.48 L216.72 631.99 L217.60 631.02 L218.48 629.27 L219.36 626.40 L220.24 622.17 L221.12 616.62 L222.00 610.19 L222.88 603.62 L223.76 597.57 L224.20 594.81 L224.64 599.16 L225.52 609.03 L226.40 618.83 L227.28 626.13 L228.16 630.22 L229.04 632.00 L229.92 632.64 L230.80 632.85 L231.68 632.93 L232.56 632.96 L233.44 632.98 L234.32 632.99 L235.20 632.99 L236.08 633.00 L236.96 633.00 L237.84 633.00 L238.72 633.00 L239.60 633.00 L240.48 633.00 L241.36 633.00 L242.24 633.00 L243.12 633.00 L244.00 633.00 L244.88 633.00 L245.76 633.00 L246.64 633.00 L247.52 633.00 L248.40 633.00 L248.40 633.00 L213.20 633.00 Z" fill="#b3dedf" fill-opacity="0.92" stroke="#6ebdc1" stroke-width="0.7"/>
</g>
<line x1="213.20" y1="600.84" x2="214.80" y2="600.84" stroke="#555" stroke-width="0.5"/>
<line x1="213.20" y1="608.88" x2="214.80" y2="608.88" stroke="#555" stroke-width="0.5"/>
<line x1="213.20" y1="616.92" x2="214.80" y2="616.92" stroke="#555" stroke-width="0.5"/>
<line x1="213.20" y1="624.96" x2="214.80" y2="624.96" stroke="#555" stroke-width="0.5"/>
<line x1="222.00" y1="633.00" x2="222.00" y2="631.80" stroke="#777" stroke-width="0.4"/>
<line x1="230.80" y1="633.00" x2="230.80" y2="631.80" stroke="#777" stroke-width="0.4"/>
<line x1="239.60" y1="633.00" x2="239.60" y2="631.80" stroke="#777" stroke-width="0.4"/>
<line x1="248.40" y1="633.00" x2="248.40" y2="631.80" stroke="#777" stroke-width="0.4"/>
<rect x="212.60" y="592.20" width="45.20" height="41.40" fill="none" stroke="#111" stroke-width="1.2"/>
<line x1="228.00" y1="616.20" x2="241.00" y2="616.20" stroke="#666" stroke-width="0.7"/>
<line x1="228.00" y1="615.20" x2="228.00" y2="617.20" stroke="#666" stroke-width="0.5"/>
<line x1="241.00" y1="615.20" x2="241.00" y2="617.20" stroke="#666" stroke-width="0.5"/>
<text x="228.20" y="614.20" font-size="9.0" font-weight="bold" fill="#111" stroke="#111" stroke-width="0.27">6.72</text>
<text x="56.00" y="611.40" font-size="9" font-weight="bold" fill="#111" stroke="#111" stroke-width="0.27" text-anchor="middle" transform="rotate(-90 56.00 611.40)">CD8</text>
<text x="57.60" y="583.30" font-size="8.7" font-weight="bold" fill="#111" stroke="#111" stroke-width="0.26">CXCR3</text>
<line x1="92.00" y1="581.00" x2="249.10" y2="581.00" stroke="#2a2a2a" stroke-width="1.0"/>
<path d="M254.50 581.00 L248.10 578.20 L248.10 583.80 Z" fill="#111"/>
<text x="58.40" y="643.60" font-size="8.8" font-weight="bold" fill="#111" stroke="#111" stroke-width="0.26">CCR5</text>
<line x1="88.00" y1="640.20" x2="245.60" y2="640.20" stroke="#2a2a2a" stroke-width="1.0"/>
<path d="M251.00 640.20 L244.60 637.40 L244.60 643.00 Z" fill="#111"/>
<text x="273.80" y="499.20" font-size="9.0" font-weight="normal" fill="#111" stroke="#111" stroke-width="0.27" text-anchor="middle" transform="rotate(-90 273.80 499.20)">%IFNγ<tspan dy="-2.70" font-size="5.76">+</tspan></text>
<line x1="305.40" y1="481.43" x2="305.40" y2="470.38" stroke="#1a1a1a" stroke-width="1.2"/>
<line x1="303.00" y1="470.38" x2="307.80" y2="470.38" stroke="#1a1a1a" stroke-width="1.2"/>
<rect x="299.10" y="481.93" width="12.60" height="46.27" fill="#ffffff" stroke="#1c1c1c" stroke-width="1.0"/>
<line x1="327.80" y1="480.14" x2="327.80" y2="468.32" stroke="#1a1a1a" stroke-width="1.2"/>
<line x1="325.40" y1="468.32" x2="330.20" y2="468.32" stroke="#1a1a1a" stroke-width="1.2"/>
<rect x="321.50" y="480.64" width="12.60" height="47.56" fill="#aaaaaa" stroke="#1c1c1c" stroke-width="1.0"/>
<text x="328.40" y="465.40" font-size="7.8" font-weight="bold" fill="#111" stroke="#111" stroke-width="0.23" text-anchor="middle" font-style="italic">NS</text>
<line x1="349.95" y1="497.62" x2="349.95" y2="489.39" stroke="#1a1a1a" stroke-width="1.2"/>
<line x1="347.55" y1="489.39" x2="352.35" y2="489.39" stroke="#1a1a1a" stroke-width="1.2"/>
<rect x="343.35" y="497.97" width="13.20" height="30.23" fill="#273d74" stroke="#15244a" stroke-width="0.7"/>
<text x="349.95" y="489.97" font-size="7.6" font-weight="bold" fill="#111" stroke="#111" stroke-width="0.15" text-anchor="middle">*</text>
<line x1="371.70" y1="519.46" x2="371.70" y2="515.48" stroke="#1a1a1a" stroke-width="1.2"/>
<line x1="369.30" y1="515.48" x2="374.10" y2="515.48" stroke="#1a1a1a" stroke-width="1.2"/>
<rect x="364.95" y="519.81" width="13.50" height="8.39" fill="#ee3d2c" stroke="#ae2a1c" stroke-width="0.7"/>
<text x="371.70" y="516.06" font-size="7.6" font-weight="bold" fill="#111" stroke="#111" stroke-width="0.15" text-anchor="middle">***</text>
<line x1="294.80" y1="462.00" x2="294.80" y2="528.85" stroke="#111" stroke-width="1.3"/>
<line x1="294.15" y1="528.20" x2="382.50" y2="528.20" stroke="#111" stroke-width="1.3"/>
<line x1="292.20" y1="528.20" x2="294.80" y2="528.20" stroke="#111" stroke-width="1.0"/>
<text x="288.60" y="531.20" font-size="7.5" font-weight="bold" fill="#111" stroke="#111" stroke-width="0.22" text-anchor="end">0</text>
<line x1="292.20" y1="515.35" x2="294.80" y2="515.35" stroke="#111" stroke-width="1.0"/>
<text x="288.60" y="518.35" font-size="7.5" font-weight="bold" fill="#111" stroke="#111" stroke-width="0.22" text-anchor="end">10</text>
<line x1="292.20" y1="502.50" x2="294.80" y2="502.50" stroke="#111" stroke-width="1.0"/>
<text x="288.60" y="505.50" font-size="7.5" font-weight="bold" fill="#111" stroke="#111" stroke-width="0.22" text-anchor="end">20</text>
<line x1="292.20" y1="489.65" x2="294.80" y2="489.65" stroke="#111" stroke-width="1.0"/>
<text x="288.60" y="492.65" font-size="7.5" font-weight="bold" fill="#111" stroke="#111" stroke-width="0.22" text-anchor="end">30</text>
<line x1="292.20" y1="476.80" x2="294.80" y2="476.80" stroke="#111" stroke-width="1.0"/>
<text x="288.60" y="479.80" font-size="7.5" font-weight="bold" fill="#111" stroke="#111" stroke-width="0.22" text-anchor="end">40</text>
<line x1="292.20" y1="463.95" x2="294.80" y2="463.95" stroke="#111" stroke-width="1.0"/>
<text x="288.60" y="466.95" font-size="7.5" font-weight="bold" fill="#111" stroke="#111" stroke-width="0.22" text-anchor="end">50</text>
<line x1="351.00" y1="483.80" x2="371.50" y2="483.80" stroke="#999" stroke-width="0.7" stroke-dasharray="1.4 1"/>
<text x="361.00" y="483.70" font-size="7.6" font-weight="bold" fill="#111" stroke="#111" stroke-width="0.15" text-anchor="middle">**</text>
<text x="290.30" y="537.40" font-size="8.6" font-weight="bold" fill="#111" stroke="#111" stroke-width="0.26" textLength="16.00" lengthAdjust="spacingAndGlyphs">Rβ2</text>
<text x="306.30" y="535.00" font-size="6.4" font-weight="bold" fill="#111" stroke="#111" stroke-width="0.19">+</text>
<text x="341.90" y="537.40" font-size="8.6" font-weight="bold" fill="#111" stroke="#111" stroke-width="0.26" textLength="16.00" lengthAdjust="spacingAndGlyphs">Rβ2</text>
<text x="357.90" y="535.00" font-size="6.4" font-weight="bold" fill="#111" stroke="#111" stroke-width="0.19">+</text>
<text x="310.00" y="537.40" font-size="8.6" font-weight="bold" fill="#111" stroke="#111" stroke-width="0.26" textLength="26.00" lengthAdjust="spacingAndGlyphs">gp130</text>
<text x="335.90" y="535.00" font-size="6.4" font-weight="bold" fill="#111" stroke="#111" stroke-width="0.19">+</text>
<text x="361.80" y="537.40" font-size="8.6" font-weight="bold" fill="#111" stroke="#111" stroke-width="0.26" textLength="26.00" lengthAdjust="spacingAndGlyphs">gp130</text>
<text x="387.70" y="535.00" font-size="6.4" font-weight="bold" fill="#111" stroke="#111" stroke-width="0.19">+</text>
<line x1="296.60" y1="540.30" x2="334.70" y2="540.30" stroke="#333" stroke-width="0.7"/>
<line x1="339.60" y1="540.30" x2="378.10" y2="540.30" stroke="#333" stroke-width="0.7"/>
<text x="313.90" y="548.80" font-size="8.8" font-weight="bold" fill="#111" stroke="#111" stroke-width="0.26" text-anchor="middle">OVA</text>
<text x="362.00" y="548.80" font-size="8.8" font-weight="bold" fill="#111" stroke="#111" stroke-width="0.26" text-anchor="middle">OVA+rIL35</text>
<line x1="434.40" y1="491.30" x2="434.40" y2="480.07" stroke="#1a1a1a" stroke-width="1.2"/>
<line x1="432.00" y1="480.07" x2="436.80" y2="480.07" stroke="#1a1a1a" stroke-width="1.2"/>
<rect x="428.00" y="491.80" width="12.80" height="40.20" fill="#ffffff" stroke="#1c1c1c" stroke-width="1.0"/>
<line x1="456.90" y1="490.12" x2="456.90" y2="476.73" stroke="#1a1a1a" stroke-width="1.2"/>
<line x1="454.50" y1="476.73" x2="459.30" y2="476.73" stroke="#1a1a1a" stroke-width="1.2"/>
<rect x="450.50" y="490.62" width="12.80" height="41.38" fill="#aaaaaa" stroke="#1c1c1c" stroke-width="1.0"/>
<text x="458.60" y="474.60" font-size="7.8" font-weight="bold" fill="#111" stroke="#111" stroke-width="0.23" text-anchor="middle" font-style="italic">NS</text>
<line x1="478.90" y1="506.37" x2="478.90" y2="500.18" stroke="#1a1a1a" stroke-width="1.2"/>
<line x1="476.50" y1="500.18" x2="481.30" y2="500.18" stroke="#1a1a1a" stroke-width="1.2"/>
<rect x="472.35" y="506.72" width="13.10" height="25.28" fill="#273d74" stroke="#15244a" stroke-width="0.7"/>
<text x="480.60" y="500.18" font-size="7.6" font-weight="bold" fill="#111" stroke="#111" stroke-width="0.15" text-anchor="middle">*</text>
<line x1="501.25" y1="526.14" x2="501.25" y2="523.12" stroke="#1a1a1a" stroke-width="1.2"/>
<line x1="498.85" y1="523.12" x2="503.65" y2="523.12" stroke="#1a1a1a" stroke-width="1.2"/>
<rect x="494.85" y="526.49" width="12.80" height="5.51" fill="#ee3d2c" stroke="#ae2a1c" stroke-width="0.7"/>
<text x="501.25" y="523.70" font-size="7.6" font-weight="bold" fill="#111" stroke="#111" stroke-width="0.15" text-anchor="middle">***</text>
<line x1="420.80" y1="463.00" x2="420.80" y2="532.65" stroke="#111" stroke-width="1.3"/>
<line x1="420.15" y1="532.00" x2="510.00" y2="532.00" stroke="#111" stroke-width="1.3"/>
<line x1="418.20" y1="532.00" x2="420.80" y2="532.00" stroke="#111" stroke-width="1.0"/>
<text x="417.40" y="535.00" font-size="7.4" font-weight="bold" fill="#111" stroke="#111" stroke-width="0.22" text-anchor="end">0</text>
<line x1="418.20" y1="515.25" x2="420.80" y2="515.25" stroke="#111" stroke-width="1.0"/>
<text x="417.40" y="518.25" font-size="7.4" font-weight="bold" fill="#111" stroke="#111" stroke-width="0.22" text-anchor="end">10</text>
<line x1="418.20" y1="498.50" x2="420.80" y2="498.50" stroke="#111" stroke-width="1.0"/>
<text x="417.40" y="501.50" font-size="7.4" font-weight="bold" fill="#111" stroke="#111" stroke-width="0.22" text-anchor="end">20</text>
<line x1="418.20" y1="481.75" x2="420.80" y2="481.75" stroke="#111" stroke-width="1.0"/>
<text x="417.40" y="484.75" font-size="7.4" font-weight="bold" fill="#111" stroke="#111" stroke-width="0.22" text-anchor="end">30</text>
<line x1="418.20" y1="465.00" x2="420.80" y2="465.00" stroke="#111" stroke-width="1.0"/>
<text x="417.40" y="468.00" font-size="7.4" font-weight="bold" fill="#111" stroke="#111" stroke-width="0.22" text-anchor="end">40</text>
<text x="402.60" y="502.00" font-size="8.1" font-weight="bold" fill="#111" stroke="#111" stroke-width="0.24" text-anchor="middle" transform="rotate(-90 402.60 502.00)">% CXCR3<tspan dy="-2.43" font-size="5.18">+</tspan></text>
<line x1="480.00" y1="492.00" x2="504.00" y2="492.00" stroke="#999" stroke-width="0.7" stroke-dasharray="1.4 1"/>
<text x="492.00" y="493.00" font-size="7.6" font-weight="bold" fill="#111" stroke="#111" stroke-width="0.15" text-anchor="middle">**</text>
<text x="418.90" y="541.20" font-size="8.6" font-weight="bold" fill="#111" stroke="#111" stroke-width="0.26" textLength="16.00" lengthAdjust="spacingAndGlyphs">Rβ2</text>
<text x="434.90" y="538.80" font-size="6.4" font-weight="bold" fill="#111" stroke="#111" stroke-width="0.19">+</text>
<text x="470.30" y="541.20" font-size="8.6" font-weight="bold" fill="#111" stroke="#111" stroke-width="0.26" textLength="16.00" lengthAdjust="spacingAndGlyphs">Rβ2</text>
<text x="486.30" y="538.80" font-size="6.4" font-weight="bold" fill="#111" stroke="#111" stroke-width="0.19">+</text>
<text x="439.20" y="541.20" font-size="8.6" font-weight="bold" fill="#111" stroke="#111" stroke-width="0.26" textLength="26.00" lengthAdjust="spacingAndGlyphs">gp130</text>
<text x="465.10" y="538.80" font-size="6.4" font-weight="bold" fill="#111" stroke="#111" stroke-width="0.19">+</text>
<text x="490.40" y="541.20" font-size="8.6" font-weight="bold" fill="#111" stroke="#111" stroke-width="0.26" textLength="26.00" lengthAdjust="spacingAndGlyphs">gp130</text>
<text x="516.30" y="538.80" font-size="6.4" font-weight="bold" fill="#111" stroke="#111" stroke-width="0.19">+</text>
<line x1="429.00" y1="543.90" x2="465.40" y2="543.90" stroke="#333" stroke-width="0.7"/>
<line x1="471.30" y1="543.90" x2="509.40" y2="543.90" stroke="#333" stroke-width="0.7"/>
<text x="444.20" y="552.40" font-size="8.8" font-weight="bold" fill="#111" stroke="#111" stroke-width="0.26" text-anchor="middle">OVA</text>
<text x="493.00" y="552.40" font-size="8.8" font-weight="bold" fill="#111" stroke="#111" stroke-width="0.26" text-anchor="middle">OVA+rIL35</text>
<line x1="360.80" y1="586.84" x2="360.80" y2="569.36" stroke="#1a1a1a" stroke-width="1.2"/>
<line x1="358.40" y1="569.36" x2="363.20" y2="569.36" stroke="#1a1a1a" stroke-width="1.2"/>
<rect x="354.70" y="587.34" width="12.20" height="45.36" fill="#ffffff" stroke="#1c1c1c" stroke-width="1.0"/>
<line x1="383.10" y1="589.57" x2="383.10" y2="577.28" stroke="#1a1a1a" stroke-width="1.2"/>
<line x1="380.70" y1="577.28" x2="385.50" y2="577.28" stroke="#1a1a1a" stroke-width="1.2"/>
<rect x="376.50" y="590.07" width="13.20" height="42.63" fill="#aaaaaa" stroke="#1c1c1c" stroke-width="1.0"/>
<text x="383.70" y="574.20" font-size="7.8" font-weight="bold" fill="#111" stroke="#111" stroke-width="0.23" text-anchor="middle" font-style="italic">NS</text>
<line x1="405.80" y1="590.38" x2="405.80" y2="573.19" stroke="#1a1a1a" stroke-width="1.2"/>
<line x1="403.40" y1="573.19" x2="408.20" y2="573.19" stroke="#1a1a1a" stroke-width="1.2"/>
<rect x="399.35" y="590.74" width="12.90" height="41.97" fill="#273d74" stroke="#15244a" stroke-width="0.7"/>
<text x="406.40" y="569.40" font-size="7.8" font-weight="bold" fill="#111" stroke="#111" stroke-width="0.23" text-anchor="middle" font-style="italic">NS</text>
<line x1="427.60" y1="615.77" x2="427.60" y2="608.40" stroke="#1a1a1a" stroke-width="1.2"/>
<line x1="425.20" y1="608.40" x2="430.00" y2="608.40" stroke="#1a1a1a" stroke-width="1.2"/>
<rect x="420.95" y="616.12" width="13.30" height="16.58" fill="#ee3d2c" stroke="#ae2a1c" stroke-width="0.7"/>
<text x="427.60" y="608.98" font-size="7.6" font-weight="bold" fill="#111" stroke="#111" stroke-width="0.15" text-anchor="middle">**</text>
<line x1="348.80" y1="562.00" x2="348.80" y2="633.35" stroke="#111" stroke-width="1.3"/>
<line x1="348.15" y1="632.70" x2="437.00" y2="632.70" stroke="#111" stroke-width="1.3"/>
<line x1="346.20" y1="632.70" x2="348.80" y2="632.70" stroke="#111" stroke-width="1.0"/>
<text x="344.90" y="635.70" font-size="7.6" font-weight="bold" fill="#111" stroke="#111" stroke-width="0.23" text-anchor="end">0</text>
<line x1="346.20" y1="619.05" x2="348.80" y2="619.05" stroke="#111" stroke-width="1.0"/>
<text x="344.90" y="622.05" font-size="7.6" font-weight="bold" fill="#111" stroke="#111" stroke-width="0.23" text-anchor="end">5</text>
<line x1="346.20" y1="605.40" x2="348.80" y2="605.40" stroke="#111" stroke-width="1.0"/>
<text x="344.90" y="608.40" font-size="7.6" font-weight="bold" fill="#111" stroke="#111" stroke-width="0.23" text-anchor="end">10</text>
<line x1="346.20" y1="591.75" x2="348.80" y2="591.75" stroke="#111" stroke-width="1.0"/>
<text x="344.90" y="594.75" font-size="7.6" font-weight="bold" fill="#111" stroke="#111" stroke-width="0.23" text-anchor="end">15</text>
<line x1="346.20" y1="578.10" x2="348.80" y2="578.10" stroke="#111" stroke-width="1.0"/>
<text x="344.90" y="581.10" font-size="7.6" font-weight="bold" fill="#111" stroke="#111" stroke-width="0.23" text-anchor="end">20</text>
<line x1="346.20" y1="564.45" x2="348.80" y2="564.45" stroke="#111" stroke-width="1.0"/>
<text x="344.90" y="567.45" font-size="7.6" font-weight="bold" fill="#111" stroke="#111" stroke-width="0.23" text-anchor="end">25</text>
<text x="332.40" y="599.40" font-size="8.2" font-weight="bold" fill="#111" stroke="#111" stroke-width="0.25" text-anchor="middle" transform="rotate(-90 332.40 599.40)">% CCR5<tspan dy="-2.46" font-size="5.25">+</tspan></text>
<line x1="413.00" y1="562.50" x2="429.50" y2="562.50" stroke="#999" stroke-width="0.7" stroke-dasharray="1.4 1"/>
<text x="417.50" y="562.20" font-size="7.6" font-weight="bold" fill="#111" stroke="#111" stroke-width="0.15" text-anchor="middle">**</text>
<text x="347.10" y="641.80" font-size="8.6" font-weight="bold" fill="#111" stroke="#111" stroke-width="0.26" textLength="16.00" lengthAdjust="spacingAndGlyphs">Rβ2</text>
<text x="363.10" y="639.40" font-size="6.4" font-weight="bold" fill="#111" stroke="#111" stroke-width="0.19">+</text>
<text x="398.90" y="641.80" font-size="8.6" font-weight="bold" fill="#111" stroke="#111" stroke-width="0.26" textLength="16.00" lengthAdjust="spacingAndGlyphs">Rβ2</text>
<text x="414.90" y="639.40" font-size="6.4" font-weight="bold" fill="#111" stroke="#111" stroke-width="0.19">+</text>
<text x="367.40" y="641.80" font-size="8.6" font-weight="bold" fill="#111" stroke="#111" stroke-width="0.26" textLength="26.00" lengthAdjust="spacingAndGlyphs">gp130</text>
<text x="393.30" y="639.40" font-size="6.4" font-weight="bold" fill="#111" stroke="#111" stroke-width="0.19">+</text>
<text x="419.20" y="641.80" font-size="8.6" font-weight="bold" fill="#111" stroke="#111" stroke-width="0.26" textLength="26.00" lengthAdjust="spacingAndGlyphs">gp130</text>
<text x="445.10" y="639.40" font-size="6.4" font-weight="bold" fill="#111" stroke="#111" stroke-width="0.19">+</text>
<line x1="356.20" y1="644.40" x2="392.10" y2="644.40" stroke="#333" stroke-width="0.7"/>
<line x1="396.30" y1="644.40" x2="436.50" y2="644.40" stroke="#333" stroke-width="0.7"/>
<text x="371.50" y="652.80" font-size="8.8" font-weight="bold" fill="#111" stroke="#111" stroke-width="0.26" text-anchor="middle">OVA</text>
<text x="418.80" y="652.80" font-size="8.8" font-weight="bold" fill="#111" stroke="#111" stroke-width="0.26" text-anchor="middle">OVA+rIL35</text>
</svg>
</body></html>
